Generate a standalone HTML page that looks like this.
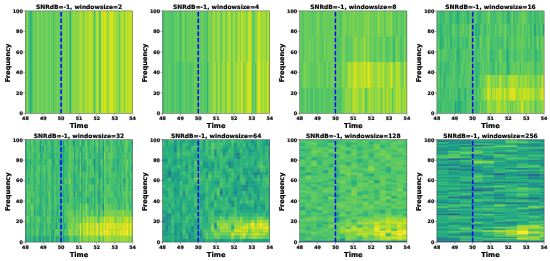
<!DOCTYPE html><html><head><meta charset="utf-8"><style>html,body{margin:0;padding:0;background:#fff;width:550px;height:261px;overflow:hidden}svg{display:block}</style></head><body><svg width="550" height="261" viewBox="0 0 550 261">
<rect width="550" height="261" fill="#fff"/>
<filter id="bl" x="-5%" y="-5%" width="110%" height="110%"><feGaussianBlur stdDeviation="0.45"/></filter>
<clipPath id="c0"><rect x="25.4" y="10.9" width="107.2" height="102.4"/></clipPath>
<g clip-path="url(#c0)">
<g filter="url(#bl)">
<rect x="23.4" y="8.9" width="111.2" height="106.4" fill="#86d549"/>
<path fill="#26ad81" d="M30 8.9h1v106.4h-1zM70 8.9h1v106.4h-1z"/>
<path fill="#37b878" d="M31 8.9h1v106.4h-1z"/>
<path fill="#3bbb75" d="M53 8.9h1v106.4h-1z"/>
<path fill="#44bf70" d="M29 8.9h1v106.4h-1zM94 8.9h1v106.4h-1z"/>
<path fill="#48c16e" d="M69 8.9h1v106.4h-1z"/>
<path fill="#4ec36b" d="M99 8.9h1v106.4h-1z"/>
<path fill="#52c569" d="M32 8.9h1v106.4h-1z"/>
<path fill="#58c765" d="M36 8.9h1v106.4h-1zM40 8.9h1v106.4h-1zM66 8.9h1v106.4h-1z"/>
<path fill="#5ec962" d="M28 8.9h1v106.4h-1zM43 8.9h1v106.4h-1zM48 8.9h1v106.4h-1zM51 8.9h1v106.4h-1zM55 8.9h1v106.4h-1zM59 8.9h1v106.4h-1zM100 8.9h1v106.4h-1z"/>
<path fill="#63cb5f" d="M35 8.9h1v106.4h-1zM39 8.9h1v106.4h-1zM44 8.9h1v106.4h-1zM62 8.9h1v106.4h-1z"/>
<path fill="#69cd5b" d="M33 8.9h1v106.4h-1zM49 8.9h1v106.4h-1zM54 8.9h1v106.4h-1zM56 8.9h1v106.4h-1zM58 8.9h1v106.4h-1zM61 8.9h1v106.4h-1z"/>
<path fill="#6ece58" d="M23.4 8.9h3.6v106.4h-3.6zM42 8.9h1v106.4h-1zM45 8.9h1v106.4h-1zM47 8.9h1v106.4h-1zM60 8.9h1v106.4h-1zM119 8.9h1v106.4h-1z"/>
<path fill="#75d054" d="M34 8.9h1v106.4h-1zM38 8.9h1v106.4h-1zM46 8.9h1v106.4h-1zM50 8.9h1v106.4h-1zM57 8.9h1v106.4h-1zM63 8.9h2v106.4h-2zM71 8.9h1v106.4h-1z"/>
<path fill="#7ad151" d="M27 8.9h1v106.4h-1zM52 8.9h1v106.4h-1zM67 8.9h1v106.4h-1zM83 8.9h1v106.4h-1zM95 8.9h1v106.4h-1z"/>
<path fill="#81d34d" d="M68 8.9h1v106.4h-1zM72 8.9h1v106.4h-1zM124 8.9h1v106.4h-1z"/>
<path fill="#86d549" d="M65 8.9h1v106.4h-1zM75 8.9h3v106.4h-3zM93 8.9h1v106.4h-1zM118 8.9h1v106.4h-1z"/>
<path fill="#8ed645" d="M37 8.9h1v106.4h-1zM41 8.9h1v106.4h-1zM74 8.9h1v106.4h-1zM78 8.9h1v106.4h-1zM84 8.9h1v106.4h-1z"/>
<path fill="#95d840" d="M117 8.9h1v106.4h-1z"/>
<path fill="#9bd93c" d="M73 8.9h1v106.4h-1zM79 8.9h1v106.4h-1zM82 8.9h1v106.4h-1zM107 8.9h1v106.4h-1zM116 8.9h1v106.4h-1zM120 8.9h1v106.4h-1z"/>
<path fill="#a2da37" d="M86 8.9h1v106.4h-1zM88 8.9h1v106.4h-1zM92 8.9h1v106.4h-1zM108 8.9h1v106.4h-1zM114 8.9h1v106.4h-1zM123 8.9h1v106.4h-1z"/>
<path fill="#a8db34" d="M81 8.9h1v106.4h-1zM87 8.9h1v106.4h-1zM98 8.9h1v106.4h-1zM106 8.9h1v106.4h-1zM115 8.9h1v106.4h-1z"/>
<path fill="#b0dd2f" d="M85 8.9h1v106.4h-1zM91 8.9h1v106.4h-1zM121 8.9h1v106.4h-1z"/>
<path fill="#b5de2b" d="M80 8.9h1v106.4h-1zM96 8.9h1v106.4h-1zM113 8.9h1v106.4h-1zM125 8.9h1v106.4h-1zM127 8.9h1v106.4h-1z"/>
<path fill="#bddf26" d="M89 8.9h1v106.4h-1zM97 8.9h1v106.4h-1zM101 8.9h1v106.4h-1zM109 8.9h1v106.4h-1zM122 8.9h1v106.4h-1zM128 8.9h2v106.4h-2z"/>
<path fill="#c2df23" d="M90 8.9h1v106.4h-1zM103 8.9h1v106.4h-1zM126 8.9h1v106.4h-1zM130 8.9h1v106.4h-1z"/>
<path fill="#cae11f" d="M131 8.9h3.6v106.4h-3.6z"/>
<path fill="#d2e21b" d="M102 8.9h1v106.4h-1zM110 8.9h1v106.4h-1z"/>
<path fill="#d8e219" d="M104 8.9h1v106.4h-1zM111 8.9h2v106.4h-2z"/>
<path fill="#dfe318" d="M105 8.9h1v106.4h-1z"/>
</g>
<line x1="61.13" y1="113.3" x2="61.13" y2="10.9" stroke="#0000ff" stroke-width="1.5" stroke-dasharray="4.5 1.95"/>
</g>
<rect x="25.4" y="10.9" width="107.2" height="102.4" fill="none" stroke="#222" stroke-width="0.4"/>
<path d="M25.4 113.3v2.3M43.27 113.3v2.3M61.13 113.3v2.3M79 113.3v2.3M96.87 113.3v2.3M114.73 113.3v2.3M132.6 113.3v2.3M25.4 113.3h-2.3M25.4 92.82h-2.3M25.4 72.34h-2.3M25.4 51.86h-2.3M25.4 31.38h-2.3M25.4 10.9h-2.3" stroke="#444" stroke-width="0.4" fill="none"/>
<g font-family="'DejaVu Sans', 'Liberation Sans', sans-serif" font-weight="bold" stroke="#000" stroke-width="0.18" font-size="4.8" fill="#000">
<text x="25.4" y="119.7" text-anchor="middle">48</text>
<text x="43.27" y="119.7" text-anchor="middle">49</text>
<text x="61.13" y="119.7" text-anchor="middle">50</text>
<text x="79" y="119.7" text-anchor="middle">51</text>
<text x="96.87" y="119.7" text-anchor="middle">52</text>
<text x="114.73" y="119.7" text-anchor="middle">53</text>
<text x="132.6" y="119.7" text-anchor="middle">54</text>
<text x="22.8" y="115.1" text-anchor="end">0</text>
<text x="22.8" y="94.62" text-anchor="end">20</text>
<text x="22.8" y="74.14" text-anchor="end">40</text>
<text x="22.8" y="53.66" text-anchor="end">60</text>
<text x="22.8" y="33.18" text-anchor="end">80</text>
<text x="22.8" y="12.7" text-anchor="end">100</text>
</g>
<text x="79" y="9" text-anchor="middle" font-size="5.95" font-family="'DejaVu Sans', 'Liberation Sans', sans-serif" font-weight="bold" stroke="#000" stroke-width="0.18">SNRdB=-1, windowsize=2</text>
<text x="79" y="127.8" text-anchor="middle" font-size="6.8" font-family="'DejaVu Sans', 'Liberation Sans', sans-serif" font-weight="bold" stroke="#000" stroke-width="0.18">Time</text>
<text transform="translate(9.5 62.95) rotate(-90)" text-anchor="middle" font-size="6.6" font-family="'DejaVu Sans', 'Liberation Sans', sans-serif" font-weight="bold" stroke="#000" stroke-width="0.18">Frequency</text>
<clipPath id="c1"><rect x="162.57" y="10.9" width="107.2" height="102.4"/></clipPath>
<g clip-path="url(#c1)">
<g filter="url(#bl)">
<rect x="160.57" y="8.9" width="111.2" height="106.4" fill="#7ad151"/>
<path fill="#2cb17e" d="M207 62.1h1v53.2h-1z"/>
<path fill="#37b878" d="M180 62.1h1v53.2h-1z"/>
<path fill="#3bbb75" d="M173 62.1h1v53.2h-1zM160.57 8.9h3.43v53.2h-3.43zM180 8.9h1v53.2h-1z"/>
<path fill="#3fbc73" d="M160.57 62.1h3.43v53.2h-3.43zM207 8.9h1v53.2h-1z"/>
<path fill="#44bf70" d="M173 8.9h1v53.2h-1z"/>
<path fill="#48c16e" d="M164 62.1h1v53.2h-1zM167 62.1h1v53.2h-1zM172 62.1h1v53.2h-1zM179 62.1h1v53.2h-1zM185 62.1h1v53.2h-1zM190 62.1h1v53.2h-1zM252 62.1h1v53.2h-1zM255 62.1h1v53.2h-1zM171 8.9h1v53.2h-1zM179 8.9h1v53.2h-1z"/>
<path fill="#4ec36b" d="M177 62.1h2v53.2h-2zM181 62.1h1v53.2h-1zM193 62.1h1v53.2h-1zM201 62.1h1v53.2h-1zM206 62.1h1v53.2h-1zM164 8.9h1v53.2h-1zM185 8.9h1v53.2h-1zM204 8.9h1v53.2h-1zM206 8.9h1v53.2h-1z"/>
<path fill="#52c569" d="M171 62.1h1v53.2h-1zM176 62.1h1v53.2h-1zM188 62.1h1v53.2h-1zM191 62.1h1v53.2h-1zM204 62.1h1v53.2h-1zM168 8.9h1v53.2h-1zM170 8.9h1v53.2h-1zM172 8.9h1v53.2h-1zM181 8.9h1v53.2h-1z"/>
<path fill="#58c765" d="M170 62.1h1v53.2h-1zM182 62.1h1v53.2h-1zM186 62.1h1v53.2h-1zM196 62.1h1v53.2h-1zM167 8.9h1v53.2h-1zM176 8.9h1v53.2h-1zM186 8.9h1v53.2h-1zM197 8.9h1v53.2h-1zM252 8.9h2v53.2h-2z"/>
<path fill="#5ec962" d="M166 62.1h1v53.2h-1zM168 62.1h2v53.2h-2zM175 62.1h1v53.2h-1zM183 62.1h1v53.2h-1zM187 62.1h1v53.2h-1zM189 62.1h1v53.2h-1zM192 62.1h1v53.2h-1zM197 62.1h1v53.2h-1zM200 62.1h1v53.2h-1zM203 62.1h1v53.2h-1zM205 62.1h1v53.2h-1zM208 62.1h1v53.2h-1zM216 62.1h1v53.2h-1zM253 62.1h1v53.2h-1zM165 8.9h1v53.2h-1zM169 8.9h1v53.2h-1zM175 8.9h1v53.2h-1zM188 8.9h1v53.2h-1zM192 8.9h1v53.2h-1zM196 8.9h1v53.2h-1zM198 8.9h1v53.2h-1zM200 8.9h1v53.2h-1zM221 8.9h1v53.2h-1z"/>
<path fill="#63cb5f" d="M165 62.1h1v53.2h-1zM174 62.1h1v53.2h-1zM198 62.1h1v53.2h-1zM166 8.9h1v53.2h-1zM174 8.9h1v53.2h-1zM199 8.9h1v53.2h-1zM203 8.9h1v53.2h-1z"/>
<path fill="#69cd5b" d="M184 62.1h1v53.2h-1zM199 62.1h1v53.2h-1zM202 62.1h1v53.2h-1zM220 62.1h1v53.2h-1zM225 62.1h1v53.2h-1zM232 62.1h1v53.2h-1zM177 8.9h1v53.2h-1zM184 8.9h1v53.2h-1zM189 8.9h3v53.2h-3zM194 8.9h1v53.2h-1zM201 8.9h1v53.2h-1zM205 8.9h1v53.2h-1zM220 8.9h1v53.2h-1zM226 8.9h1v53.2h-1zM231 8.9h1v53.2h-1zM236 8.9h1v53.2h-1zM254 8.9h1v53.2h-1z"/>
<path fill="#6ece58" d="M195 62.1h1v53.2h-1zM221 62.1h1v53.2h-1zM231 62.1h1v53.2h-1zM182 8.9h1v53.2h-1zM193 8.9h1v53.2h-1zM211 8.9h1v53.2h-1zM216 8.9h1v53.2h-1z"/>
<path fill="#75d054" d="M209 62.1h1v53.2h-1zM243 62.1h1v53.2h-1zM178 8.9h1v53.2h-1zM195 8.9h1v53.2h-1zM202 8.9h1v53.2h-1zM210 8.9h1v53.2h-1zM225 8.9h1v53.2h-1zM246 8.9h1v53.2h-1z"/>
<path fill="#7ad151" d="M194 62.1h1v53.2h-1zM211 62.1h1v53.2h-1zM254 62.1h1v53.2h-1zM187 8.9h1v53.2h-1zM208 8.9h1v53.2h-1zM215 8.9h1v53.2h-1zM232 8.9h1v53.2h-1zM235 8.9h1v53.2h-1zM240 8.9h1v53.2h-1zM266 8.9h1v53.2h-1z"/>
<path fill="#81d34d" d="M210 62.1h1v53.2h-1zM212 62.1h1v53.2h-1zM235 62.1h1v53.2h-1zM256 62.1h1v53.2h-1zM183 8.9h1v53.2h-1zM212 8.9h1v53.2h-1z"/>
<path fill="#86d549" d="M226 62.1h1v53.2h-1zM244 62.1h1v53.2h-1zM209 8.9h1v53.2h-1zM222 8.9h1v53.2h-1zM255 8.9h1v53.2h-1z"/>
<path fill="#8ed645" d="M217 62.1h1v53.2h-1zM219 8.9h1v53.2h-1zM256 8.9h1v53.2h-1zM261 8.9h1v53.2h-1z"/>
<path fill="#95d840" d="M213 62.1h1v53.2h-1zM261 62.1h1v53.2h-1zM237 8.9h1v53.2h-1zM247 8.9h1v53.2h-1zM265 8.9h1v53.2h-1z"/>
<path fill="#9bd93c" d="M215 62.1h1v53.2h-1zM219 62.1h1v53.2h-1zM222 62.1h1v53.2h-1zM224 62.1h1v53.2h-1zM233 62.1h1v53.2h-1zM236 62.1h1v53.2h-1zM240 62.1h1v53.2h-1zM245 62.1h1v53.2h-1zM265 62.1h1v53.2h-1zM214 8.9h1v53.2h-1zM217 8.9h1v53.2h-1zM227 8.9h1v53.2h-1zM234 8.9h1v53.2h-1zM245 8.9h1v53.2h-1z"/>
<path fill="#a2da37" d="M214 62.1h1v53.2h-1zM230 62.1h1v53.2h-1zM239 62.1h1v53.2h-1zM251 62.1h1v53.2h-1zM264 62.1h1v53.2h-1zM266 62.1h1v53.2h-1zM213 8.9h1v53.2h-1zM218 8.9h1v53.2h-1zM223 8.9h1v53.2h-1zM230 8.9h1v53.2h-1zM243 8.9h2v53.2h-2zM257 8.9h1v53.2h-1zM262 8.9h1v53.2h-1zM264 8.9h1v53.2h-1z"/>
<path fill="#a8db34" d="M218 62.1h1v53.2h-1zM223 62.1h1v53.2h-1zM237 62.1h1v53.2h-1zM224 8.9h1v53.2h-1zM228 8.9h1v53.2h-1zM233 8.9h1v53.2h-1zM239 8.9h1v53.2h-1zM263 8.9h1v53.2h-1zM267 8.9h1v53.2h-1z"/>
<path fill="#b0dd2f" d="M227 62.1h1v53.2h-1zM234 62.1h1v53.2h-1zM238 62.1h1v53.2h-1zM246 62.1h1v53.2h-1zM262 62.1h1v53.2h-1zM229 8.9h1v53.2h-1zM251 8.9h1v53.2h-1zM260 8.9h1v53.2h-1z"/>
<path fill="#b5de2b" d="M229 62.1h1v53.2h-1zM260 62.1h1v53.2h-1zM263 62.1h1v53.2h-1zM268 62.1h3.77v53.2h-3.77zM238 8.9h1v53.2h-1zM242 8.9h1v53.2h-1z"/>
<path fill="#bddf26" d="M228 62.1h1v53.2h-1zM257 62.1h1v53.2h-1zM248 8.9h1v53.2h-1zM268 8.9h3.77v53.2h-3.77z"/>
<path fill="#c2df23" d="M247 62.1h1v53.2h-1zM250 8.9h1v53.2h-1z"/>
<path fill="#cae11f" d="M250 62.1h1v53.2h-1zM241 8.9h1v53.2h-1zM249 8.9h1v53.2h-1z"/>
<path fill="#d2e21b" d="M241 62.1h1v53.2h-1zM248 62.1h1v53.2h-1zM267 62.1h1v53.2h-1zM258 8.9h2v53.2h-2z"/>
<path fill="#d8e219" d="M242 62.1h1v53.2h-1zM249 62.1h1v53.2h-1zM258 62.1h1v53.2h-1z"/>
<path fill="#e5e419" d="M259 62.1h1v53.2h-1z"/>
</g>
<line x1="198.3" y1="113.3" x2="198.3" y2="10.9" stroke="#0000ff" stroke-width="1.5" stroke-dasharray="4.5 1.95"/>
</g>
<rect x="162.57" y="10.9" width="107.2" height="102.4" fill="none" stroke="#222" stroke-width="0.4"/>
<path d="M162.57 113.3v2.3M180.44 113.3v2.3M198.3 113.3v2.3M216.17 113.3v2.3M234.04 113.3v2.3M251.9 113.3v2.3M269.77 113.3v2.3M162.57 113.3h-2.3M162.57 92.82h-2.3M162.57 72.34h-2.3M162.57 51.86h-2.3M162.57 31.38h-2.3M162.57 10.9h-2.3" stroke="#444" stroke-width="0.4" fill="none"/>
<g font-family="'DejaVu Sans', 'Liberation Sans', sans-serif" font-weight="bold" stroke="#000" stroke-width="0.18" font-size="4.8" fill="#000">
<text x="162.57" y="119.7" text-anchor="middle">48</text>
<text x="180.44" y="119.7" text-anchor="middle">49</text>
<text x="198.3" y="119.7" text-anchor="middle">50</text>
<text x="216.17" y="119.7" text-anchor="middle">51</text>
<text x="234.04" y="119.7" text-anchor="middle">52</text>
<text x="251.9" y="119.7" text-anchor="middle">53</text>
<text x="269.77" y="119.7" text-anchor="middle">54</text>
<text x="159.97" y="115.1" text-anchor="end">0</text>
<text x="159.97" y="94.62" text-anchor="end">20</text>
<text x="159.97" y="74.14" text-anchor="end">40</text>
<text x="159.97" y="53.66" text-anchor="end">60</text>
<text x="159.97" y="33.18" text-anchor="end">80</text>
<text x="159.97" y="12.7" text-anchor="end">100</text>
</g>
<text x="216.17" y="9" text-anchor="middle" font-size="5.95" font-family="'DejaVu Sans', 'Liberation Sans', sans-serif" font-weight="bold" stroke="#000" stroke-width="0.18">SNRdB=-1, windowsize=4</text>
<text x="216.17" y="127.8" text-anchor="middle" font-size="6.8" font-family="'DejaVu Sans', 'Liberation Sans', sans-serif" font-weight="bold" stroke="#000" stroke-width="0.18">Time</text>
<text transform="translate(146.67 62.95) rotate(-90)" text-anchor="middle" font-size="6.6" font-family="'DejaVu Sans', 'Liberation Sans', sans-serif" font-weight="bold" stroke="#000" stroke-width="0.18">Frequency</text>
<clipPath id="c2"><rect x="299.74" y="10.9" width="107.2" height="102.4"/></clipPath>
<g clip-path="url(#c2)">
<g filter="url(#bl)">
<rect x="297.74" y="8.9" width="111.2" height="106.4" fill="#73d056"/>
<path fill="#32b67a" d="M392.91 36.5h2v25.6h-2z"/>
<path fill="#37b878" d="M311.76 87.7h1v27.6h-1z"/>
<path fill="#3bbb75" d="M301.74 87.7h1v27.6h-1zM306.75 87.7h1v27.6h-1zM309.76 87.7h1v27.6h-1zM314.77 87.7h1v27.6h-1z"/>
<path fill="#3fbc73" d="M332.8 87.7h1v27.6h-1zM338.81 87.7h1v27.6h-1zM339.81 8.9h1v27.6h-1z"/>
<path fill="#44bf70" d="M302.75 87.7h1v27.6h-1zM310.76 87.7h1v27.6h-1zM317.77 87.7h1v27.6h-1zM333.8 87.7h1v27.6h-1zM337.81 87.7h1v27.6h-1zM302.75 36.5h1v25.6h-1zM321.78 36.5h1v25.6h-1zM399.93 36.5h1v25.6h-1zM312.76 8.9h1v27.6h-1z"/>
<path fill="#48c16e" d="M300.74 87.7h1v27.6h-1zM315.77 87.7h1v27.6h-1zM320.78 87.7h2v27.6h-2zM327.79 87.7h1v27.6h-1zM339.81 87.7h2v27.6h-2zM364.86 87.7h1v27.6h-1zM339.81 62.1h1v25.6h-1zM314.77 36.5h1v25.6h-1zM337.81 36.5h2v25.6h-2zM302.75 8.9h1v27.6h-1zM395.92 8.9h1v27.6h-1z"/>
<path fill="#4ec36b" d="M316.77 87.7h1v27.6h-1zM324.79 87.7h1v27.6h-1zM326.79 87.7h1v27.6h-1zM300.74 62.1h1v25.6h-1zM314.77 62.1h1v25.6h-1zM324.79 62.1h1v25.6h-1zM328.79 62.1h1v25.6h-1zM338.81 62.1h1v25.6h-1zM301.74 36.5h1v25.6h-1zM339.81 36.5h1v25.6h-1zM344.82 36.5h1v25.6h-1zM350.84 36.5h1v25.6h-1zM385.9 36.5h2v25.6h-2zM400.93 36.5h1v25.6h-1zM301.74 8.9h1v27.6h-1zM311.76 8.9h1v27.6h-1zM338.81 8.9h1v27.6h-1zM340.82 8.9h1v27.6h-1zM392.91 8.9h1v27.6h-1z"/>
<path fill="#52c569" d="M305.75 87.7h1v27.6h-1zM325.79 87.7h1v27.6h-1zM328.79 87.7h1v27.6h-1zM334.81 87.7h1v27.6h-1zM336.81 87.7h1v27.6h-1zM365.86 87.7h1v27.6h-1zM310.76 62.1h1v25.6h-1zM320.78 62.1h1v25.6h-1zM323.78 62.1h1v25.6h-1zM313.77 36.5h1v25.6h-1zM333.8 36.5h1v25.6h-1zM336.81 36.5h1v25.6h-1zM346.83 36.5h2v25.6h-2zM374.88 36.5h1v25.6h-1zM401.93 36.5h2v25.6h-2zM321.78 8.9h1v27.6h-1zM383.9 8.9h1v27.6h-1zM396.92 8.9h1v27.6h-1zM400.93 8.9h2v27.6h-2z"/>
<path fill="#58c765" d="M307.75 87.7h2v27.6h-2zM312.76 87.7h1v27.6h-1zM319.78 87.7h1v27.6h-1zM322.78 87.7h1v27.6h-1zM331.8 87.7h1v27.6h-1zM301.74 62.1h1v25.6h-1zM309.76 62.1h1v25.6h-1zM311.76 62.1h1v25.6h-1zM313.77 62.1h1v25.6h-1zM315.77 62.1h1v25.6h-1zM306.75 36.5h1v25.6h-1zM320.78 36.5h1v25.6h-1zM322.78 36.5h1v25.6h-1zM345.83 36.5h1v25.6h-1zM349.83 36.5h1v25.6h-1zM369.87 36.5h1v25.6h-1zM373.88 36.5h1v25.6h-1zM379.89 36.5h2v25.6h-2zM387.9 36.5h1v25.6h-1zM405.94 36.5h3v25.6h-3zM306.75 8.9h1v27.6h-1zM319.78 8.9h2v27.6h-2zM329.8 8.9h1v27.6h-1zM334.81 8.9h1v27.6h-1zM337.81 8.9h1v27.6h-1zM393.92 8.9h1v27.6h-1zM402.93 8.9h1v27.6h-1z"/>
<path fill="#5ec962" d="M297.74 87.7h3v27.6h-3zM318.78 87.7h1v27.6h-1zM329.8 87.7h2v27.6h-2zM335.81 87.7h1v27.6h-1zM391.91 87.7h1v27.6h-1zM297.74 62.1h3v25.6h-3zM306.75 62.1h1v25.6h-1zM322.78 62.1h1v25.6h-1zM329.8 62.1h1v25.6h-1zM333.8 62.1h1v25.6h-1zM337.81 62.1h1v25.6h-1zM401.93 62.1h1v25.6h-1zM300.74 36.5h1v25.6h-1zM303.75 36.5h1v25.6h-1zM309.76 36.5h1v25.6h-1zM315.77 36.5h1v25.6h-1zM319.78 36.5h1v25.6h-1zM325.79 36.5h1v25.6h-1zM340.82 36.5h1v25.6h-1zM351.84 36.5h1v25.6h-1zM370.87 36.5h1v25.6h-1zM375.88 36.5h1v25.6h-1zM378.89 36.5h1v25.6h-1zM384.9 36.5h1v25.6h-1zM391.91 36.5h1v25.6h-1zM300.74 8.9h1v27.6h-1zM309.76 8.9h2v27.6h-2zM313.77 8.9h2v27.6h-2zM322.78 8.9h1v27.6h-1zM333.8 8.9h1v27.6h-1zM358.85 8.9h1v27.6h-1zM361.86 8.9h1v27.6h-1zM373.88 8.9h1v27.6h-1zM375.88 8.9h1v27.6h-1zM384.9 8.9h1v27.6h-1zM399.93 8.9h1v27.6h-1z"/>
<path fill="#63cb5f" d="M303.75 87.7h2v27.6h-2zM323.78 87.7h1v27.6h-1zM341.82 87.7h1v27.6h-1zM302.75 62.1h1v25.6h-1zM312.76 62.1h1v25.6h-1zM325.79 62.1h1v25.6h-1zM327.79 62.1h1v25.6h-1zM340.82 62.1h1v25.6h-1zM305.75 36.5h1v25.6h-1zM310.76 36.5h1v25.6h-1zM318.78 36.5h1v25.6h-1zM326.79 36.5h1v25.6h-1zM332.8 36.5h1v25.6h-1zM334.81 36.5h1v25.6h-1zM358.85 36.5h1v25.6h-1zM372.88 36.5h1v25.6h-1zM381.89 36.5h1v25.6h-1zM388.91 36.5h1v25.6h-1zM394.92 36.5h1v25.6h-1zM303.75 8.9h1v27.6h-1zM308.76 8.9h1v27.6h-1zM325.79 8.9h2v27.6h-2zM328.79 8.9h1v27.6h-1zM332.8 8.9h1v27.6h-1zM336.81 8.9h1v27.6h-1zM341.82 8.9h1v27.6h-1zM346.83 8.9h2v27.6h-2zM355.84 8.9h1v27.6h-1zM369.87 8.9h2v27.6h-2zM404.94 8.9h4v27.6h-4z"/>
<path fill="#69cd5b" d="M313.77 87.7h1v27.6h-1zM342.82 87.7h1v27.6h-1zM307.75 62.1h1v25.6h-1zM316.77 62.1h1v25.6h-1zM319.78 62.1h1v25.6h-1zM332.8 62.1h1v25.6h-1zM334.81 62.1h1v25.6h-1zM336.81 62.1h1v25.6h-1zM344.82 62.1h1v25.6h-1zM311.76 36.5h2v25.6h-2zM317.77 36.5h1v25.6h-1zM324.79 36.5h1v25.6h-1zM330.8 36.5h1v25.6h-1zM335.81 36.5h1v25.6h-1zM348.83 36.5h1v25.6h-1zM365.86 36.5h1v25.6h-1zM389.91 36.5h2v25.6h-2zM397.92 36.5h2v25.6h-2zM307.75 8.9h1v27.6h-1zM315.77 8.9h1v27.6h-1zM324.79 8.9h1v27.6h-1zM327.79 8.9h1v27.6h-1zM335.81 8.9h1v27.6h-1zM345.83 8.9h1v27.6h-1zM359.85 8.9h1v27.6h-1zM372.88 8.9h1v27.6h-1zM380.89 8.9h1v27.6h-1zM391.91 8.9h1v27.6h-1zM394.92 8.9h1v27.6h-1z"/>
<path fill="#6ece58" d="M350.84 87.7h1v27.6h-1zM384.9 87.7h1v27.6h-1zM392.91 87.7h1v27.6h-1zM305.75 62.1h1v25.6h-1zM308.76 62.1h1v25.6h-1zM317.77 62.1h1v25.6h-1zM321.78 62.1h1v25.6h-1zM330.8 62.1h1v25.6h-1zM345.83 62.1h1v25.6h-1zM297.74 36.5h3v25.6h-3zM304.75 36.5h1v25.6h-1zM307.75 36.5h1v25.6h-1zM327.79 36.5h3.01v25.6h-3.01zM331.8 36.5h1v25.6h-1zM341.82 36.5h1v25.6h-1zM357.85 36.5h1v25.6h-1zM361.86 36.5h1v25.6h-1zM377.89 36.5h1v25.6h-1zM396.92 36.5h1v25.6h-1zM297.74 8.9h3v27.6h-3zM304.75 8.9h2v27.6h-2zM318.78 8.9h1v27.6h-1zM330.8 8.9h2v27.6h-2zM350.84 8.9h1v27.6h-1zM354.84 8.9h1v27.6h-1zM362.86 8.9h1v27.6h-1zM365.86 8.9h1v27.6h-1zM374.88 8.9h1v27.6h-1zM397.92 8.9h2v27.6h-2zM403.93 8.9h1v27.6h-1z"/>
<path fill="#75d054" d="M343.82 87.7h1v27.6h-1zM380.89 87.7h1v27.6h-1zM400.93 87.7h1v27.6h-1zM318.78 62.1h1v25.6h-1zM331.8 62.1h1v25.6h-1zM384.9 62.1h1v25.6h-1zM400.93 62.1h1v25.6h-1zM308.76 36.5h1v25.6h-1zM323.78 36.5h1v25.6h-1zM356.85 36.5h1v25.6h-1zM383.9 36.5h1v25.6h-1zM404.94 36.5h1v25.6h-1zM317.77 8.9h1v27.6h-1zM344.82 8.9h1v27.6h-1zM348.83 8.9h1v27.6h-1zM351.84 8.9h1v27.6h-1zM353.84 8.9h1v27.6h-1zM356.85 8.9h2v27.6h-2zM360.85 8.9h1v27.6h-1zM371.87 8.9h1v27.6h-1zM385.9 8.9h1v27.6h-1zM387.9 8.9h2v27.6h-2z"/>
<path fill="#7ad151" d="M366.87 87.7h1v27.6h-1zM373.88 87.7h1v27.6h-1zM303.75 62.1h2v25.6h-2zM326.79 62.1h1v25.6h-1zM335.81 62.1h1v25.6h-1zM392.91 62.1h1v25.6h-1zM316.77 36.5h1v25.6h-1zM359.85 36.5h1v25.6h-1zM366.87 36.5h1v25.6h-1zM371.87 36.5h1v25.6h-1zM376.88 36.5h1v25.6h-1zM395.92 36.5h1v25.6h-1zM403.93 36.5h1v25.6h-1zM316.77 8.9h1v27.6h-1zM323.78 8.9h1v27.6h-1zM342.82 8.9h1v27.6h-1zM349.83 8.9h1v27.6h-1zM352.84 8.9h1v27.6h-1zM376.88 8.9h1v27.6h-1zM379.89 8.9h1v27.6h-1zM382.9 8.9h1v27.6h-1z"/>
<path fill="#81d34d" d="M358.85 87.7h2v27.6h-2zM381.89 87.7h1v27.6h-1zM341.82 62.1h1v25.6h-1zM343.82 62.1h1v25.6h-1zM393.92 62.1h1v25.6h-1zM402.93 62.1h1v25.6h-1zM342.82 36.5h2v25.6h-2zM352.84 36.5h2v25.6h-2zM362.86 36.5h1v25.6h-1zM368.87 36.5h1v25.6h-1zM382.9 36.5h1v25.6h-1zM343.82 8.9h1v27.6h-1zM364.86 8.9h1v27.6h-1zM368.87 8.9h1v27.6h-1zM381.89 8.9h1v27.6h-1z"/>
<path fill="#86d549" d="M344.82 87.7h1v27.6h-1zM372.88 87.7h1v27.6h-1zM375.88 87.7h1v27.6h-1zM379.89 87.7h1v27.6h-1zM393.92 87.7h1v27.6h-1zM401.93 87.7h1v27.6h-1zM373.88 62.1h1v25.6h-1zM399.93 62.1h1v25.6h-1zM360.85 36.5h1v25.6h-1zM366.87 8.9h1v27.6h-1zM378.89 8.9h1v27.6h-1zM386.9 8.9h1v27.6h-1zM389.91 8.9h1v27.6h-1z"/>
<path fill="#8ed645" d="M345.83 87.7h3.01v27.6h-3.01zM370.87 87.7h1v27.6h-1zM378.89 87.7h1v27.6h-1zM342.82 62.1h1v25.6h-1zM346.83 62.1h1v25.6h-1zM387.9 62.1h1v25.6h-1zM355.84 36.5h1v25.6h-1zM364.86 36.5h1v25.6h-1zM367.87 36.5h1v25.6h-1zM363.86 8.9h1v27.6h-1zM367.87 8.9h1v27.6h-1z"/>
<path fill="#95d840" d="M349.83 87.7h1v27.6h-1zM367.87 87.7h1v27.6h-1zM387.9 87.7h2v27.6h-2zM374.88 62.1h2v25.6h-2zM380.89 62.1h1v25.6h-1zM385.9 62.1h1v25.6h-1zM404.94 62.1h1v25.6h-1zM354.84 36.5h1v25.6h-1zM377.89 8.9h1v27.6h-1zM390.91 8.9h1v27.6h-1z"/>
<path fill="#9bd93c" d="M348.83 87.7h1v27.6h-1zM357.85 87.7h1v27.6h-1zM374.88 87.7h1v27.6h-1zM376.88 87.7h1v27.6h-1zM389.91 87.7h2v27.6h-2zM394.92 87.7h1v27.6h-1zM403.93 87.7h1v27.6h-1zM350.84 62.1h1v25.6h-1zM383.9 62.1h1v25.6h-1zM394.92 62.1h1v25.6h-1z"/>
<path fill="#a2da37" d="M351.84 87.7h1v27.6h-1zM363.86 87.7h1v27.6h-1zM369.87 87.7h1v27.6h-1zM385.9 87.7h1v27.6h-1zM397.92 87.7h1v27.6h-1zM402.93 87.7h1v27.6h-1zM372.88 62.1h1v25.6h-1zM386.9 62.1h1v25.6h-1zM405.94 62.1h3v25.6h-3z"/>
<path fill="#a8db34" d="M360.85 87.7h2v27.6h-2zM399.93 87.7h1v27.6h-1zM347.83 62.1h1v25.6h-1zM376.88 62.1h1v25.6h-1zM379.89 62.1h1v25.6h-1zM395.92 62.1h1v25.6h-1z"/>
<path fill="#b0dd2f" d="M354.84 87.7h1v27.6h-1zM371.87 87.7h1v27.6h-1zM383.9 87.7h1v27.6h-1zM395.92 87.7h2v27.6h-2zM404.94 87.7h4v27.6h-4zM351.84 62.1h1v25.6h-1zM358.85 62.1h1v25.6h-1zM365.86 62.1h1v25.6h-1zM370.87 62.1h1v25.6h-1zM378.89 62.1h1v25.6h-1zM388.91 62.1h1v25.6h-1zM363.86 36.5h1v25.6h-1z"/>
<path fill="#b5de2b" d="M356.85 87.7h1v27.6h-1zM377.89 87.7h1v27.6h-1zM349.83 62.1h1v25.6h-1zM355.84 62.1h3.01v25.6h-3.01zM381.89 62.1h1v25.6h-1zM391.91 62.1h1v25.6h-1zM397.92 62.1h2v25.6h-2z"/>
<path fill="#bddf26" d="M362.86 87.7h1v27.6h-1zM382.9 87.7h1v27.6h-1zM398.93 87.7h1v27.6h-1zM359.85 62.1h1v25.6h-1zM362.86 62.1h1v25.6h-1zM369.87 62.1h1v25.6h-1zM371.87 62.1h1v25.6h-1zM389.91 62.1h1v25.6h-1zM396.92 62.1h1v25.6h-1zM403.93 62.1h1v25.6h-1z"/>
<path fill="#c2df23" d="M353.84 87.7h1v27.6h-1zM355.84 87.7h1v27.6h-1zM368.87 87.7h1v27.6h-1zM386.9 87.7h1v27.6h-1zM348.83 62.1h1v25.6h-1zM352.84 62.1h1v25.6h-1zM361.86 62.1h1v25.6h-1zM364.86 62.1h1v25.6h-1zM382.9 62.1h1v25.6h-1z"/>
<path fill="#cae11f" d="M366.87 62.1h1v25.6h-1z"/>
<path fill="#d2e21b" d="M352.84 87.7h1v27.6h-1zM353.84 62.1h1v25.6h-1zM360.85 62.1h1v25.6h-1zM377.89 62.1h1v25.6h-1z"/>
<path fill="#dfe318" d="M390.91 62.1h1v25.6h-1z"/>
<path fill="#e5e419" d="M363.86 62.1h1v25.6h-1zM368.87 62.1h1v25.6h-1z"/>
<path fill="#ece51b" d="M354.84 62.1h1v25.6h-1z"/>
<path fill="#f1e51d" d="M367.87 62.1h1v25.6h-1z"/>
</g>
<line x1="335.47" y1="113.3" x2="335.47" y2="10.9" stroke="#0000ff" stroke-width="1.5" stroke-dasharray="4.5 1.95"/>
</g>
<rect x="299.74" y="10.9" width="107.2" height="102.4" fill="none" stroke="#222" stroke-width="0.4"/>
<path d="M299.74 113.3v2.3M317.61 113.3v2.3M335.47 113.3v2.3M353.34 113.3v2.3M371.21 113.3v2.3M389.07 113.3v2.3M406.94 113.3v2.3M299.74 113.3h-2.3M299.74 92.82h-2.3M299.74 72.34h-2.3M299.74 51.86h-2.3M299.74 31.38h-2.3M299.74 10.9h-2.3" stroke="#444" stroke-width="0.4" fill="none"/>
<g font-family="'DejaVu Sans', 'Liberation Sans', sans-serif" font-weight="bold" stroke="#000" stroke-width="0.18" font-size="4.8" fill="#000">
<text x="299.74" y="119.7" text-anchor="middle">48</text>
<text x="317.61" y="119.7" text-anchor="middle">49</text>
<text x="335.47" y="119.7" text-anchor="middle">50</text>
<text x="353.34" y="119.7" text-anchor="middle">51</text>
<text x="371.21" y="119.7" text-anchor="middle">52</text>
<text x="389.07" y="119.7" text-anchor="middle">53</text>
<text x="406.94" y="119.7" text-anchor="middle">54</text>
<text x="297.14" y="115.1" text-anchor="end">0</text>
<text x="297.14" y="94.62" text-anchor="end">20</text>
<text x="297.14" y="74.14" text-anchor="end">40</text>
<text x="297.14" y="53.66" text-anchor="end">60</text>
<text x="297.14" y="33.18" text-anchor="end">80</text>
<text x="297.14" y="12.7" text-anchor="end">100</text>
</g>
<text x="353.34" y="9" text-anchor="middle" font-size="5.95" font-family="'DejaVu Sans', 'Liberation Sans', sans-serif" font-weight="bold" stroke="#000" stroke-width="0.18">SNRdB=-1, windowsize=8</text>
<text x="353.34" y="127.8" text-anchor="middle" font-size="6.8" font-family="'DejaVu Sans', 'Liberation Sans', sans-serif" font-weight="bold" stroke="#000" stroke-width="0.18">Time</text>
<text transform="translate(283.84 62.95) rotate(-90)" text-anchor="middle" font-size="6.6" font-family="'DejaVu Sans', 'Liberation Sans', sans-serif" font-weight="bold" stroke="#000" stroke-width="0.18">Frequency</text>
<clipPath id="c3"><rect x="436.9" y="10.9" width="107.2" height="102.4"/></clipPath>
<g clip-path="url(#c3)">
<g filter="url(#bl)">
<rect x="434.9" y="8.9" width="111.2" height="106.4" fill="#5ac864"/>
<path fill="#1f978b" d="M507.03 49.3h1v12.8h-1z"/>
<path fill="#1f9f88" d="M454.93 100.5h1v14.8h-1z"/>
<path fill="#21a685" d="M457.94 49.3h1v12.8h-1zM475.97 23.7h1v12.8h-1zM534.08 23.7h2v12.8h-2z"/>
<path fill="#22a884" d="M459.94 100.5h1v14.8h-1zM441.91 36.5h1v12.8h-1zM456.94 8.9h1v14.8h-1z"/>
<path fill="#25ab82" d="M457.94 100.5h1v14.8h-1zM443.91 74.9h1v12.8h-1zM508.03 62.1h1v12.8h-1zM449.92 23.7h1v12.8h-1zM543.1 23.7h3v12.8h-3zM507.03 8.9h1v14.8h-1z"/>
<path fill="#26ad81" d="M456.94 100.5h1v14.8h-1zM464.95 87.7h1v12.8h-1zM475.97 74.9h1v12.8h-1zM439.91 36.5h1v12.8h-1zM457.94 8.9h1v14.8h-1z"/>
<path fill="#29af7f" d="M457.94 87.7h1v12.8h-1zM439.91 62.1h1v12.8h-1zM458.94 62.1h1v12.8h-1zM493 62.1h1v12.8h-1zM536.09 49.3h1v12.8h-1zM477.98 36.5h1v12.8h-1zM439.91 23.7h1v12.8h-1zM442.91 8.9h1v14.8h-1zM466.96 8.9h1v14.8h-1zM508.03 8.9h1v14.8h-1z"/>
<path fill="#2cb17e" d="M458.94 100.5h1v14.8h-1zM458.94 87.7h1v12.8h-1zM507.03 62.1h1v12.8h-1zM456.94 49.3h1v12.8h-1zM440.91 36.5h1v12.8h-1zM449.92 36.5h1v12.8h-1zM507.03 36.5h1v12.8h-1zM440.91 23.7h1v12.8h-1zM478.98 23.7h1v12.8h-1zM449.92 8.9h1v14.8h-1zM530.07 8.9h1v14.8h-1z"/>
<path fill="#2fb47c" d="M439.91 100.5h1v14.8h-1zM475.97 62.1h1v12.8h-1zM491 49.3h1v12.8h-1zM535.08 49.3h1v12.8h-1zM450.93 36.5h1v12.8h-1zM457.94 36.5h1v12.8h-1zM465.95 36.5h1v12.8h-1zM539.09 36.5h1v12.8h-1zM477.98 23.7h1v12.8h-1zM530.07 23.7h1v12.8h-1zM477.98 8.9h1v14.8h-1z"/>
<path fill="#32b67a" d="M475.97 100.5h1v14.8h-1zM439.91 87.7h1v12.8h-1zM459.94 87.7h1v12.8h-1zM463.95 87.7h1v12.8h-1zM439.91 74.9h1v12.8h-1zM444.91 62.1h1v12.8h-1zM457.94 62.1h1v12.8h-1zM477.98 62.1h1v12.8h-1zM475.97 49.3h1v12.8h-1zM457.94 23.7h1v12.8h-1zM539.09 23.7h1v12.8h-1zM439.91 8.9h1v14.8h-1zM455.94 8.9h1v14.8h-1zM458.94 8.9h1v14.8h-1zM467.96 8.9h1v14.8h-1zM479.98 8.9h1v14.8h-1zM509.03 8.9h1v14.8h-1zM535.08 8.9h1v14.8h-1zM541.09 8.9h1v14.8h-1z"/>
<path fill="#37b878" d="M453.93 100.5h1v14.8h-1zM455.94 100.5h1v14.8h-1zM460.94 100.5h1v14.8h-1zM464.95 100.5h1v14.8h-1zM442.91 87.7h1v12.8h-1zM442.91 74.9h1v12.8h-1zM476.97 74.9h1v12.8h-1zM445.92 62.1h1v12.8h-1zM447.92 62.1h1v12.8h-1zM491 62.1h1v12.8h-1zM490 49.3h1v12.8h-1zM508.03 49.3h1v12.8h-1zM456.94 36.5h1v12.8h-1zM475.97 36.5h2v12.8h-2zM497.01 36.5h1v12.8h-1zM502.02 36.5h1v12.8h-1zM534.08 36.5h2v12.8h-2zM441.91 23.7h1v12.8h-1zM456.94 23.7h1v12.8h-1zM474.97 23.7h1v12.8h-1zM484.99 23.7h1v12.8h-1zM440.91 8.9h1v14.8h-1zM450.93 8.9h2v14.8h-2zM454.93 8.9h1v14.8h-1zM478.98 8.9h1v14.8h-1zM514.04 8.9h1v14.8h-1z"/>
<path fill="#3bbb75" d="M437.9 100.5h2v14.8h-2zM471.97 100.5h1v14.8h-1zM474.97 100.5h1v14.8h-1zM443.91 87.7h1v12.8h-1zM447.92 87.7h1v12.8h-1zM456.94 87.7h1v12.8h-1zM461.95 74.9h1v12.8h-1zM455.94 62.1h1v12.8h-1zM476.97 62.1h1v12.8h-1zM498.01 62.1h1v12.8h-1zM440.91 49.3h1v12.8h-1zM447.92 49.3h1v12.8h-1zM455.94 49.3h1v12.8h-1zM458.94 49.3h1v12.8h-1zM494.01 49.3h1v12.8h-1zM527.07 49.3h1v12.8h-1zM534.08 49.3h1v12.8h-1zM458.94 36.5h1v12.8h-1zM461.95 36.5h1v12.8h-1zM466.96 36.5h1v12.8h-1zM492 36.5h1v12.8h-1zM531.08 36.5h1v12.8h-1zM476.97 23.7h1v12.8h-1zM510.04 23.7h1v12.8h-1zM448.92 8.9h1v14.8h-1zM491 8.9h1v14.8h-1zM510.04 8.9h1v14.8h-1zM528.07 8.9h1v14.8h-1zM537.09 8.9h1v14.8h-1z"/>
<path fill="#3fbc73" d="M445.92 100.5h1v14.8h-1zM447.92 100.5h1v14.8h-1zM449.92 100.5h1v14.8h-1zM461.95 100.5h1v14.8h-1zM463.95 100.5h1v14.8h-1zM440.91 87.7h1v12.8h-1zM446.92 87.7h1v12.8h-1zM453.93 87.7h1v12.8h-1zM465.95 87.7h1v12.8h-1zM444.91 74.9h1v12.8h-1zM455.94 74.9h1v12.8h-1zM457.94 74.9h1v12.8h-1zM440.91 62.1h1v12.8h-1zM443.91 62.1h1v12.8h-1zM446.92 62.1h1v12.8h-1zM456.94 62.1h1v12.8h-1zM463.95 62.1h1v12.8h-1zM474.97 62.1h1v12.8h-1zM509.03 62.1h1v12.8h-1zM534.08 62.1h2v12.8h-2zM459.94 49.3h1v12.8h-1zM492 49.3h2v12.8h-2zM506.03 49.3h1v12.8h-1zM515.05 49.3h1v12.8h-1zM524.06 49.3h1v12.8h-1zM539.09 49.3h1v12.8h-1zM442.91 36.5h1v12.8h-1zM446.92 36.5h1v12.8h-1zM451.93 36.5h1v12.8h-1zM483.99 36.5h1v12.8h-1zM491 36.5h1v12.8h-1zM434.9 23.7h3v12.8h-3zM438.9 23.7h1v12.8h-1zM445.92 23.7h1v12.8h-1zM467.96 23.7h1v12.8h-1zM471.97 23.7h1v12.8h-1zM483.99 23.7h1v12.8h-1zM491 23.7h1v12.8h-1zM497.01 23.7h1v12.8h-1zM514.04 23.7h1v12.8h-1zM538.09 23.7h1v12.8h-1zM542.1 23.7h1v12.8h-1zM471.97 8.9h1v14.8h-1zM476.97 8.9h1v14.8h-1zM493 8.9h3.01v14.8h-3.01zM502.02 8.9h2v14.8h-2zM517.05 8.9h1v14.8h-1zM531.08 8.9h1v14.8h-1zM534.08 8.9h1v14.8h-1zM538.09 8.9h1v14.8h-1z"/>
<path fill="#44bf70" d="M440.91 100.5h1v14.8h-1zM444.91 100.5h1v14.8h-1zM448.92 100.5h1v14.8h-1zM450.93 100.5h2v14.8h-2zM462.95 100.5h1v14.8h-1zM472.97 100.5h2v14.8h-2zM476.97 100.5h2v14.8h-2zM481.98 100.5h1v14.8h-1zM450.93 87.7h1v12.8h-1zM468.96 87.7h1v12.8h-1zM472.97 87.7h1v12.8h-1zM475.97 87.7h1v12.8h-1zM456.94 74.9h1v12.8h-1zM477.98 74.9h1v12.8h-1zM438.9 62.1h1v12.8h-1zM448.92 62.1h1v12.8h-1zM450.93 62.1h1v12.8h-1zM471.97 62.1h1v12.8h-1zM478.98 62.1h1v12.8h-1zM494.01 62.1h1v12.8h-1zM520.06 62.1h1v12.8h-1zM439.91 49.3h1v12.8h-1zM448.92 49.3h3.01v12.8h-3.01zM452.93 49.3h1v12.8h-1zM461.95 49.3h1v12.8h-1zM464.95 49.3h1v12.8h-1zM473.97 49.3h1v12.8h-1zM514.04 49.3h1v12.8h-1zM529.07 49.3h1v12.8h-1zM462.95 36.5h1v12.8h-1zM464.95 36.5h1v12.8h-1zM501.02 36.5h1v12.8h-1zM508.03 36.5h1v12.8h-1zM510.04 36.5h1v12.8h-1zM526.07 36.5h2v12.8h-2zM530.07 36.5h1v12.8h-1zM437.9 23.7h1v12.8h-1zM446.92 23.7h1v12.8h-1zM448.92 23.7h1v12.8h-1zM463.95 23.7h1v12.8h-1zM494.01 23.7h1v12.8h-1zM507.03 23.7h2v12.8h-2zM520.06 23.7h1v12.8h-1zM531.08 23.7h1v12.8h-1zM441.91 8.9h1v14.8h-1zM443.91 8.9h1v14.8h-1zM465.95 8.9h1v14.8h-1zM468.96 8.9h1v14.8h-1zM513.04 8.9h1v14.8h-1zM533.08 8.9h1v14.8h-1zM536.09 8.9h1v14.8h-1z"/>
<path fill="#48c16e" d="M441.91 100.5h1v14.8h-1zM446.92 100.5h1v14.8h-1zM465.95 100.5h1v14.8h-1zM441.91 87.7h1v12.8h-1zM451.93 87.7h1v12.8h-1zM447.92 74.9h1v12.8h-1zM462.95 74.9h1v12.8h-1zM474.97 74.9h1v12.8h-1zM441.91 62.1h2v12.8h-2zM449.92 62.1h1v12.8h-1zM454.93 62.1h1v12.8h-1zM473.97 62.1h1v12.8h-1zM497.01 62.1h1v12.8h-1zM506.03 62.1h1v12.8h-1zM541.09 62.1h1v12.8h-1zM446.92 49.3h1v12.8h-1zM451.93 49.3h1v12.8h-1zM467.96 49.3h1v12.8h-1zM471.97 49.3h1v12.8h-1zM478.98 49.3h1v12.8h-1zM483.99 49.3h2v12.8h-2zM497.01 49.3h1v12.8h-1zM504.03 49.3h1v12.8h-1zM509.03 49.3h1v12.8h-1zM513.04 49.3h1v12.8h-1zM526.07 49.3h1v12.8h-1zM528.07 49.3h1v12.8h-1zM438.9 36.5h1v12.8h-1zM453.93 36.5h3.01v12.8h-3.01zM482.99 36.5h1v12.8h-1zM495.01 36.5h1v12.8h-1zM499.02 36.5h1v12.8h-1zM506.03 36.5h1v12.8h-1zM443.91 23.7h1v12.8h-1zM447.92 23.7h1v12.8h-1zM450.93 23.7h1v12.8h-1zM473.97 23.7h1v12.8h-1zM482.99 23.7h1v12.8h-1zM485.99 23.7h1v12.8h-1zM492 23.7h1v12.8h-1zM509.03 23.7h1v12.8h-1zM513.04 23.7h1v12.8h-1zM515.05 23.7h2v12.8h-2zM524.06 23.7h1v12.8h-1zM527.07 23.7h1v12.8h-1zM533.08 23.7h1v12.8h-1zM536.09 23.7h1v12.8h-1zM434.9 8.9h3v14.8h-3zM459.94 8.9h2v14.8h-2zM463.95 8.9h2v14.8h-2zM473.97 8.9h1v14.8h-1zM475.97 8.9h1v14.8h-1zM480.98 8.9h1v14.8h-1zM483.99 8.9h1v14.8h-1zM485.99 8.9h1v14.8h-1zM492 8.9h1v14.8h-1zM505.03 8.9h1v14.8h-1zM516.05 8.9h1v14.8h-1z"/>
<path fill="#4ec36b" d="M434.9 100.5h3v14.8h-3zM443.91 100.5h1v14.8h-1zM468.96 100.5h1v14.8h-1zM478.98 100.5h1v14.8h-1zM535.08 100.5h1v14.8h-1zM444.91 87.7h2v12.8h-2zM449.92 87.7h1v12.8h-1zM461.95 87.7h2v12.8h-2zM469.96 87.7h1v12.8h-1zM471.97 87.7h1v12.8h-1zM476.97 87.7h1v12.8h-1zM478.98 87.7h1v12.8h-1zM434.9 74.9h3v12.8h-3zM440.91 74.9h1v12.8h-1zM445.92 74.9h2v12.8h-2zM448.92 74.9h1v12.8h-1zM450.93 74.9h1v12.8h-1zM454.93 74.9h1v12.8h-1zM458.94 74.9h1v12.8h-1zM463.95 74.9h2v12.8h-2zM478.98 74.9h1v12.8h-1zM451.93 62.1h1v12.8h-1zM480.98 62.1h1v12.8h-1zM483.99 62.1h2v12.8h-2zM492 62.1h1v12.8h-1zM502.02 62.1h1v12.8h-1zM505.03 62.1h1v12.8h-1zM537.09 62.1h1v12.8h-1zM453.93 49.3h1v12.8h-1zM465.95 49.3h1v12.8h-1zM468.96 49.3h1v12.8h-1zM472.97 49.3h1v12.8h-1zM477.98 49.3h1v12.8h-1zM481.98 49.3h1v12.8h-1zM495.01 49.3h1v12.8h-1zM502.02 49.3h2v12.8h-2zM510.04 49.3h1v12.8h-1zM516.05 49.3h1v12.8h-1zM519.05 49.3h1v12.8h-1zM530.07 49.3h1v12.8h-1zM537.09 49.3h1v12.8h-1zM540.09 49.3h1v12.8h-1zM443.91 36.5h1v12.8h-1zM447.92 36.5h1v12.8h-1zM463.95 36.5h1v12.8h-1zM471.97 36.5h1v12.8h-1zM474.97 36.5h1v12.8h-1zM478.98 36.5h1v12.8h-1zM490 36.5h1v12.8h-1zM498.01 36.5h1v12.8h-1zM500.02 36.5h1v12.8h-1zM503.02 36.5h1v12.8h-1zM514.04 36.5h1v12.8h-1zM516.05 36.5h1v12.8h-1zM540.09 36.5h1v12.8h-1zM442.91 23.7h1v12.8h-1zM444.91 23.7h1v12.8h-1zM454.93 23.7h1v12.8h-1zM458.94 23.7h1v12.8h-1zM472.97 23.7h1v12.8h-1zM479.98 23.7h1v12.8h-1zM493 23.7h1v12.8h-1zM502.02 23.7h1v12.8h-1zM438.9 8.9h1v14.8h-1zM446.92 8.9h2v14.8h-2zM453.93 8.9h1v14.8h-1zM472.97 8.9h1v14.8h-1zM484.99 8.9h1v14.8h-1zM527.07 8.9h1v14.8h-1zM529.07 8.9h1v14.8h-1zM542.1 8.9h1v14.8h-1z"/>
<path fill="#52c569" d="M442.91 100.5h1v14.8h-1zM452.93 100.5h1v14.8h-1zM466.96 100.5h2v14.8h-2zM510.04 100.5h1v14.8h-1zM437.9 87.7h2v12.8h-2zM454.93 87.7h2v12.8h-2zM460.94 87.7h1v12.8h-1zM470.96 87.7h1v12.8h-1zM474.97 87.7h1v12.8h-1zM479.98 87.7h1v12.8h-1zM451.93 74.9h1v12.8h-1zM453.93 74.9h1v12.8h-1zM465.95 74.9h1v12.8h-1zM470.96 74.9h1v12.8h-1zM472.97 74.9h2v12.8h-2zM434.9 62.1h3v12.8h-3zM453.93 62.1h1v12.8h-1zM459.94 62.1h1v12.8h-1zM465.95 62.1h1v12.8h-1zM467.96 62.1h1v12.8h-1zM472.97 62.1h1v12.8h-1zM479.98 62.1h1v12.8h-1zM486.99 62.1h1v12.8h-1zM490 62.1h1v12.8h-1zM536.09 62.1h1v12.8h-1zM539.09 62.1h2v12.8h-2zM434.9 49.3h3v12.8h-3zM445.92 49.3h1v12.8h-1zM460.94 49.3h1v12.8h-1zM476.97 49.3h1v12.8h-1zM485.99 49.3h1v12.8h-1zM489 49.3h1v12.8h-1zM496.01 49.3h1v12.8h-1zM505.03 49.3h1v12.8h-1zM531.08 49.3h1v12.8h-1zM533.08 49.3h1v12.8h-1zM538.09 49.3h1v12.8h-1zM541.09 49.3h1v12.8h-1zM452.93 36.5h1v12.8h-1zM459.94 36.5h1v12.8h-1zM467.96 36.5h1v12.8h-1zM481.98 36.5h1v12.8h-1zM484.99 36.5h1v12.8h-1zM493 36.5h1v12.8h-1zM496.01 36.5h1v12.8h-1zM513.04 36.5h1v12.8h-1zM455.94 23.7h1v12.8h-1zM465.95 23.7h1v12.8h-1zM481.98 23.7h1v12.8h-1zM488 23.7h1v12.8h-1zM503.02 23.7h1v12.8h-1zM437.9 8.9h1v14.8h-1zM444.91 8.9h1v14.8h-1zM452.93 8.9h1v14.8h-1zM461.95 8.9h2v14.8h-2zM481.98 8.9h1v14.8h-1zM490 8.9h1v14.8h-1zM496.01 8.9h2v14.8h-2zM506.03 8.9h1v14.8h-1zM539.09 8.9h1v14.8h-1z"/>
<path fill="#58c765" d="M470.96 100.5h1v14.8h-1zM485.99 100.5h1v14.8h-1zM434.9 87.7h3v12.8h-3zM448.92 87.7h1v12.8h-1zM467.96 87.7h1v12.8h-1zM473.97 87.7h1v12.8h-1zM438.9 74.9h1v12.8h-1zM441.91 74.9h1v12.8h-1zM449.92 74.9h1v12.8h-1zM460.94 74.9h1v12.8h-1zM467.96 74.9h3.01v12.8h-3.01zM471.97 74.9h1v12.8h-1zM481.98 74.9h1v12.8h-1zM437.9 62.1h1v12.8h-1zM460.94 62.1h1v12.8h-1zM462.95 62.1h1v12.8h-1zM464.95 62.1h1v12.8h-1zM488 62.1h2v12.8h-2zM499.02 62.1h1v12.8h-1zM510.04 62.1h1v12.8h-1zM516.05 62.1h1v12.8h-1zM533.08 62.1h1v12.8h-1zM442.91 49.3h2v12.8h-2zM470.96 49.3h1v12.8h-1zM474.97 49.3h1v12.8h-1zM480.98 49.3h1v12.8h-1zM521.06 49.3h1v12.8h-1zM525.06 49.3h1v12.8h-1zM445.92 36.5h1v12.8h-1zM460.94 36.5h1v12.8h-1zM470.96 36.5h1v12.8h-1zM489 36.5h1v12.8h-1zM494.01 36.5h1v12.8h-1zM509.03 36.5h1v12.8h-1zM515.05 36.5h1v12.8h-1zM529.07 36.5h1v12.8h-1zM532.08 36.5h2v12.8h-2zM536.09 36.5h1v12.8h-1zM451.93 23.7h1v12.8h-1zM453.93 23.7h1v12.8h-1zM460.94 23.7h1v12.8h-1zM464.95 23.7h1v12.8h-1zM470.96 23.7h1v12.8h-1zM489 23.7h1v12.8h-1zM496.01 23.7h1v12.8h-1zM498.01 23.7h1v12.8h-1zM506.03 23.7h1v12.8h-1zM526.07 23.7h1v12.8h-1zM528.07 23.7h1v12.8h-1zM537.09 23.7h1v12.8h-1zM540.09 23.7h2v12.8h-2zM445.92 8.9h1v14.8h-1zM470.96 8.9h1v14.8h-1zM482.99 8.9h1v14.8h-1zM500.02 8.9h2v14.8h-2zM504.03 8.9h1v14.8h-1zM515.05 8.9h1v14.8h-1zM518.05 8.9h3.01v14.8h-3.01zM532.08 8.9h1v14.8h-1z"/>
<path fill="#5ec962" d="M483.99 100.5h2v14.8h-2zM512.04 100.5h1v14.8h-1zM452.93 87.7h1v12.8h-1zM466.96 87.7h1v12.8h-1zM452.93 74.9h1v12.8h-1zM466.96 74.9h1v12.8h-1zM497.01 74.9h1v12.8h-1zM535.08 74.9h1v12.8h-1zM461.95 62.1h1v12.8h-1zM466.96 62.1h1v12.8h-1zM468.96 62.1h1v12.8h-1zM470.96 62.1h1v12.8h-1zM485.99 62.1h1v12.8h-1zM511.04 62.1h1v12.8h-1zM515.05 62.1h1v12.8h-1zM519.05 62.1h1v12.8h-1zM524.06 62.1h1v12.8h-1zM530.07 62.1h2v12.8h-2zM441.91 49.3h1v12.8h-1zM469.96 49.3h1v12.8h-1zM479.98 49.3h1v12.8h-1zM482.99 49.3h1v12.8h-1zM486.99 49.3h1v12.8h-1zM517.05 49.3h1v12.8h-1zM520.06 49.3h1v12.8h-1zM523.06 49.3h1v12.8h-1zM532.08 49.3h1v12.8h-1zM434.9 36.5h4v12.8h-4zM444.91 36.5h1v12.8h-1zM448.92 36.5h1v12.8h-1zM468.96 36.5h1v12.8h-1zM480.98 36.5h1v12.8h-1zM485.99 36.5h1v12.8h-1zM520.06 36.5h1v12.8h-1zM524.06 36.5h2v12.8h-2zM459.94 23.7h1v12.8h-1zM466.96 23.7h1v12.8h-1zM480.98 23.7h1v12.8h-1zM490 23.7h1v12.8h-1zM499.02 23.7h1v12.8h-1zM511.04 23.7h2v12.8h-2zM519.05 23.7h1v12.8h-1zM525.06 23.7h1v12.8h-1zM529.07 23.7h1v12.8h-1zM532.08 23.7h1v12.8h-1zM474.97 8.9h1v14.8h-1zM498.01 8.9h1v14.8h-1zM526.07 8.9h1v14.8h-1z"/>
<path fill="#63cb5f" d="M469.96 100.5h1v14.8h-1zM507.03 100.5h1v14.8h-1zM536.09 100.5h1v14.8h-1zM477.98 87.7h1v12.8h-1zM437.9 74.9h1v12.8h-1zM459.94 74.9h1v12.8h-1zM480.98 74.9h1v12.8h-1zM482.99 62.1h1v12.8h-1zM495.01 62.1h1v12.8h-1zM501.02 62.1h1v12.8h-1zM512.04 62.1h1v12.8h-1zM521.06 62.1h1v12.8h-1zM523.06 62.1h1v12.8h-1zM526.07 62.1h2v12.8h-2zM438.9 49.3h1v12.8h-1zM444.91 49.3h1v12.8h-1zM454.93 49.3h1v12.8h-1zM462.95 49.3h2v12.8h-2zM498.01 49.3h2v12.8h-2zM511.04 49.3h2v12.8h-2zM518.05 49.3h1v12.8h-1zM522.06 49.3h1v12.8h-1zM472.97 36.5h2v12.8h-2zM504.03 36.5h1v12.8h-1zM517.05 36.5h1v12.8h-1zM519.05 36.5h1v12.8h-1zM523.06 36.5h1v12.8h-1zM528.07 36.5h1v12.8h-1zM461.95 23.7h1v12.8h-1zM486.99 23.7h1v12.8h-1zM500.02 23.7h2v12.8h-2zM504.03 23.7h1v12.8h-1zM517.05 23.7h1v12.8h-1zM521.06 23.7h2v12.8h-2zM469.96 8.9h1v14.8h-1zM486.99 8.9h1v14.8h-1zM525.06 8.9h1v14.8h-1zM540.09 8.9h1v14.8h-1zM543.1 8.9h3v14.8h-3z"/>
<path fill="#69cd5b" d="M480.98 100.5h1v14.8h-1zM482.99 100.5h1v14.8h-1zM524.06 100.5h1v14.8h-1zM530.07 100.5h1v14.8h-1zM481.98 87.7h1v12.8h-1zM491 74.9h1v12.8h-1zM505.03 74.9h2v12.8h-2zM536.09 74.9h1v12.8h-1zM452.93 62.1h1v12.8h-1zM481.98 62.1h1v12.8h-1zM496.01 62.1h1v12.8h-1zM500.02 62.1h1v12.8h-1zM503.02 62.1h1v12.8h-1zM514.04 62.1h1v12.8h-1zM517.05 62.1h1v12.8h-1zM525.06 62.1h1v12.8h-1zM538.09 62.1h1v12.8h-1zM466.96 49.3h1v12.8h-1zM501.02 49.3h1v12.8h-1zM486.99 36.5h1v12.8h-1zM505.03 36.5h1v12.8h-1zM511.04 36.5h1v12.8h-1zM522.06 36.5h1v12.8h-1zM542.1 36.5h1v12.8h-1zM452.93 23.7h1v12.8h-1zM462.95 23.7h1v12.8h-1zM468.96 23.7h1v12.8h-1zM495.01 23.7h1v12.8h-1zM505.03 23.7h1v12.8h-1zM523.06 23.7h1v12.8h-1zM499.02 8.9h1v14.8h-1zM511.04 8.9h2v14.8h-2zM521.06 8.9h2v14.8h-2zM524.06 8.9h1v14.8h-1z"/>
<path fill="#6ece58" d="M534.08 100.5h1v14.8h-1zM482.99 74.9h2v12.8h-2zM540.09 74.9h1v12.8h-1zM504.03 62.1h1v12.8h-1zM513.04 62.1h1v12.8h-1zM518.05 62.1h1v12.8h-1zM522.06 62.1h1v12.8h-1zM528.07 62.1h1v12.8h-1zM542.1 62.1h1v12.8h-1zM437.9 49.3h1v12.8h-1zM542.1 49.3h1v12.8h-1zM512.04 36.5h1v12.8h-1zM518.05 36.5h1v12.8h-1zM521.06 36.5h1v12.8h-1zM537.09 36.5h2v12.8h-2zM541.09 36.5h1v12.8h-1zM518.05 23.7h1v12.8h-1zM489 8.9h1v14.8h-1z"/>
<path fill="#75d054" d="M479.98 100.5h1v14.8h-1zM494.01 100.5h1v14.8h-1zM540.09 100.5h2v14.8h-2zM491 87.7h1v12.8h-1zM479.98 74.9h1v12.8h-1zM495.01 74.9h1v12.8h-1zM507.03 74.9h1v12.8h-1zM518.05 74.9h1v12.8h-1zM523.06 74.9h1v12.8h-1zM530.07 74.9h1v12.8h-1zM469.96 62.1h1v12.8h-1zM532.08 62.1h1v12.8h-1zM488 49.3h1v12.8h-1zM469.96 36.5h1v12.8h-1zM479.98 36.5h1v12.8h-1zM488 36.5h1v12.8h-1zM543.1 36.5h3v12.8h-3z"/>
<path fill="#7ad151" d="M491 100.5h1v14.8h-1zM502.02 100.5h1v14.8h-1zM516.05 100.5h1v14.8h-1zM485.99 74.9h1v12.8h-1zM531.08 74.9h1v12.8h-1zM534.08 74.9h1v12.8h-1zM529.07 62.1h1v12.8h-1zM543.1 49.3h3v12.8h-3zM523.06 8.9h1v14.8h-1z"/>
<path fill="#81d34d" d="M515.05 100.5h1v14.8h-1zM529.07 100.5h1v14.8h-1zM531.08 100.5h1v14.8h-1zM537.09 100.5h3.01v14.8h-3.01zM480.98 87.7h1v12.8h-1zM482.99 87.7h1v12.8h-1zM535.08 87.7h1v12.8h-1zM537.09 87.7h1v12.8h-1zM484.99 74.9h1v12.8h-1zM494.01 74.9h1v12.8h-1zM502.02 74.9h1v12.8h-1zM527.07 74.9h1v12.8h-1zM529.07 74.9h1v12.8h-1zM537.09 74.9h1v12.8h-1zM539.09 74.9h1v12.8h-1zM543.1 62.1h3v12.8h-3zM500.02 49.3h1v12.8h-1zM488 8.9h1v14.8h-1z"/>
<path fill="#86d549" d="M493 100.5h1v14.8h-1zM495.01 100.5h1v14.8h-1zM511.04 100.5h1v14.8h-1zM514.04 100.5h1v14.8h-1zM519.05 100.5h1v14.8h-1zM485.99 87.7h1v12.8h-1zM502.02 87.7h1v12.8h-1zM503.02 74.9h1v12.8h-1zM519.05 74.9h1v12.8h-1zM469.96 23.7h1v12.8h-1z"/>
<path fill="#8ed645" d="M492 100.5h1v14.8h-1zM506.03 100.5h1v14.8h-1zM509.03 100.5h1v14.8h-1zM518.05 100.5h1v14.8h-1zM533.08 100.5h1v14.8h-1zM483.99 87.7h1v12.8h-1zM493 74.9h1v12.8h-1zM504.03 74.9h1v12.8h-1z"/>
<path fill="#95d840" d="M503.02 100.5h1v14.8h-1zM508.03 100.5h1v14.8h-1zM513.04 100.5h1v14.8h-1zM526.07 100.5h1v14.8h-1zM532.08 100.5h1v14.8h-1zM484.99 87.7h1v12.8h-1zM507.03 87.7h1v12.8h-1zM530.07 87.7h1v12.8h-1zM536.09 87.7h1v12.8h-1zM492 74.9h1v12.8h-1zM496.01 74.9h1v12.8h-1zM498.01 74.9h1v12.8h-1zM508.03 74.9h1v12.8h-1zM526.07 74.9h1v12.8h-1zM533.08 74.9h1v12.8h-1z"/>
<path fill="#9bd93c" d="M501.02 100.5h1v14.8h-1zM517.05 100.5h1v14.8h-1zM520.06 100.5h1v14.8h-1zM525.06 100.5h1v14.8h-1zM527.07 100.5h1v14.8h-1zM542.1 100.5h1v14.8h-1zM495.01 87.7h1v12.8h-1zM518.05 87.7h1v12.8h-1zM534.08 87.7h1v12.8h-1zM539.09 87.7h1v12.8h-1zM490 74.9h1v12.8h-1zM501.02 74.9h1v12.8h-1zM510.04 74.9h1v12.8h-1zM521.06 74.9h2v12.8h-2zM528.07 74.9h1v12.8h-1zM532.08 74.9h1v12.8h-1zM538.09 74.9h1v12.8h-1z"/>
<path fill="#a2da37" d="M486.99 100.5h4.01v14.8h-4.01zM497.01 100.5h1v14.8h-1zM499.02 100.5h1v14.8h-1zM505.03 100.5h1v14.8h-1zM506.03 87.7h1v12.8h-1zM516.05 87.7h2v12.8h-2zM514.04 74.9h1v12.8h-1zM520.06 74.9h1v12.8h-1zM524.06 74.9h1v12.8h-1z"/>
<path fill="#a8db34" d="M496.01 100.5h1v14.8h-1zM500.02 100.5h1v14.8h-1zM503.02 87.7h1v12.8h-1zM522.06 87.7h1v12.8h-1zM486.99 74.9h1v12.8h-1zM499.02 74.9h1v12.8h-1zM541.09 74.9h1v12.8h-1z"/>
<path fill="#b0dd2f" d="M504.03 100.5h1v14.8h-1zM523.06 100.5h1v14.8h-1zM493 87.7h1v12.8h-1zM489 74.9h1v12.8h-1zM509.03 74.9h1v12.8h-1zM516.05 74.9h2v12.8h-2zM525.06 74.9h1v12.8h-1z"/>
<path fill="#b5de2b" d="M528.07 100.5h1v14.8h-1zM489 87.7h1v12.8h-1zM492 87.7h1v12.8h-1zM494.01 87.7h1v12.8h-1zM508.03 87.7h1v12.8h-1zM526.07 87.7h1v12.8h-1zM531.08 87.7h1v12.8h-1zM538.09 87.7h1v12.8h-1zM513.04 74.9h1v12.8h-1zM515.05 74.9h1v12.8h-1zM543.1 74.9h3v12.8h-3z"/>
<path fill="#bddf26" d="M543.1 100.5h3v14.8h-3zM490 87.7h1v12.8h-1zM497.01 87.7h1v12.8h-1zM501.02 87.7h1v12.8h-1zM505.03 87.7h1v12.8h-1zM519.05 87.7h1v12.8h-1zM533.08 87.7h1v12.8h-1zM488 74.9h1v12.8h-1zM512.04 74.9h1v12.8h-1z"/>
<path fill="#c2df23" d="M498.01 87.7h2v12.8h-2zM509.03 87.7h1v12.8h-1zM515.05 87.7h1v12.8h-1zM520.06 87.7h2v12.8h-2zM529.07 87.7h1v12.8h-1zM540.09 87.7h1v12.8h-1zM500.02 74.9h1v12.8h-1zM511.04 74.9h1v12.8h-1z"/>
<path fill="#cae11f" d="M498.01 100.5h1v14.8h-1zM486.99 87.7h1v12.8h-1zM523.06 87.7h1v12.8h-1zM527.07 87.7h2v12.8h-2zM542.1 74.9h1v12.8h-1z"/>
<path fill="#d2e21b" d="M521.06 100.5h1v14.8h-1zM496.01 87.7h1v12.8h-1zM525.06 87.7h1v12.8h-1zM532.08 87.7h1v12.8h-1z"/>
<path fill="#d8e219" d="M522.06 100.5h1v14.8h-1zM500.02 87.7h1v12.8h-1zM541.09 87.7h1v12.8h-1z"/>
<path fill="#dfe318" d="M488 87.7h1v12.8h-1zM504.03 87.7h1v12.8h-1zM510.04 87.7h1v12.8h-1zM512.04 87.7h1v12.8h-1zM514.04 87.7h1v12.8h-1zM524.06 87.7h1v12.8h-1z"/>
<path fill="#e5e419" d="M511.04 87.7h1v12.8h-1zM543.1 87.7h3v12.8h-3z"/>
<path fill="#ece51b" d="M542.1 87.7h1v12.8h-1z"/>
<path fill="#f1e51d" d="M513.04 87.7h1v12.8h-1z"/>
</g>
<line x1="472.63" y1="113.3" x2="472.63" y2="10.9" stroke="#0000ff" stroke-width="1.5" stroke-dasharray="4.5 1.95"/>
</g>
<rect x="436.9" y="10.9" width="107.2" height="102.4" fill="none" stroke="#222" stroke-width="0.4"/>
<path d="M436.9 113.3v2.3M454.77 113.3v2.3M472.63 113.3v2.3M490.5 113.3v2.3M508.37 113.3v2.3M526.23 113.3v2.3M544.1 113.3v2.3M436.9 113.3h-2.3M436.9 92.82h-2.3M436.9 72.34h-2.3M436.9 51.86h-2.3M436.9 31.38h-2.3M436.9 10.9h-2.3" stroke="#444" stroke-width="0.4" fill="none"/>
<g font-family="'DejaVu Sans', 'Liberation Sans', sans-serif" font-weight="bold" stroke="#000" stroke-width="0.18" font-size="4.8" fill="#000">
<text x="436.9" y="119.7" text-anchor="middle">48</text>
<text x="454.77" y="119.7" text-anchor="middle">49</text>
<text x="472.63" y="119.7" text-anchor="middle">50</text>
<text x="490.5" y="119.7" text-anchor="middle">51</text>
<text x="508.37" y="119.7" text-anchor="middle">52</text>
<text x="526.23" y="119.7" text-anchor="middle">53</text>
<text x="544.1" y="119.7" text-anchor="middle">54</text>
<text x="434.3" y="115.1" text-anchor="end">0</text>
<text x="434.3" y="94.62" text-anchor="end">20</text>
<text x="434.3" y="74.14" text-anchor="end">40</text>
<text x="434.3" y="53.66" text-anchor="end">60</text>
<text x="434.3" y="33.18" text-anchor="end">80</text>
<text x="434.3" y="12.7" text-anchor="end">100</text>
</g>
<text x="490.5" y="9" text-anchor="middle" font-size="5.95" font-family="'DejaVu Sans', 'Liberation Sans', sans-serif" font-weight="bold" stroke="#000" stroke-width="0.18">SNRdB=-1, windowsize=16</text>
<text x="490.5" y="127.8" text-anchor="middle" font-size="6.8" font-family="'DejaVu Sans', 'Liberation Sans', sans-serif" font-weight="bold" stroke="#000" stroke-width="0.18">Time</text>
<text transform="translate(421 62.95) rotate(-90)" text-anchor="middle" font-size="6.6" font-family="'DejaVu Sans', 'Liberation Sans', sans-serif" font-weight="bold" stroke="#000" stroke-width="0.18">Frequency</text>
<clipPath id="c4"><rect x="25.4" y="139.7" width="107.2" height="102.4"/></clipPath>
<g clip-path="url(#c4)">
<g filter="url(#bl)">
<rect x="23.4" y="137.7" width="111.2" height="106.4" fill="#48c16e"/>
<path fill="#27808e" d="M102.58 203.7h1.43v6.4h-1.43z"/>
<path fill="#26828e" d="M98.3 190.9h1.43v6.4h-1.43z"/>
<path fill="#25848e" d="M59.7 235.7h1.43v8.4h-1.43zM23.4 222.9h3.43v6.4h-3.43zM94.01 158.9h1.43v6.4h-1.43z"/>
<path fill="#24868e" d="M98.3 158.9h1.43v6.4h-1.43zM98.3 146.1h1.43v6.4h-1.43z"/>
<path fill="#23898e" d="M74 190.9h1.43v6.4h-1.43zM78.29 158.9h1.43v6.4h-1.43z"/>
<path fill="#228b8d" d="M98.3 184.5h1.43v6.4h-1.43z"/>
<path fill="#218e8d" d="M23.4 235.7h3.43v8.4h-3.43zM59.7 197.3h1.43v6.4h-1.43zM98.3 171.7h1.43v6.4h-1.43z"/>
<path fill="#21918c" d="M42.55 235.7h1.43v8.4h-1.43zM45.41 235.7h1.43v8.4h-1.43zM51.13 235.7h1.43v8.4h-1.43zM98.3 178.1h1.43v6.4h-1.43zM98.3 165.3h1.43v6.4h-1.43zM42.55 146.1h1.43v6.4h-1.43zM102.58 146.1h1.43v6.4h-1.43z"/>
<path fill="#20928c" d="M98.3 210.1h1.43v6.4h-1.43zM81.14 178.1h1.43v6.4h-1.43zM52.56 158.9h1.43v6.4h-1.43zM59.7 158.9h1.43v6.4h-1.43z"/>
<path fill="#1f958b" d="M52.56 229.3h1.43v6.4h-1.43zM23.4 210.1h3.43v6.4h-3.43zM56.85 210.1h1.43v6.4h-1.43zM98.3 203.7h1.43v6.4h-1.43zM98.3 197.3h1.43v6.4h-1.43zM81.14 190.9h1.43v6.4h-1.43zM98.3 152.5h1.43v6.4h-1.43zM39.69 146.1h1.43v6.4h-1.43zM72.57 137.7h1.43v8.4h-1.43z"/>
<path fill="#1f978b" d="M74 178.1h1.43v6.4h-1.43zM81.14 158.9h1.43v6.4h-1.43zM62.56 146.1h1.43v6.4h-1.43z"/>
<path fill="#1f9a8a" d="M62.56 235.7h1.43v8.4h-1.43zM55.42 222.9h1.43v6.4h-1.43zM33.98 210.1h1.43v6.4h-1.43zM45.41 210.1h1.43v6.4h-1.43zM94.01 165.3h1.43v6.4h-1.43zM29.69 158.9h1.43v6.4h-1.43zM81.14 152.5h1.43v6.4h-1.43zM94.01 146.1h1.43v6.4h-1.43z"/>
<path fill="#1e9c89" d="M118.31 203.7h1.43v6.4h-1.43zM81.14 197.3h1.43v6.4h-1.43zM59.7 184.5h1.43v6.4h-1.43zM45.41 171.7h1.43v6.4h-1.43zM33.98 165.3h1.43v6.4h-1.43zM78.29 165.3h1.43v6.4h-1.43zM81.14 165.3h1.43v6.4h-1.43zM74 158.9h1.43v6.4h-1.43zM98.3 137.7h1.43v8.4h-1.43z"/>
<path fill="#1f9f88" d="M38.26 235.7h2.86v8.4h-2.86zM59.7 222.9h1.43v6.4h-1.43zM86.86 197.3h1.43v6.4h-1.43zM45.41 184.5h1.43v6.4h-1.43zM23.4 171.7h3.43v6.4h-3.43zM59.7 171.7h1.43v6.4h-1.43z"/>
<path fill="#1fa188" d="M52.56 235.7h1.43v8.4h-1.43zM55.42 235.7h1.43v8.4h-1.43zM52.56 210.1h1.43v6.4h-1.43zM94.01 197.3h1.43v6.4h-1.43zM102.58 184.5h1.43v6.4h-1.43zM99.73 171.7h1.43v6.4h-1.43zM23.4 165.3h3.43v6.4h-3.43zM114.02 165.3h1.43v6.4h-1.43zM23.4 158.9h3.43v6.4h-3.43zM58.27 158.9h1.43v6.4h-1.43zM61.13 158.9h1.43v6.4h-1.43zM74 152.5h1.43v6.4h-1.43zM102.58 152.5h1.43v6.4h-1.43zM59.7 146.1h1.43v6.4h-1.43zM81.14 146.1h1.43v6.4h-1.43zM62.56 137.7h1.43v8.4h-1.43zM74 137.7h1.43v8.4h-1.43zM81.14 137.7h1.43v8.4h-1.43z"/>
<path fill="#20a386" d="M33.98 235.7h1.43v8.4h-1.43zM63.99 222.9h1.43v6.4h-1.43zM58.27 216.5h1.43v6.4h-1.43zM62.56 216.5h1.43v6.4h-1.43zM39.69 197.3h1.43v6.4h-1.43zM66.85 197.3h1.43v6.4h-1.43zM94.01 190.9h1.43v6.4h-1.43zM45.41 178.1h1.43v6.4h-1.43zM62.56 178.1h1.43v6.4h-1.43zM82.57 165.3h1.43v6.4h-1.43zM116.88 165.3h1.43v6.4h-1.43zM131.17 165.3h3.43v6.4h-3.43zM62.56 158.9h1.43v6.4h-1.43zM102.58 158.9h1.43v6.4h-1.43zM23.4 152.5h3.43v6.4h-3.43zM23.4 146.1h3.43v6.4h-3.43zM74 146.1h1.43v6.4h-1.43zM23.4 137.7h3.43v8.4h-3.43zM39.69 137.7h1.43v8.4h-1.43zM51.13 137.7h1.43v8.4h-1.43zM88.29 137.7h1.43v8.4h-1.43z"/>
<path fill="#21a685" d="M66.85 235.7h1.43v8.4h-1.43zM33.98 203.7h1.43v6.4h-1.43zM52.56 197.3h1.43v6.4h-1.43zM88.29 197.3h1.43v6.4h-1.43zM23.4 190.9h3.43v6.4h-3.43zM62.56 190.9h1.43v6.4h-1.43zM33.98 184.5h1.43v6.4h-1.43zM81.14 184.5h1.43v6.4h-1.43zM119.74 184.5h1.43v6.4h-1.43zM122.59 178.1h1.43v6.4h-1.43zM74 171.7h1.43v6.4h-1.43zM81.14 171.7h1.43v6.4h-1.43zM116.88 158.9h1.43v6.4h-1.43zM52.56 152.5h1.43v6.4h-1.43zM88.29 146.1h1.43v6.4h-1.43z"/>
<path fill="#22a884" d="M48.27 235.7h1.43v8.4h-1.43zM63.99 235.7h1.43v8.4h-1.43zM29.69 229.3h1.43v6.4h-1.43zM33.98 222.9h1.43v6.4h-1.43zM45.41 222.9h1.43v6.4h-1.43zM38.26 210.1h1.43v6.4h-1.43zM94.01 203.7h1.43v6.4h-1.43zM45.41 197.3h1.43v6.4h-1.43zM28.26 178.1h1.43v6.4h-1.43zM102.58 178.1h1.43v6.4h-1.43zM124.02 178.1h1.43v6.4h-1.43zM102.58 171.7h1.43v6.4h-1.43zM62.56 165.3h1.43v6.4h-1.43zM88.29 165.3h1.43v6.4h-1.43zM84 158.9h1.43v6.4h-1.43zM112.59 158.9h1.43v6.4h-1.43zM41.12 152.5h1.43v6.4h-1.43zM51.13 152.5h1.43v6.4h-1.43zM131.17 152.5h3.43v6.4h-3.43zM51.13 146.1h1.43v6.4h-1.43zM45.41 137.7h1.43v8.4h-1.43zM59.7 137.7h1.43v8.4h-1.43zM66.85 137.7h1.43v8.4h-1.43zM102.58 137.7h1.43v8.4h-1.43z"/>
<path fill="#25ab82" d="M32.55 235.7h1.43v8.4h-1.43zM35.41 235.7h1.43v8.4h-1.43zM56.85 235.7h1.43v8.4h-1.43zM45.41 216.5h1.43v6.4h-1.43zM51.13 210.1h1.43v6.4h-1.43zM62.56 210.1h1.43v6.4h-1.43zM23.4 203.7h3.43v6.4h-3.43zM41.12 203.7h1.43v6.4h-1.43zM81.14 203.7h1.43v6.4h-1.43zM23.4 197.3h3.43v6.4h-3.43zM31.12 197.3h1.43v6.4h-1.43zM78.29 197.3h1.43v6.4h-1.43zM51.13 184.5h1.43v6.4h-1.43zM23.4 178.1h3.43v6.4h-3.43zM59.7 178.1h1.43v6.4h-1.43zM91.15 178.1h2.86v6.4h-2.86zM39.69 171.7h1.43v6.4h-1.43zM88.29 171.7h1.43v6.4h-1.43zM26.83 158.9h1.43v6.4h-1.43zM92.58 158.9h1.43v6.4h-1.43zM33.98 152.5h1.43v6.4h-1.43zM39.69 152.5h1.43v6.4h-1.43zM108.3 146.1h1.43v6.4h-1.43zM121.17 146.1h1.43v6.4h-1.43zM128.31 146.1h1.43v6.4h-1.43zM94.01 137.7h1.43v8.4h-1.43zM131.17 137.7h3.43v8.4h-3.43z"/>
<path fill="#26ad81" d="M29.69 235.7h1.43v8.4h-1.43zM46.84 235.7h1.43v8.4h-1.43zM23.4 229.3h3.43v6.4h-3.43zM51.13 229.3h1.43v6.4h-1.43zM39.69 222.9h1.43v6.4h-1.43zM55.42 216.5h1.43v6.4h-1.43zM74 210.1h1.43v6.4h-1.43zM81.14 210.1h1.43v6.4h-1.43zM39.69 203.7h1.43v6.4h-1.43zM45.41 203.7h1.43v6.4h-1.43zM51.13 203.7h1.43v6.4h-1.43zM58.27 203.7h1.43v6.4h-1.43zM63.99 197.3h1.43v6.4h-1.43zM102.58 197.3h1.43v6.4h-1.43zM52.56 190.9h1.43v6.4h-1.43zM78.29 190.9h1.43v6.4h-1.43zM128.31 184.5h1.43v6.4h-1.43zM39.69 178.1h1.43v6.4h-1.43zM106.87 178.1h1.43v6.4h-1.43zM94.01 171.7h1.43v6.4h-1.43zM51.13 165.3h2.86v6.4h-2.86zM59.7 165.3h1.43v6.4h-1.43zM74 165.3h1.43v6.4h-1.43zM84 165.3h1.43v6.4h-1.43zM39.69 158.9h1.43v6.4h-1.43zM62.56 152.5h1.43v6.4h-1.43zM78.29 152.5h1.43v6.4h-1.43zM29.69 146.1h1.43v6.4h-1.43zM52.56 146.1h1.43v6.4h-1.43zM118.31 146.1h1.43v6.4h-1.43zM33.98 137.7h1.43v8.4h-1.43zM82.57 137.7h1.43v8.4h-1.43z"/>
<path fill="#29af7f" d="M59.7 229.3h1.43v6.4h-1.43zM62.56 229.3h1.43v6.4h-1.43zM41.12 222.9h1.43v6.4h-1.43zM51.13 222.9h1.43v6.4h-1.43zM23.4 216.5h3.43v6.4h-3.43zM29.69 216.5h1.43v6.4h-1.43zM52.56 216.5h1.43v6.4h-1.43zM39.69 210.1h2.86v6.4h-2.86zM38.26 203.7h1.43v6.4h-1.43zM46.84 197.3h1.43v6.4h-1.43zM128.31 197.3h1.43v6.4h-1.43zM131.17 197.3h3.43v6.4h-3.43zM38.26 190.9h1.43v6.4h-1.43zM42.55 190.9h1.43v6.4h-1.43zM59.7 190.9h1.43v6.4h-1.43zM39.69 184.5h1.43v6.4h-1.43zM66.85 184.5h1.43v6.4h-1.43zM74 184.5h1.43v6.4h-1.43zM94.01 184.5h1.43v6.4h-1.43zM52.56 178.1h1.43v6.4h-1.43zM94.01 178.1h1.43v6.4h-1.43zM119.74 178.1h1.43v6.4h-1.43zM124.02 171.7h1.43v6.4h-1.43zM128.31 171.7h1.43v6.4h-1.43zM45.41 165.3h1.43v6.4h-1.43zM85.43 165.3h1.43v6.4h-1.43zM95.44 165.3h1.43v6.4h-1.43zM99.73 165.3h1.43v6.4h-1.43zM45.41 158.9h1.43v6.4h-1.43zM115.45 158.9h1.43v6.4h-1.43zM118.31 158.9h1.43v6.4h-1.43zM94.01 152.5h1.43v6.4h-1.43zM119.74 152.5h1.43v6.4h-1.43zM45.41 146.1h1.43v6.4h-1.43zM63.99 146.1h1.43v6.4h-1.43zM84 137.7h1.43v8.4h-1.43zM106.87 137.7h1.43v8.4h-1.43zM119.74 137.7h1.43v8.4h-1.43z"/>
<path fill="#2cb17e" d="M28.26 235.7h1.43v8.4h-1.43zM74 235.7h1.43v8.4h-1.43zM38.26 229.3h2.86v6.4h-2.86zM45.41 229.3h1.43v6.4h-1.43zM51.13 216.5h1.43v6.4h-1.43zM74 203.7h1.43v6.4h-1.43zM51.13 197.3h1.43v6.4h-1.43zM74 197.3h1.43v6.4h-1.43zM91.15 197.3h1.43v6.4h-1.43zM99.73 197.3h1.43v6.4h-1.43zM116.88 197.3h1.43v6.4h-1.43zM41.12 190.9h1.43v6.4h-1.43zM51.13 190.9h1.43v6.4h-1.43zM55.42 190.9h1.43v6.4h-1.43zM68.28 190.9h1.43v6.4h-1.43zM76.86 190.9h1.43v6.4h-1.43zM52.56 184.5h1.43v6.4h-1.43zM65.42 184.5h1.43v6.4h-1.43zM75.43 184.5h2.86v6.4h-2.86zM84 184.5h1.43v6.4h-1.43zM131.17 184.5h3.43v6.4h-3.43zM33.98 178.1h1.43v6.4h-1.43zM51.13 178.1h1.43v6.4h-1.43zM128.31 178.1h1.43v6.4h-1.43zM55.42 171.7h1.43v6.4h-1.43zM62.56 171.7h1.43v6.4h-1.43zM102.58 165.3h1.43v6.4h-1.43zM53.99 158.9h1.43v6.4h-1.43zM88.29 152.5h1.43v6.4h-1.43zM118.31 152.5h1.43v6.4h-1.43zM29.69 137.7h1.43v8.4h-1.43zM76.86 137.7h1.43v8.4h-1.43zM116.88 137.7h1.43v8.4h-1.43z"/>
<path fill="#2fb47c" d="M41.12 235.7h1.43v8.4h-1.43zM41.12 229.3h1.43v6.4h-1.43zM28.26 222.9h1.43v6.4h-1.43zM56.85 222.9h1.43v6.4h-1.43zM62.56 222.9h1.43v6.4h-1.43zM65.42 222.9h1.43v6.4h-1.43zM59.7 216.5h1.43v6.4h-1.43zM102.58 210.1h1.43v6.4h-1.43zM56.85 203.7h1.43v6.4h-1.43zM131.17 203.7h3.43v6.4h-3.43zM84 197.3h1.43v6.4h-1.43zM118.31 197.3h1.43v6.4h-1.43zM121.17 197.3h1.43v6.4h-1.43zM45.41 190.9h1.43v6.4h-1.43zM65.42 190.9h1.43v6.4h-1.43zM91.15 190.9h1.43v6.4h-1.43zM96.87 190.9h1.43v6.4h-1.43zM114.02 190.9h2.86v6.4h-2.86zM131.17 190.9h3.43v6.4h-3.43zM41.12 184.5h1.43v6.4h-1.43zM78.29 184.5h1.43v6.4h-1.43zM55.42 178.1h1.43v6.4h-1.43zM88.29 178.1h1.43v6.4h-1.43zM51.13 171.7h2.86v6.4h-2.86zM84 171.7h1.43v6.4h-1.43zM119.74 165.3h1.43v6.4h-1.43zM63.99 158.9h1.43v6.4h-1.43zM128.31 158.9h1.43v6.4h-1.43zM45.41 152.5h1.43v6.4h-1.43zM49.7 152.5h1.43v6.4h-1.43zM89.72 152.5h1.43v6.4h-1.43zM101.15 152.5h1.43v6.4h-1.43zM116.88 152.5h1.43v6.4h-1.43zM79.71 146.1h1.43v6.4h-1.43zM41.12 137.7h1.43v8.4h-1.43zM52.56 137.7h1.43v8.4h-1.43zM58.27 137.7h1.43v8.4h-1.43zM86.86 137.7h1.43v8.4h-1.43zM115.45 137.7h1.43v8.4h-1.43z"/>
<path fill="#32b67a" d="M58.27 235.7h1.43v8.4h-1.43zM75.43 235.7h1.43v8.4h-1.43zM29.69 222.9h1.43v6.4h-1.43zM42.55 222.9h1.43v6.4h-1.43zM49.7 222.9h1.43v6.4h-1.43zM61.13 222.9h1.43v6.4h-1.43zM33.98 216.5h1.43v6.4h-1.43zM42.55 216.5h1.43v6.4h-1.43zM59.7 210.1h1.43v6.4h-1.43zM94.01 210.1h1.43v6.4h-1.43zM59.7 203.7h1.43v6.4h-1.43zM62.56 203.7h1.43v6.4h-1.43zM78.29 203.7h1.43v6.4h-1.43zM89.72 203.7h1.43v6.4h-1.43zM124.02 203.7h1.43v6.4h-1.43zM33.98 197.3h1.43v6.4h-1.43zM62.56 197.3h1.43v6.4h-1.43zM39.69 190.9h1.43v6.4h-1.43zM102.58 190.9h1.43v6.4h-1.43zM121.17 190.9h1.43v6.4h-1.43zM23.4 184.5h3.43v6.4h-3.43zM48.27 184.5h1.43v6.4h-1.43zM62.56 184.5h1.43v6.4h-1.43zM124.02 184.5h1.43v6.4h-1.43zM75.43 178.1h1.43v6.4h-1.43zM78.29 178.1h1.43v6.4h-1.43zM108.3 178.1h1.43v6.4h-1.43zM111.16 178.1h1.43v6.4h-1.43zM33.98 171.7h1.43v6.4h-1.43zM65.42 171.7h1.43v6.4h-1.43zM78.29 171.7h1.43v6.4h-1.43zM91.15 171.7h1.43v6.4h-1.43zM116.88 171.7h1.43v6.4h-1.43zM119.74 171.7h1.43v6.4h-1.43zM28.26 165.3h1.43v6.4h-1.43zM124.02 165.3h1.43v6.4h-1.43zM33.98 158.9h1.43v6.4h-1.43zM131.17 158.9h3.43v6.4h-3.43zM65.42 152.5h1.43v6.4h-1.43zM84 152.5h1.43v6.4h-1.43zM95.44 152.5h1.43v6.4h-1.43zM114.02 152.5h1.43v6.4h-1.43zM78.29 146.1h1.43v6.4h-1.43zM115.45 146.1h1.43v6.4h-1.43zM122.59 146.1h1.43v6.4h-1.43zM43.98 137.7h1.43v8.4h-1.43zM78.29 137.7h1.43v8.4h-1.43z"/>
<path fill="#37b878" d="M65.42 235.7h1.43v8.4h-1.43zM33.98 229.3h1.43v6.4h-1.43zM52.56 222.9h1.43v6.4h-1.43zM39.69 216.5h1.43v6.4h-1.43zM29.69 210.1h1.43v6.4h-1.43zM36.83 210.1h1.43v6.4h-1.43zM55.42 210.1h1.43v6.4h-1.43zM28.26 203.7h1.43v6.4h-1.43zM46.84 203.7h1.43v6.4h-1.43zM52.56 203.7h1.43v6.4h-1.43zM84 203.7h1.43v6.4h-1.43zM91.15 203.7h1.43v6.4h-1.43zM115.45 203.7h1.43v6.4h-1.43zM68.28 197.3h1.43v6.4h-1.43zM75.43 197.3h1.43v6.4h-1.43zM96.87 197.3h1.43v6.4h-1.43zM108.3 197.3h1.43v6.4h-1.43zM112.59 197.3h1.43v6.4h-1.43zM46.84 190.9h1.43v6.4h-1.43zM79.71 190.9h1.43v6.4h-1.43zM119.74 190.9h1.43v6.4h-1.43zM55.42 184.5h1.43v6.4h-1.43zM115.45 184.5h1.43v6.4h-1.43zM42.55 178.1h1.43v6.4h-1.43zM56.85 178.1h1.43v6.4h-1.43zM71.14 178.1h1.43v6.4h-1.43zM84 178.1h1.43v6.4h-1.43zM95.44 178.1h1.43v6.4h-1.43zM116.88 178.1h1.43v6.4h-1.43zM131.17 178.1h3.43v6.4h-3.43zM76.86 171.7h1.43v6.4h-1.43zM106.87 171.7h1.43v6.4h-1.43zM126.88 171.7h1.43v6.4h-1.43zM39.69 165.3h1.43v6.4h-1.43zM55.42 165.3h1.43v6.4h-1.43zM76.86 165.3h1.43v6.4h-1.43zM111.16 165.3h2.86v6.4h-2.86zM38.26 158.9h1.43v6.4h-1.43zM41.12 158.9h1.43v6.4h-1.43zM43.98 158.9h1.43v6.4h-1.43zM51.13 158.9h1.43v6.4h-1.43zM121.17 158.9h1.43v6.4h-1.43zM55.42 152.5h1.43v6.4h-1.43zM61.13 152.5h1.43v6.4h-1.43zM63.99 152.5h1.43v6.4h-1.43zM66.85 152.5h1.43v6.4h-1.43zM99.73 152.5h1.43v6.4h-1.43zM105.44 152.5h1.43v6.4h-1.43zM126.88 152.5h1.43v6.4h-1.43zM61.13 146.1h1.43v6.4h-1.43zM101.15 146.1h1.43v6.4h-1.43zM116.88 146.1h1.43v6.4h-1.43zM108.3 137.7h1.43v8.4h-1.43zM121.17 137.7h1.43v8.4h-1.43z"/>
<path fill="#3bbb75" d="M26.83 235.7h1.43v8.4h-1.43zM43.98 235.7h1.43v8.4h-1.43zM61.13 235.7h1.43v8.4h-1.43zM68.28 235.7h1.43v8.4h-1.43zM41.12 216.5h1.43v6.4h-1.43zM35.41 210.1h1.43v6.4h-1.43zM48.27 210.1h1.43v6.4h-1.43zM63.99 203.7h1.43v6.4h-1.43zM101.15 203.7h1.43v6.4h-1.43zM111.16 203.7h1.43v6.4h-1.43zM129.74 203.7h1.43v6.4h-1.43zM41.12 197.3h1.43v6.4h-1.43zM56.85 197.3h1.43v6.4h-1.43zM101.15 197.3h1.43v6.4h-1.43zM33.98 190.9h2.86v6.4h-2.86zM56.85 190.9h2.86v6.4h-2.86zM63.99 190.9h1.43v6.4h-1.43zM84 190.9h1.43v6.4h-1.43zM116.88 190.9h1.43v6.4h-1.43zM32.55 184.5h1.43v6.4h-1.43zM42.55 184.5h1.43v6.4h-1.43zM58.27 184.5h1.43v6.4h-1.43zM72.57 184.5h1.43v6.4h-1.43zM86.86 184.5h1.43v6.4h-1.43zM122.59 184.5h1.43v6.4h-1.43zM35.41 178.1h1.43v6.4h-1.43zM41.12 178.1h1.43v6.4h-1.43zM72.57 178.1h1.43v6.4h-1.43zM115.45 178.1h1.43v6.4h-1.43zM41.12 171.7h1.43v6.4h-1.43zM63.99 171.7h1.43v6.4h-1.43zM71.14 171.7h2.86v6.4h-2.86zM131.17 171.7h3.43v6.4h-3.43zM29.69 165.3h1.43v6.4h-1.43zM41.12 165.3h1.43v6.4h-1.43zM58.27 165.3h1.43v6.4h-1.43zM63.99 165.3h2.86v6.4h-2.86zM75.43 158.9h2.86v6.4h-2.86zM108.3 158.9h1.43v6.4h-1.43zM48.27 152.5h1.43v6.4h-1.43zM56.85 152.5h1.43v6.4h-1.43zM91.15 152.5h1.43v6.4h-1.43zM33.98 146.1h1.43v6.4h-1.43zM41.12 146.1h1.43v6.4h-1.43zM46.84 146.1h1.43v6.4h-1.43zM112.59 146.1h1.43v6.4h-1.43zM129.74 146.1h4.86v6.4h-4.86zM105.44 137.7h1.43v8.4h-1.43zM112.59 137.7h2.86v8.4h-2.86z"/>
<path fill="#3fbc73" d="M31.12 235.7h1.43v8.4h-1.43zM42.55 229.3h1.43v6.4h-1.43zM66.85 229.3h1.43v6.4h-1.43zM32.55 222.9h1.43v6.4h-1.43zM38.26 222.9h1.43v6.4h-1.43zM46.84 222.9h1.43v6.4h-1.43zM53.99 222.9h1.43v6.4h-1.43zM66.85 216.5h1.43v6.4h-1.43zM88.29 210.1h1.43v6.4h-1.43zM131.17 210.1h3.43v6.4h-3.43zM55.42 203.7h1.43v6.4h-1.43zM72.57 203.7h1.43v6.4h-1.43zM76.86 203.7h1.43v6.4h-1.43zM43.98 197.3h1.43v6.4h-1.43zM109.73 197.3h1.43v6.4h-1.43zM119.74 197.3h1.43v6.4h-1.43zM124.02 197.3h1.43v6.4h-1.43zM66.85 190.9h1.43v6.4h-1.43zM89.72 190.9h1.43v6.4h-1.43zM99.73 190.9h1.43v6.4h-1.43zM36.83 184.5h2.86v6.4h-2.86zM63.99 184.5h1.43v6.4h-1.43zM111.16 184.5h4.29v6.4h-4.29zM46.84 178.1h1.43v6.4h-1.43zM66.85 178.1h1.43v6.4h-1.43zM89.72 178.1h1.43v6.4h-1.43zM28.26 171.7h1.43v6.4h-1.43zM32.55 171.7h1.43v6.4h-1.43zM46.84 171.7h1.43v6.4h-1.43zM56.85 171.7h1.43v6.4h-1.43zM66.85 171.7h1.43v6.4h-1.43zM75.43 171.7h1.43v6.4h-1.43zM118.31 171.7h1.43v6.4h-1.43zM56.85 165.3h1.43v6.4h-1.43zM71.14 165.3h1.43v6.4h-1.43zM118.31 165.3h1.43v6.4h-1.43zM122.59 165.3h1.43v6.4h-1.43zM128.31 165.3h1.43v6.4h-1.43zM66.85 158.9h2.86v6.4h-2.86zM95.44 158.9h1.43v6.4h-1.43zM35.41 152.5h1.43v6.4h-1.43zM59.7 152.5h1.43v6.4h-1.43zM82.57 152.5h1.43v6.4h-1.43zM122.59 152.5h1.43v6.4h-1.43zM75.43 146.1h1.43v6.4h-1.43zM84 146.1h1.43v6.4h-1.43zM91.15 146.1h1.43v6.4h-1.43zM32.55 137.7h1.43v8.4h-1.43zM49.7 137.7h1.43v8.4h-1.43zM56.85 137.7h1.43v8.4h-1.43zM128.31 137.7h1.43v8.4h-1.43z"/>
<path fill="#44bf70" d="M72.57 235.7h1.43v8.4h-1.43zM78.29 235.7h1.43v8.4h-1.43zM81.14 235.7h1.43v8.4h-1.43zM98.3 235.7h1.43v8.4h-1.43zM26.83 229.3h1.43v6.4h-1.43zM46.84 229.3h1.43v6.4h-1.43zM31.12 222.9h1.43v6.4h-1.43zM81.14 216.5h1.43v6.4h-1.43zM28.26 210.1h1.43v6.4h-1.43zM35.41 203.7h1.43v6.4h-1.43zM121.17 203.7h1.43v6.4h-1.43zM128.31 203.7h1.43v6.4h-1.43zM32.55 197.3h1.43v6.4h-1.43zM42.55 197.3h1.43v6.4h-1.43zM55.42 197.3h1.43v6.4h-1.43zM58.27 197.3h1.43v6.4h-1.43zM82.57 197.3h1.43v6.4h-1.43zM89.72 197.3h1.43v6.4h-1.43zM49.7 190.9h1.43v6.4h-1.43zM88.29 190.9h1.43v6.4h-1.43zM128.31 190.9h1.43v6.4h-1.43zM29.69 184.5h1.43v6.4h-1.43zM82.57 184.5h1.43v6.4h-1.43zM88.29 184.5h1.43v6.4h-1.43zM91.15 184.5h1.43v6.4h-1.43zM95.44 184.5h1.43v6.4h-1.43zM116.88 184.5h1.43v6.4h-1.43zM26.83 178.1h1.43v6.4h-1.43zM32.55 178.1h1.43v6.4h-1.43zM63.99 178.1h1.43v6.4h-1.43zM99.73 178.1h1.43v6.4h-1.43zM114.02 178.1h1.43v6.4h-1.43zM125.45 178.1h1.43v6.4h-1.43zM29.69 171.7h1.43v6.4h-1.43zM42.55 171.7h1.43v6.4h-1.43zM61.13 171.7h1.43v6.4h-1.43zM105.44 171.7h1.43v6.4h-1.43zM26.83 165.3h1.43v6.4h-1.43zM32.55 165.3h1.43v6.4h-1.43zM35.41 165.3h1.43v6.4h-1.43zM53.99 165.3h1.43v6.4h-1.43zM66.85 165.3h1.43v6.4h-1.43zM96.87 165.3h1.43v6.4h-1.43zM121.17 165.3h1.43v6.4h-1.43zM32.55 158.9h1.43v6.4h-1.43zM36.83 158.9h1.43v6.4h-1.43zM65.42 158.9h1.43v6.4h-1.43zM85.43 158.9h1.43v6.4h-1.43zM88.29 158.9h1.43v6.4h-1.43zM96.87 158.9h1.43v6.4h-1.43zM99.73 158.9h1.43v6.4h-1.43zM105.44 158.9h2.86v6.4h-2.86zM114.02 158.9h1.43v6.4h-1.43zM119.74 158.9h1.43v6.4h-1.43zM29.69 152.5h1.43v6.4h-1.43zM42.55 152.5h1.43v6.4h-1.43zM71.14 152.5h1.43v6.4h-1.43zM96.87 152.5h1.43v6.4h-1.43zM35.41 146.1h1.43v6.4h-1.43zM38.26 146.1h1.43v6.4h-1.43zM48.27 146.1h1.43v6.4h-1.43zM56.85 146.1h1.43v6.4h-1.43zM66.85 146.1h1.43v6.4h-1.43zM71.14 146.1h1.43v6.4h-1.43zM95.44 146.1h1.43v6.4h-1.43zM38.26 137.7h1.43v8.4h-1.43zM75.43 137.7h1.43v8.4h-1.43zM91.15 137.7h1.43v8.4h-1.43zM129.74 137.7h1.43v8.4h-1.43z"/>
<path fill="#48c16e" d="M36.83 235.7h1.43v8.4h-1.43zM49.7 235.7h1.43v8.4h-1.43zM102.58 235.7h1.43v8.4h-1.43zM35.41 229.3h1.43v6.4h-1.43zM48.27 229.3h1.43v6.4h-1.43zM63.99 229.3h1.43v6.4h-1.43zM31.12 216.5h1.43v6.4h-1.43zM35.41 216.5h1.43v6.4h-1.43zM56.85 216.5h1.43v6.4h-1.43zM63.99 216.5h1.43v6.4h-1.43zM42.55 210.1h1.43v6.4h-1.43zM53.99 210.1h1.43v6.4h-1.43zM61.13 210.1h1.43v6.4h-1.43zM63.99 210.1h1.43v6.4h-1.43zM89.72 210.1h1.43v6.4h-1.43zM36.83 203.7h1.43v6.4h-1.43zM42.55 203.7h1.43v6.4h-1.43zM53.99 203.7h1.43v6.4h-1.43zM75.43 203.7h1.43v6.4h-1.43zM88.29 203.7h1.43v6.4h-1.43zM119.74 203.7h1.43v6.4h-1.43zM61.13 197.3h1.43v6.4h-1.43zM72.57 197.3h1.43v6.4h-1.43zM79.71 197.3h1.43v6.4h-1.43zM106.87 197.3h1.43v6.4h-1.43zM115.45 197.3h1.43v6.4h-1.43zM43.98 190.9h1.43v6.4h-1.43zM72.57 190.9h1.43v6.4h-1.43zM92.58 190.9h1.43v6.4h-1.43zM101.15 190.9h1.43v6.4h-1.43zM118.31 190.9h1.43v6.4h-1.43zM124.02 190.9h1.43v6.4h-1.43zM56.85 184.5h1.43v6.4h-1.43zM71.14 184.5h1.43v6.4h-1.43zM29.69 178.1h2.86v6.4h-2.86zM43.98 178.1h1.43v6.4h-1.43zM76.86 178.1h1.43v6.4h-1.43zM82.57 178.1h1.43v6.4h-1.43zM86.86 178.1h1.43v6.4h-1.43zM118.31 178.1h1.43v6.4h-1.43zM129.74 178.1h1.43v6.4h-1.43zM49.7 171.7h1.43v6.4h-1.43zM58.27 171.7h1.43v6.4h-1.43zM69.71 171.7h1.43v6.4h-1.43zM101.15 171.7h1.43v6.4h-1.43zM111.16 171.7h2.86v6.4h-2.86zM115.45 171.7h1.43v6.4h-1.43zM121.17 171.7h1.43v6.4h-1.43zM101.15 165.3h1.43v6.4h-1.43zM129.74 165.3h1.43v6.4h-1.43zM31.12 158.9h1.43v6.4h-1.43zM35.41 158.9h1.43v6.4h-1.43zM55.42 158.9h1.43v6.4h-1.43zM71.14 158.9h1.43v6.4h-1.43zM82.57 158.9h1.43v6.4h-1.43zM91.15 158.9h1.43v6.4h-1.43zM124.02 158.9h1.43v6.4h-1.43zM26.83 152.5h1.43v6.4h-1.43zM31.12 152.5h1.43v6.4h-1.43zM36.83 152.5h1.43v6.4h-1.43zM46.84 152.5h1.43v6.4h-1.43zM53.99 152.5h1.43v6.4h-1.43zM58.27 152.5h1.43v6.4h-1.43zM76.86 152.5h1.43v6.4h-1.43zM115.45 152.5h1.43v6.4h-1.43zM128.31 152.5h1.43v6.4h-1.43zM28.26 146.1h1.43v6.4h-1.43zM55.42 146.1h1.43v6.4h-1.43zM58.27 146.1h1.43v6.4h-1.43zM89.72 146.1h1.43v6.4h-1.43zM92.58 146.1h1.43v6.4h-1.43zM99.73 146.1h1.43v6.4h-1.43zM119.74 146.1h1.43v6.4h-1.43zM28.26 137.7h1.43v8.4h-1.43zM35.41 137.7h1.43v8.4h-1.43zM46.84 137.7h1.43v8.4h-1.43zM63.99 137.7h2.86v8.4h-2.86zM89.72 137.7h1.43v8.4h-1.43zM109.73 137.7h1.43v8.4h-1.43zM122.59 137.7h2.86v8.4h-2.86z"/>
<path fill="#4ec36b" d="M53.99 235.7h1.43v8.4h-1.43zM28.26 229.3h1.43v6.4h-1.43zM53.99 229.3h1.43v6.4h-1.43zM36.83 222.9h1.43v6.4h-1.43zM32.55 216.5h1.43v6.4h-1.43zM43.98 216.5h1.43v6.4h-1.43zM53.99 216.5h1.43v6.4h-1.43zM65.42 216.5h1.43v6.4h-1.43zM78.29 210.1h1.43v6.4h-1.43zM84 210.1h1.43v6.4h-1.43zM48.27 203.7h1.43v6.4h-1.43zM69.71 203.7h2.86v6.4h-2.86zM92.58 203.7h1.43v6.4h-1.43zM108.3 203.7h1.43v6.4h-1.43zM36.83 197.3h2.86v6.4h-2.86zM65.42 197.3h1.43v6.4h-1.43zM71.14 197.3h1.43v6.4h-1.43zM126.88 197.3h1.43v6.4h-1.43zM31.12 190.9h1.43v6.4h-1.43zM71.14 190.9h1.43v6.4h-1.43zM82.57 190.9h1.43v6.4h-1.43zM86.86 190.9h1.43v6.4h-1.43zM106.87 190.9h1.43v6.4h-1.43zM109.73 190.9h1.43v6.4h-1.43zM112.59 190.9h1.43v6.4h-1.43zM28.26 184.5h1.43v6.4h-1.43zM99.73 184.5h1.43v6.4h-1.43zM118.31 184.5h1.43v6.4h-1.43zM105.44 178.1h1.43v6.4h-1.43zM112.59 178.1h1.43v6.4h-1.43zM38.26 171.7h1.43v6.4h-1.43zM96.87 171.7h1.43v6.4h-1.43zM42.55 165.3h1.43v6.4h-1.43zM49.7 165.3h1.43v6.4h-1.43zM61.13 165.3h1.43v6.4h-1.43zM106.87 165.3h1.43v6.4h-1.43zM28.26 158.9h1.43v6.4h-1.43zM42.55 158.9h1.43v6.4h-1.43zM68.28 152.5h1.43v6.4h-1.43zM106.87 152.5h1.43v6.4h-1.43zM121.17 152.5h1.43v6.4h-1.43zM124.02 152.5h1.43v6.4h-1.43zM36.83 146.1h1.43v6.4h-1.43zM53.99 146.1h1.43v6.4h-1.43zM65.42 146.1h1.43v6.4h-1.43zM82.57 146.1h1.43v6.4h-1.43zM126.88 146.1h1.43v6.4h-1.43zM42.55 137.7h1.43v8.4h-1.43zM55.42 137.7h1.43v8.4h-1.43zM61.13 137.7h1.43v8.4h-1.43zM71.14 137.7h1.43v8.4h-1.43zM99.73 137.7h2.86v8.4h-2.86zM118.31 137.7h1.43v8.4h-1.43z"/>
<path fill="#52c569" d="M49.7 229.3h1.43v6.4h-1.43zM55.42 229.3h1.43v6.4h-1.43zM65.42 229.3h1.43v6.4h-1.43zM58.27 222.9h1.43v6.4h-1.43zM74 216.5h1.43v6.4h-1.43zM98.3 216.5h1.43v6.4h-1.43zM65.42 203.7h2.86v6.4h-2.86zM112.59 203.7h1.43v6.4h-1.43zM29.69 197.3h1.43v6.4h-1.43zM35.41 197.3h1.43v6.4h-1.43zM76.86 197.3h1.43v6.4h-1.43zM85.43 197.3h1.43v6.4h-1.43zM111.16 197.3h1.43v6.4h-1.43zM122.59 197.3h1.43v6.4h-1.43zM61.13 190.9h1.43v6.4h-1.43zM95.44 190.9h1.43v6.4h-1.43zM104.01 190.9h2.86v6.4h-2.86zM126.88 190.9h1.43v6.4h-1.43zM49.7 184.5h1.43v6.4h-1.43zM68.28 184.5h1.43v6.4h-1.43zM101.15 184.5h1.43v6.4h-1.43zM104.01 184.5h1.43v6.4h-1.43zM129.74 184.5h1.43v6.4h-1.43zM36.83 178.1h2.86v6.4h-2.86zM48.27 178.1h1.43v6.4h-1.43zM79.71 178.1h1.43v6.4h-1.43zM101.15 178.1h1.43v6.4h-1.43zM26.83 171.7h1.43v6.4h-1.43zM35.41 171.7h1.43v6.4h-1.43zM86.86 171.7h1.43v6.4h-1.43zM108.3 171.7h1.43v6.4h-1.43zM114.02 171.7h1.43v6.4h-1.43zM36.83 165.3h1.43v6.4h-1.43zM46.84 165.3h1.43v6.4h-1.43zM68.28 165.3h1.43v6.4h-1.43zM72.57 165.3h1.43v6.4h-1.43zM89.72 165.3h1.43v6.4h-1.43zM92.58 165.3h1.43v6.4h-1.43zM115.45 165.3h1.43v6.4h-1.43zM126.88 165.3h1.43v6.4h-1.43zM46.84 158.9h2.86v6.4h-2.86zM72.57 158.9h1.43v6.4h-1.43zM32.55 152.5h1.43v6.4h-1.43zM75.43 152.5h1.43v6.4h-1.43zM86.86 152.5h1.43v6.4h-1.43zM92.58 152.5h1.43v6.4h-1.43zM31.12 146.1h1.43v6.4h-1.43zM49.7 146.1h1.43v6.4h-1.43zM68.28 146.1h1.43v6.4h-1.43zM72.57 146.1h1.43v6.4h-1.43zM86.86 146.1h1.43v6.4h-1.43zM105.44 146.1h1.43v6.4h-1.43zM114.02 146.1h1.43v6.4h-1.43zM124.02 146.1h1.43v6.4h-1.43zM69.71 137.7h1.43v8.4h-1.43z"/>
<path fill="#58c765" d="M32.55 229.3h1.43v6.4h-1.43zM58.27 229.3h1.43v6.4h-1.43zM35.41 222.9h1.43v6.4h-1.43zM66.85 222.9h1.43v6.4h-1.43zM74 222.9h1.43v6.4h-1.43zM49.7 216.5h1.43v6.4h-1.43zM96.87 216.5h1.43v6.4h-1.43zM32.55 210.1h1.43v6.4h-1.43zM43.98 210.1h1.43v6.4h-1.43zM46.84 210.1h1.43v6.4h-1.43zM49.7 210.1h1.43v6.4h-1.43zM58.27 210.1h1.43v6.4h-1.43zM65.42 210.1h1.43v6.4h-1.43zM92.58 210.1h1.43v6.4h-1.43zM29.69 203.7h1.43v6.4h-1.43zM43.98 203.7h1.43v6.4h-1.43zM95.44 203.7h1.43v6.4h-1.43zM99.73 203.7h1.43v6.4h-1.43zM125.45 203.7h1.43v6.4h-1.43zM48.27 197.3h2.86v6.4h-2.86zM105.44 197.3h1.43v6.4h-1.43zM114.02 197.3h1.43v6.4h-1.43zM129.74 197.3h1.43v6.4h-1.43zM28.26 190.9h2.86v6.4h-2.86zM53.99 190.9h1.43v6.4h-1.43zM26.83 184.5h1.43v6.4h-1.43zM35.41 184.5h1.43v6.4h-1.43zM43.98 184.5h1.43v6.4h-1.43zM46.84 184.5h1.43v6.4h-1.43zM92.58 184.5h1.43v6.4h-1.43zM96.87 184.5h1.43v6.4h-1.43zM109.73 184.5h1.43v6.4h-1.43zM121.17 184.5h1.43v6.4h-1.43zM49.7 178.1h1.43v6.4h-1.43zM53.99 178.1h1.43v6.4h-1.43zM58.27 178.1h1.43v6.4h-1.43zM104.01 178.1h1.43v6.4h-1.43zM31.12 171.7h1.43v6.4h-1.43zM36.83 171.7h1.43v6.4h-1.43zM53.99 171.7h1.43v6.4h-1.43zM95.44 171.7h1.43v6.4h-1.43zM31.12 165.3h1.43v6.4h-1.43zM91.15 165.3h1.43v6.4h-1.43zM56.85 158.9h1.43v6.4h-1.43zM111.16 158.9h1.43v6.4h-1.43zM122.59 158.9h1.43v6.4h-1.43zM129.74 158.9h1.43v6.4h-1.43zM112.59 152.5h1.43v6.4h-1.43zM26.83 146.1h1.43v6.4h-1.43zM76.86 146.1h1.43v6.4h-1.43zM85.43 146.1h1.43v6.4h-1.43zM26.83 137.7h1.43v8.4h-1.43zM36.83 137.7h1.43v8.4h-1.43zM48.27 137.7h1.43v8.4h-1.43zM53.99 137.7h1.43v8.4h-1.43zM68.28 137.7h1.43v8.4h-1.43z"/>
<path fill="#5ec962" d="M76.86 235.7h1.43v8.4h-1.43zM31.12 229.3h1.43v6.4h-1.43zM43.98 229.3h1.43v6.4h-1.43zM48.27 222.9h1.43v6.4h-1.43zM69.71 222.9h1.43v6.4h-1.43zM78.29 216.5h1.43v6.4h-1.43zM66.85 210.1h1.43v6.4h-1.43zM99.73 210.1h1.43v6.4h-1.43zM26.83 203.7h1.43v6.4h-1.43zM86.86 203.7h1.43v6.4h-1.43zM116.88 203.7h1.43v6.4h-1.43zM92.58 197.3h1.43v6.4h-1.43zM95.44 197.3h1.43v6.4h-1.43zM26.83 190.9h1.43v6.4h-1.43zM32.55 190.9h1.43v6.4h-1.43zM75.43 190.9h1.43v6.4h-1.43zM31.12 184.5h1.43v6.4h-1.43zM69.71 184.5h1.43v6.4h-1.43zM105.44 184.5h2.86v6.4h-2.86zM65.42 178.1h1.43v6.4h-1.43zM85.43 178.1h1.43v6.4h-1.43zM109.73 178.1h1.43v6.4h-1.43zM43.98 171.7h1.43v6.4h-1.43zM82.57 171.7h1.43v6.4h-1.43zM104.01 171.7h1.43v6.4h-1.43zM48.27 165.3h1.43v6.4h-1.43zM105.44 165.3h1.43v6.4h-1.43zM108.3 165.3h1.43v6.4h-1.43zM49.7 158.9h1.43v6.4h-1.43zM79.71 158.9h1.43v6.4h-1.43zM86.86 158.9h1.43v6.4h-1.43zM125.45 158.9h1.43v6.4h-1.43zM28.26 152.5h1.43v6.4h-1.43zM43.98 152.5h1.43v6.4h-1.43zM125.45 152.5h1.43v6.4h-1.43zM129.74 152.5h1.43v6.4h-1.43zM104.01 146.1h1.43v6.4h-1.43zM109.73 146.1h2.86v6.4h-2.86z"/>
<path fill="#63cb5f" d="M69.71 235.7h1.43v8.4h-1.43zM56.85 229.3h1.43v6.4h-1.43zM26.83 222.9h1.43v6.4h-1.43zM43.98 222.9h1.43v6.4h-1.43zM28.26 216.5h1.43v6.4h-1.43zM36.83 216.5h1.43v6.4h-1.43zM48.27 216.5h1.43v6.4h-1.43zM69.71 216.5h1.43v6.4h-1.43zM26.83 210.1h1.43v6.4h-1.43zM75.43 210.1h2.86v6.4h-2.86zM86.86 210.1h1.43v6.4h-1.43zM95.44 210.1h1.43v6.4h-1.43zM109.73 210.1h1.43v6.4h-1.43zM116.88 210.1h1.43v6.4h-1.43zM49.7 203.7h1.43v6.4h-1.43zM61.13 203.7h1.43v6.4h-1.43zM68.28 203.7h1.43v6.4h-1.43zM105.44 203.7h1.43v6.4h-1.43zM122.59 203.7h1.43v6.4h-1.43zM26.83 197.3h2.86v6.4h-2.86zM53.99 197.3h1.43v6.4h-1.43zM69.71 197.3h1.43v6.4h-1.43zM36.83 190.9h1.43v6.4h-1.43zM85.43 190.9h1.43v6.4h-1.43zM108.3 190.9h1.43v6.4h-1.43zM111.16 190.9h1.43v6.4h-1.43zM85.43 184.5h1.43v6.4h-1.43zM108.3 184.5h1.43v6.4h-1.43zM125.45 184.5h2.86v6.4h-2.86zM61.13 178.1h1.43v6.4h-1.43zM121.17 178.1h1.43v6.4h-1.43zM109.73 171.7h1.43v6.4h-1.43zM122.59 171.7h1.43v6.4h-1.43zM43.98 165.3h1.43v6.4h-1.43zM75.43 165.3h1.43v6.4h-1.43zM86.86 165.3h1.43v6.4h-1.43zM101.15 158.9h1.43v6.4h-1.43zM38.26 152.5h1.43v6.4h-1.43zM79.71 152.5h1.43v6.4h-1.43zM109.73 152.5h2.86v6.4h-2.86zM32.55 146.1h1.43v6.4h-1.43zM92.58 137.7h1.43v8.4h-1.43zM95.44 137.7h1.43v8.4h-1.43zM104.01 137.7h1.43v8.4h-1.43zM126.88 137.7h1.43v8.4h-1.43z"/>
<path fill="#69cd5b" d="M71.14 235.7h1.43v8.4h-1.43zM88.29 235.7h1.43v8.4h-1.43zM99.73 235.7h1.43v8.4h-1.43zM78.29 229.3h1.43v6.4h-1.43zM81.14 229.3h1.43v6.4h-1.43zM38.26 216.5h1.43v6.4h-1.43zM115.45 216.5h1.43v6.4h-1.43zM31.12 210.1h1.43v6.4h-1.43zM68.28 210.1h1.43v6.4h-1.43zM71.14 210.1h1.43v6.4h-1.43zM112.59 210.1h1.43v6.4h-1.43zM32.55 203.7h1.43v6.4h-1.43zM82.57 203.7h1.43v6.4h-1.43zM114.02 203.7h1.43v6.4h-1.43zM125.45 197.3h1.43v6.4h-1.43zM53.99 184.5h1.43v6.4h-1.43zM61.13 184.5h1.43v6.4h-1.43zM68.28 178.1h1.43v6.4h-1.43zM48.27 171.7h1.43v6.4h-1.43zM85.43 171.7h1.43v6.4h-1.43zM89.72 171.7h1.43v6.4h-1.43zM92.58 171.7h1.43v6.4h-1.43zM38.26 165.3h1.43v6.4h-1.43zM104.01 165.3h1.43v6.4h-1.43zM109.73 165.3h1.43v6.4h-1.43zM89.72 158.9h1.43v6.4h-1.43zM109.73 158.9h1.43v6.4h-1.43zM72.57 152.5h1.43v6.4h-1.43zM108.3 152.5h1.43v6.4h-1.43zM43.98 146.1h1.43v6.4h-1.43zM125.45 146.1h1.43v6.4h-1.43zM96.87 137.7h1.43v8.4h-1.43zM111.16 137.7h1.43v8.4h-1.43z"/>
<path fill="#6ece58" d="M94.01 235.7h1.43v8.4h-1.43zM131.17 235.7h3.43v8.4h-3.43zM61.13 229.3h1.43v6.4h-1.43zM74 229.3h1.43v6.4h-1.43zM26.83 216.5h1.43v6.4h-1.43zM46.84 216.5h1.43v6.4h-1.43zM61.13 216.5h1.43v6.4h-1.43zM101.15 210.1h1.43v6.4h-1.43zM124.02 210.1h1.43v6.4h-1.43zM126.88 210.1h2.86v6.4h-2.86zM31.12 203.7h1.43v6.4h-1.43zM48.27 190.9h1.43v6.4h-1.43zM122.59 190.9h1.43v6.4h-1.43zM129.74 190.9h1.43v6.4h-1.43zM79.71 184.5h1.43v6.4h-1.43zM89.72 184.5h1.43v6.4h-1.43zM125.45 171.7h1.43v6.4h-1.43zM129.74 171.7h1.43v6.4h-1.43zM104.01 158.9h1.43v6.4h-1.43zM96.87 146.1h1.43v6.4h-1.43zM106.87 146.1h1.43v6.4h-1.43z"/>
<path fill="#75d054" d="M36.83 229.3h1.43v6.4h-1.43zM72.57 229.3h1.43v6.4h-1.43zM72.57 222.9h1.43v6.4h-1.43zM71.14 216.5h1.43v6.4h-1.43zM75.43 216.5h1.43v6.4h-1.43zM79.71 216.5h1.43v6.4h-1.43zM72.57 210.1h1.43v6.4h-1.43zM96.87 210.1h1.43v6.4h-1.43zM115.45 210.1h1.43v6.4h-1.43zM96.87 203.7h1.43v6.4h-1.43zM126.88 178.1h1.43v6.4h-1.43zM68.28 171.7h1.43v6.4h-1.43zM79.71 171.7h1.43v6.4h-1.43zM69.71 165.3h1.43v6.4h-1.43zM69.71 158.9h1.43v6.4h-1.43zM126.88 158.9h1.43v6.4h-1.43zM69.71 152.5h1.43v6.4h-1.43zM85.43 152.5h1.43v6.4h-1.43zM69.71 146.1h1.43v6.4h-1.43zM31.12 137.7h1.43v8.4h-1.43zM125.45 137.7h1.43v8.4h-1.43z"/>
<path fill="#7ad151" d="M68.28 216.5h1.43v6.4h-1.43zM76.86 216.5h1.43v6.4h-1.43zM84 216.5h1.43v6.4h-1.43zM94.01 216.5h1.43v6.4h-1.43zM79.71 210.1h1.43v6.4h-1.43zM91.15 210.1h1.43v6.4h-1.43zM105.44 210.1h2.86v6.4h-2.86zM119.74 210.1h1.43v6.4h-1.43zM104.01 203.7h1.43v6.4h-1.43zM106.87 203.7h1.43v6.4h-1.43zM104.01 197.3h1.43v6.4h-1.43zM69.71 190.9h1.43v6.4h-1.43zM125.45 190.9h1.43v6.4h-1.43zM96.87 178.1h1.43v6.4h-1.43zM79.71 165.3h1.43v6.4h-1.43zM79.71 137.7h1.43v8.4h-1.43zM85.43 137.7h1.43v8.4h-1.43z"/>
<path fill="#81d34d" d="M82.57 235.7h2.86v8.4h-2.86zM86.86 235.7h1.43v8.4h-1.43zM76.86 229.3h1.43v6.4h-1.43zM98.3 229.3h1.43v6.4h-1.43zM68.28 222.9h1.43v6.4h-1.43zM76.86 222.9h2.86v6.4h-2.86zM81.14 222.9h1.43v6.4h-1.43zM102.58 216.5h1.43v6.4h-1.43zM69.71 210.1h1.43v6.4h-1.43zM82.57 210.1h1.43v6.4h-1.43zM104.01 210.1h1.43v6.4h-1.43zM114.02 210.1h1.43v6.4h-1.43zM121.17 210.1h1.43v6.4h-1.43zM125.45 210.1h1.43v6.4h-1.43zM109.73 203.7h1.43v6.4h-1.43zM126.88 203.7h1.43v6.4h-1.43zM125.45 165.3h1.43v6.4h-1.43z"/>
<path fill="#86d549" d="M114.02 235.7h1.43v8.4h-1.43zM98.3 222.9h1.43v6.4h-1.43zM88.29 216.5h1.43v6.4h-1.43zM118.31 210.1h1.43v6.4h-1.43zM129.74 210.1h1.43v6.4h-1.43zM79.71 203.7h1.43v6.4h-1.43zM69.71 178.1h1.43v6.4h-1.43z"/>
<path fill="#8ed645" d="M89.72 235.7h1.43v8.4h-1.43zM96.87 235.7h1.43v8.4h-1.43zM128.31 235.7h1.43v8.4h-1.43zM72.57 216.5h1.43v6.4h-1.43zM85.43 216.5h1.43v6.4h-1.43zM99.73 216.5h1.43v6.4h-1.43zM108.3 210.1h1.43v6.4h-1.43zM104.01 152.5h1.43v6.4h-1.43z"/>
<path fill="#95d840" d="M112.59 235.7h1.43v8.4h-1.43zM118.31 235.7h1.43v8.4h-1.43zM71.14 229.3h1.43v6.4h-1.43zM114.02 216.5h1.43v6.4h-1.43zM122.59 216.5h1.43v6.4h-1.43zM85.43 210.1h1.43v6.4h-1.43z"/>
<path fill="#9bd93c" d="M91.15 235.7h1.43v8.4h-1.43zM95.44 235.7h1.43v8.4h-1.43zM109.73 235.7h1.43v8.4h-1.43zM116.88 235.7h1.43v8.4h-1.43zM121.17 235.7h1.43v8.4h-1.43zM126.88 235.7h1.43v8.4h-1.43zM68.28 229.3h2.86v6.4h-2.86zM71.14 222.9h1.43v6.4h-1.43zM75.43 222.9h1.43v6.4h-1.43zM94.01 222.9h1.43v6.4h-1.43zM128.31 216.5h1.43v6.4h-1.43zM111.16 210.1h1.43v6.4h-1.43zM85.43 203.7h1.43v6.4h-1.43z"/>
<path fill="#a2da37" d="M79.71 235.7h1.43v8.4h-1.43zM85.43 235.7h1.43v8.4h-1.43zM92.58 235.7h1.43v8.4h-1.43zM111.16 235.7h1.43v8.4h-1.43zM124.02 235.7h1.43v8.4h-1.43zM129.74 235.7h1.43v8.4h-1.43zM89.72 216.5h2.86v6.4h-2.86zM119.74 216.5h1.43v6.4h-1.43zM122.59 210.1h1.43v6.4h-1.43z"/>
<path fill="#a8db34" d="M105.44 235.7h1.43v8.4h-1.43zM115.45 235.7h1.43v8.4h-1.43zM119.74 235.7h1.43v8.4h-1.43zM75.43 229.3h1.43v6.4h-1.43zM115.45 229.3h1.43v6.4h-1.43zM82.57 216.5h1.43v6.4h-1.43zM92.58 216.5h1.43v6.4h-1.43zM118.31 216.5h1.43v6.4h-1.43zM121.17 216.5h1.43v6.4h-1.43zM131.17 216.5h3.43v6.4h-3.43z"/>
<path fill="#b0dd2f" d="M101.15 235.7h1.43v8.4h-1.43zM104.01 235.7h1.43v8.4h-1.43zM122.59 235.7h1.43v8.4h-1.43zM125.45 235.7h1.43v8.4h-1.43zM82.57 229.3h1.43v6.4h-1.43zM94.01 229.3h1.43v6.4h-1.43zM82.57 222.9h1.43v6.4h-1.43zM95.44 216.5h1.43v6.4h-1.43zM101.15 216.5h1.43v6.4h-1.43z"/>
<path fill="#b5de2b" d="M131.17 229.3h3.43v6.4h-3.43zM84 222.9h1.43v6.4h-1.43zM88.29 222.9h1.43v6.4h-1.43zM86.86 216.5h1.43v6.4h-1.43zM106.87 216.5h1.43v6.4h-1.43zM111.16 216.5h2.86v6.4h-2.86zM116.88 216.5h1.43v6.4h-1.43z"/>
<path fill="#bddf26" d="M108.3 235.7h1.43v8.4h-1.43zM88.29 229.3h1.43v6.4h-1.43zM124.02 216.5h2.86v6.4h-2.86zM129.74 216.5h1.43v6.4h-1.43z"/>
<path fill="#c2df23" d="M106.87 235.7h1.43v8.4h-1.43zM89.72 222.9h1.43v6.4h-1.43zM102.58 222.9h1.43v6.4h-1.43zM119.74 222.9h1.43v6.4h-1.43z"/>
<path fill="#cae11f" d="M84 229.3h1.43v6.4h-1.43zM102.58 229.3h1.43v6.4h-1.43zM111.16 229.3h1.43v6.4h-1.43zM128.31 229.3h1.43v6.4h-1.43zM91.15 222.9h1.43v6.4h-1.43zM116.88 222.9h1.43v6.4h-1.43zM105.44 216.5h1.43v6.4h-1.43zM108.3 216.5h1.43v6.4h-1.43z"/>
<path fill="#d2e21b" d="M91.15 229.3h2.86v6.4h-2.86zM116.88 229.3h2.86v6.4h-2.86zM105.44 222.9h1.43v6.4h-1.43zM114.02 222.9h1.43v6.4h-1.43z"/>
<path fill="#d8e219" d="M85.43 229.3h1.43v6.4h-1.43zM89.72 229.3h1.43v6.4h-1.43zM109.73 229.3h1.43v6.4h-1.43zM112.59 229.3h1.43v6.4h-1.43zM99.73 222.9h1.43v6.4h-1.43zM112.59 222.9h1.43v6.4h-1.43zM115.45 222.9h1.43v6.4h-1.43zM131.17 222.9h3.43v6.4h-3.43zM104.01 216.5h1.43v6.4h-1.43zM109.73 216.5h1.43v6.4h-1.43z"/>
<path fill="#dfe318" d="M95.44 229.3h1.43v6.4h-1.43zM85.43 222.9h2.86v6.4h-2.86zM121.17 222.9h1.43v6.4h-1.43zM124.02 222.9h1.43v6.4h-1.43zM128.31 222.9h1.43v6.4h-1.43zM126.88 216.5h1.43v6.4h-1.43z"/>
<path fill="#e5e419" d="M79.71 229.3h1.43v6.4h-1.43zM86.86 229.3h1.43v6.4h-1.43zM114.02 229.3h1.43v6.4h-1.43zM79.71 222.9h1.43v6.4h-1.43zM92.58 222.9h1.43v6.4h-1.43zM95.44 222.9h1.43v6.4h-1.43zM104.01 222.9h1.43v6.4h-1.43zM129.74 222.9h1.43v6.4h-1.43z"/>
<path fill="#ece51b" d="M121.17 229.3h1.43v6.4h-1.43zM124.02 229.3h1.43v6.4h-1.43zM101.15 222.9h1.43v6.4h-1.43zM109.73 222.9h1.43v6.4h-1.43zM118.31 222.9h1.43v6.4h-1.43zM122.59 222.9h1.43v6.4h-1.43zM125.45 222.9h1.43v6.4h-1.43z"/>
<path fill="#f1e51d" d="M101.15 229.3h1.43v6.4h-1.43zM105.44 229.3h2.86v6.4h-2.86zM119.74 229.3h1.43v6.4h-1.43zM122.59 229.3h1.43v6.4h-1.43zM108.3 222.9h1.43v6.4h-1.43zM111.16 222.9h1.43v6.4h-1.43z"/>
<path fill="#f8e621" d="M96.87 229.3h1.43v6.4h-1.43zM99.73 229.3h1.43v6.4h-1.43zM108.3 229.3h1.43v6.4h-1.43zM129.74 229.3h1.43v6.4h-1.43zM96.87 222.9h1.43v6.4h-1.43zM126.88 222.9h1.43v6.4h-1.43z"/>
<path fill="#fde725" d="M104.01 229.3h1.43v6.4h-1.43zM125.45 229.3h2.86v6.4h-2.86zM106.87 222.9h1.43v6.4h-1.43z"/>
</g>
<line x1="61.13" y1="242.1" x2="61.13" y2="139.7" stroke="#0000ff" stroke-width="1.5" stroke-dasharray="4.5 1.95"/>
</g>
<rect x="25.4" y="139.7" width="107.2" height="102.4" fill="none" stroke="#222" stroke-width="0.4"/>
<path d="M25.4 242.1v2.3M43.27 242.1v2.3M61.13 242.1v2.3M79 242.1v2.3M96.87 242.1v2.3M114.73 242.1v2.3M132.6 242.1v2.3M25.4 242.1h-2.3M25.4 221.62h-2.3M25.4 201.14h-2.3M25.4 180.66h-2.3M25.4 160.18h-2.3M25.4 139.7h-2.3" stroke="#444" stroke-width="0.4" fill="none"/>
<g font-family="'DejaVu Sans', 'Liberation Sans', sans-serif" font-weight="bold" stroke="#000" stroke-width="0.18" font-size="4.8" fill="#000">
<text x="25.4" y="248.5" text-anchor="middle">48</text>
<text x="43.27" y="248.5" text-anchor="middle">49</text>
<text x="61.13" y="248.5" text-anchor="middle">50</text>
<text x="79" y="248.5" text-anchor="middle">51</text>
<text x="96.87" y="248.5" text-anchor="middle">52</text>
<text x="114.73" y="248.5" text-anchor="middle">53</text>
<text x="132.6" y="248.5" text-anchor="middle">54</text>
<text x="22.8" y="243.9" text-anchor="end">0</text>
<text x="22.8" y="223.42" text-anchor="end">20</text>
<text x="22.8" y="202.94" text-anchor="end">40</text>
<text x="22.8" y="182.46" text-anchor="end">60</text>
<text x="22.8" y="161.98" text-anchor="end">80</text>
<text x="22.8" y="141.5" text-anchor="end">100</text>
</g>
<text x="79" y="137.8" text-anchor="middle" font-size="5.95" font-family="'DejaVu Sans', 'Liberation Sans', sans-serif" font-weight="bold" stroke="#000" stroke-width="0.18">SNRdB=-1, windowsize=32</text>
<text x="79" y="256.6" text-anchor="middle" font-size="6.8" font-family="'DejaVu Sans', 'Liberation Sans', sans-serif" font-weight="bold" stroke="#000" stroke-width="0.18">Time</text>
<text transform="translate(9.5 191.75) rotate(-90)" text-anchor="middle" font-size="6.6" font-family="'DejaVu Sans', 'Liberation Sans', sans-serif" font-weight="bold" stroke="#000" stroke-width="0.18">Frequency</text>
<clipPath id="c5"><rect x="162.57" y="139.7" width="107.2" height="102.4"/></clipPath>
<g clip-path="url(#c5)">
<g filter="url(#bl)">
<rect x="160.57" y="137.7" width="111.2" height="106.4" fill="#2eb37c"/>
<path fill="#355f8d" d="M168.29 171.7h2.86v3.2h-2.86z"/>
<path fill="#32648e" d="M219.74 190.9h2.86v3.2h-2.86z"/>
<path fill="#2b758e" d="M228.32 162.1h2.86v3.2h-2.86z"/>
<path fill="#287d8e" d="M234.04 190.9h2.86v3.2h-2.86zM236.9 152.5h2.86v3.2h-2.86z"/>
<path fill="#27808e" d="M165.43 226.1h2.86v3.2h-2.86zM160.57 219.7h4.86v3.2h-4.86zM165.43 216.5h2.86v3.2h-2.86zM236.9 155.7h2.86v3.2h-2.86z"/>
<path fill="#26828e" d="M268.34 152.5h3.43v3.2h-3.43z"/>
<path fill="#25848e" d="M188.3 235.7h2.86v3.2h-2.86zM179.72 232.5h2.86v3.2h-2.86zM199.73 232.5h2.86v3.2h-2.86zM191.16 229.3h2.86v3.2h-2.86zM245.47 181.3h2.86v3.2h-2.86z"/>
<path fill="#24868e" d="M254.05 171.7h2.86v3.2h-2.86zM185.44 165.3h2.86v3.2h-2.86z"/>
<path fill="#23898e" d="M182.58 238.9h2.86v5.2h-2.86zM191.16 226.1h2.86v3.2h-2.86zM165.43 213.3h5.72v3.2h-5.72zM228.32 200.5h2.86v3.2h-2.86zM182.58 190.9h2.86v3.2h-2.86zM242.61 184.5h2.86v3.2h-2.86zM214.03 152.5h2.86v3.2h-2.86zM234.04 152.5h2.86v3.2h-2.86zM174 149.3h2.86v3.2h-2.86zM222.6 149.3h2.86v3.2h-2.86zM174 146.1h2.86v3.2h-2.86z"/>
<path fill="#228b8d" d="M219.74 238.9h2.86v5.2h-2.86zM174 232.5h2.86v3.2h-2.86zM188.3 232.5h2.86v3.2h-2.86zM160.57 216.5h4.86v3.2h-4.86zM231.18 203.7h2.86v3.2h-2.86zM245.47 184.5h2.86v3.2h-2.86zM168.29 174.9h2.86v3.2h-2.86zM254.05 174.9h2.86v3.2h-2.86zM268.34 155.7h3.43v3.2h-3.43z"/>
<path fill="#218e8d" d="M179.72 235.7h2.86v3.2h-2.86zM160.57 232.5h4.86v3.2h-4.86zM165.43 222.9h2.86v3.2h-2.86zM168.29 216.5h2.86v3.2h-2.86zM268.34 206.9h3.43v3.2h-3.43zM242.61 187.7h2.86v3.2h-2.86zM256.91 171.7h2.86v3.2h-2.86zM222.6 152.5h2.86v3.2h-2.86zM248.33 149.3h2.86v3.2h-2.86z"/>
<path fill="#21918c" d="M256.91 194.1h2.86v3.2h-2.86zM234.04 187.7h2.86v3.2h-2.86zM245.47 187.7h2.86v3.2h-2.86zM236.9 178.1h2.86v3.2h-2.86zM168.29 168.5h2.86v3.2h-2.86zM205.45 165.3h2.86v3.2h-2.86zM211.17 165.3h2.86v3.2h-2.86zM228.32 165.3h2.86v3.2h-2.86zM251.19 137.7h2.86v5.2h-2.86z"/>
<path fill="#20928c" d="M165.43 229.3h2.86v3.2h-2.86zM262.62 206.9h2.86v3.2h-2.86zM254.05 203.7h2.86v3.2h-2.86zM262.62 203.7h2.86v3.2h-2.86zM231.18 200.5h2.86v3.2h-2.86zM199.73 197.3h2.86v3.2h-2.86zM182.58 194.1h2.86v3.2h-2.86zM248.33 194.1h2.86v3.2h-2.86zM236.9 174.9h2.86v3.2h-2.86zM245.47 171.7h2.86v3.2h-2.86zM185.44 168.5h2.86v3.2h-2.86zM242.61 168.5h2.86v3.2h-2.86zM256.91 168.5h2.86v3.2h-2.86zM196.87 137.7h2.86v5.2h-2.86zM265.48 137.7h2.86v5.2h-2.86z"/>
<path fill="#1f958b" d="M199.73 235.7h2.86v3.2h-2.86zM165.43 219.7h2.86v3.2h-2.86zM254.05 206.9h2.86v3.2h-2.86zM196.87 194.1h2.86v3.2h-2.86zM174 187.7h2.86v3.2h-2.86zM216.88 181.3h2.86v3.2h-2.86zM171.15 178.1h2.86v3.2h-2.86zM259.76 174.9h2.86v3.2h-2.86zM211.17 162.1h2.86v3.2h-2.86zM234.04 142.9h2.86v3.2h-2.86zM254.05 142.9h2.86v3.2h-2.86z"/>
<path fill="#1f978b" d="M202.59 238.9h2.86v5.2h-2.86zM174 229.3h2.86v3.2h-2.86zM168.29 222.9h2.86v3.2h-2.86zM174 222.9h2.86v3.2h-2.86zM214.03 222.9h2.86v3.2h-2.86zM179.72 213.3h2.86v3.2h-2.86zM268.34 210.1h3.43v3.2h-3.43zM239.75 206.9h2.86v3.2h-2.86zM228.32 197.3h2.86v3.2h-2.86zM176.86 171.7h2.86v3.2h-2.86zM205.45 171.7h2.86v3.2h-2.86zM160.57 158.9h7.72v3.2h-7.72zM214.03 149.3h2.86v3.2h-2.86zM268.34 149.3h3.43v3.2h-3.43zM268.34 146.1h3.43v3.2h-3.43zM268.34 142.9h3.43v3.2h-3.43z"/>
<path fill="#1f9a8a" d="M176.86 238.9h2.86v5.2h-2.86zM242.61 238.9h2.86v5.2h-2.86zM262.62 238.9h2.86v5.2h-2.86zM160.57 229.3h4.86v3.2h-4.86zM185.44 229.3h2.86v3.2h-2.86zM216.88 210.1h2.86v3.2h-2.86zM239.75 203.7h2.86v3.2h-2.86zM256.91 197.3h2.86v3.2h-2.86zM199.73 194.1h5.72v3.2h-5.72zM219.74 194.1h2.86v3.2h-2.86zM174 190.9h2.86v3.2h-2.86zM254.05 187.7h2.86v3.2h-2.86zM254.05 184.5h2.86v3.2h-2.86zM251.19 181.3h2.86v3.2h-2.86zM160.57 178.1h4.86v3.2h-4.86zM248.33 178.1h2.86v3.2h-2.86zM191.16 174.9h2.86v3.2h-2.86zM165.43 171.7h2.86v3.2h-2.86zM251.19 171.7h2.86v3.2h-2.86zM174 162.1h2.86v3.2h-2.86zM191.16 162.1h2.86v3.2h-2.86zM202.59 162.1h5.72v3.2h-5.72zM254.05 162.1h2.86v3.2h-2.86zM225.46 149.3h2.86v3.2h-2.86zM254.05 146.1h2.86v3.2h-2.86zM245.47 142.9h2.86v3.2h-2.86zM174 137.7h2.86v5.2h-2.86z"/>
<path fill="#1e9c89" d="M174 238.9h2.86v5.2h-2.86zM191.16 238.9h2.86v5.2h-2.86zM196.87 238.9h2.86v5.2h-2.86zM225.46 238.9h2.86v5.2h-2.86zM245.47 238.9h2.86v5.2h-2.86zM199.73 229.3h2.86v3.2h-2.86zM174 226.1h2.86v3.2h-2.86zM179.72 222.9h2.86v3.2h-2.86zM188.3 210.1h2.86v3.2h-2.86zM219.74 210.1h2.86v3.2h-2.86zM211.17 203.7h2.86v3.2h-2.86zM202.59 197.3h2.86v3.2h-2.86zM236.9 197.3h2.86v3.2h-2.86zM160.57 190.9h4.86v3.2h-4.86zM225.46 190.9h2.86v3.2h-2.86zM268.34 190.9h3.43v3.2h-3.43zM239.75 187.7h2.86v3.2h-2.86zM214.03 181.3h2.86v3.2h-2.86zM234.04 181.3h2.86v3.2h-2.86zM248.33 181.3h2.86v3.2h-2.86zM176.86 178.1h2.86v3.2h-2.86zM165.43 174.9h2.86v3.2h-2.86zM205.45 174.9h2.86v3.2h-2.86zM265.48 171.7h2.86v3.2h-2.86zM176.86 168.5h2.86v3.2h-2.86zM251.19 168.5h2.86v3.2h-2.86zM202.59 165.3h2.86v3.2h-2.86zM231.18 165.3h2.86v3.2h-2.86zM234.04 149.3h2.86v3.2h-2.86zM225.46 146.1h2.86v3.2h-2.86zM174 142.9h2.86v3.2h-2.86zM265.48 142.9h2.86v3.2h-2.86zM179.72 137.7h2.86v5.2h-2.86zM191.16 137.7h2.86v5.2h-2.86zM202.59 137.7h2.86v5.2h-2.86z"/>
<path fill="#1f9f88" d="M188.3 238.9h2.86v5.2h-2.86zM194.02 238.9h2.86v5.2h-2.86zM236.9 238.9h2.86v5.2h-2.86zM248.33 238.9h2.86v5.2h-2.86zM165.43 232.5h2.86v3.2h-2.86zM214.03 226.1h2.86v3.2h-2.86zM225.46 213.3h2.86v3.2h-2.86zM160.57 210.1h4.86v3.2h-4.86zM179.72 210.1h2.86v3.2h-2.86zM245.47 206.9h5.72v3.2h-5.72zM168.29 203.7h2.86v3.2h-2.86zM242.61 203.7h2.86v3.2h-2.86zM259.76 203.7h2.86v3.2h-2.86zM268.34 203.7h3.43v3.2h-3.43zM234.04 194.1h2.86v3.2h-2.86zM165.43 190.9h2.86v3.2h-2.86zM176.86 190.9h2.86v3.2h-2.86zM254.05 190.9h2.86v3.2h-2.86zM194.02 184.5h2.86v3.2h-2.86zM234.04 184.5h2.86v3.2h-2.86zM176.86 181.3h2.86v3.2h-2.86zM225.46 178.1h2.86v3.2h-2.86zM245.47 178.1h2.86v3.2h-2.86zM171.15 174.9h5.72v3.2h-5.72zM225.46 174.9h2.86v3.2h-2.86zM174 171.7h2.86v3.2h-2.86zM191.16 171.7h2.86v3.2h-2.86zM222.6 171.7h2.86v3.2h-2.86zM242.61 171.7h2.86v3.2h-2.86zM208.31 168.5h2.86v3.2h-2.86zM222.6 168.5h2.86v3.2h-2.86zM216.88 165.3h2.86v3.2h-2.86zM231.18 162.1h2.86v3.2h-2.86zM174 158.9h2.86v3.2h-2.86zM248.33 152.5h2.86v3.2h-2.86zM251.19 149.3h2.86v3.2h-2.86zM234.04 146.1h2.86v3.2h-2.86zM179.72 142.9h2.86v3.2h-2.86zM191.16 142.9h2.86v3.2h-2.86zM196.87 142.9h2.86v3.2h-2.86zM202.59 142.9h2.86v3.2h-2.86zM262.62 142.9h2.86v3.2h-2.86zM165.43 137.7h2.86v5.2h-2.86z"/>
<path fill="#1fa188" d="M165.43 238.9h2.86v5.2h-2.86zM185.44 238.9h2.86v5.2h-2.86zM214.03 238.9h2.86v5.2h-2.86zM222.6 238.9h2.86v5.2h-2.86zM265.48 238.9h2.86v5.2h-2.86zM191.16 235.7h2.86v3.2h-2.86zM191.16 232.5h2.86v3.2h-2.86zM205.45 216.5h2.86v3.2h-2.86zM202.59 213.3h2.86v3.2h-2.86zM268.34 213.3h3.43v3.2h-3.43zM171.15 210.1h2.86v3.2h-2.86zM254.05 210.1h2.86v3.2h-2.86zM176.86 206.9h2.86v3.2h-2.86zM242.61 206.9h2.86v3.2h-2.86zM179.72 203.7h2.86v3.2h-2.86zM199.73 203.7h2.86v3.2h-2.86zM179.72 200.5h2.86v3.2h-2.86zM254.05 200.5h2.86v3.2h-2.86zM214.03 197.3h2.86v3.2h-2.86zM248.33 197.3h2.86v3.2h-2.86zM165.43 194.1h2.86v3.2h-2.86zM214.03 194.1h2.86v3.2h-2.86zM176.86 187.7h2.86v3.2h-2.86zM219.74 187.7h2.86v3.2h-2.86zM268.34 187.7h3.43v3.2h-3.43zM239.75 184.5h2.86v3.2h-2.86zM251.19 184.5h2.86v3.2h-2.86zM245.47 168.5h2.86v3.2h-2.86zM196.87 162.1h2.86v3.2h-2.86zM179.72 158.9h2.86v3.2h-2.86zM188.3 146.1h2.86v3.2h-2.86zM202.59 146.1h2.86v3.2h-2.86zM245.47 146.1h2.86v3.2h-2.86z"/>
<path fill="#20a386" d="M179.72 238.9h2.86v5.2h-2.86zM256.91 238.9h2.86v5.2h-2.86zM174 235.7h2.86v3.2h-2.86zM168.29 232.5h2.86v3.2h-2.86zM196.87 232.5h2.86v3.2h-2.86zM176.86 229.3h2.86v3.2h-2.86zM176.86 222.9h2.86v3.2h-2.86zM194.02 222.9h2.86v3.2h-2.86zM194.02 219.7h2.86v3.2h-2.86zM214.03 213.3h2.86v3.2h-2.86zM202.59 210.1h2.86v3.2h-2.86zM214.03 210.1h2.86v3.2h-2.86zM179.72 206.9h2.86v3.2h-2.86zM199.73 200.5h2.86v3.2h-2.86zM174 194.1h2.86v3.2h-2.86zM256.91 190.9h2.86v3.2h-2.86zM160.57 187.7h4.86v3.2h-4.86zM256.91 187.7h2.86v3.2h-2.86zM174 184.5h2.86v3.2h-2.86zM185.44 181.3h2.86v3.2h-2.86zM254.05 181.3h2.86v3.2h-2.86zM160.57 174.9h4.86v3.2h-4.86zM176.86 174.9h2.86v3.2h-2.86zM248.33 174.9h2.86v3.2h-2.86zM259.76 171.7h2.86v3.2h-2.86zM211.17 168.5h2.86v3.2h-2.86zM265.48 168.5h2.86v3.2h-2.86zM208.31 165.3h2.86v3.2h-2.86zM171.15 162.1h2.86v3.2h-2.86zM262.62 152.5h2.86v3.2h-2.86zM236.9 149.3h2.86v3.2h-2.86zM248.33 146.1h2.86v3.2h-2.86zM165.43 142.9h2.86v3.2h-2.86zM251.19 142.9h2.86v3.2h-2.86z"/>
<path fill="#21a685" d="M199.73 238.9h2.86v5.2h-2.86zM234.04 238.9h2.86v5.2h-2.86zM251.19 238.9h2.86v5.2h-2.86zM259.76 238.9h2.86v5.2h-2.86zM196.87 229.3h2.86v3.2h-2.86zM196.87 222.9h2.86v3.2h-2.86zM168.29 219.7h2.86v3.2h-2.86zM205.45 219.7h2.86v3.2h-2.86zM216.88 213.3h2.86v3.2h-2.86zM259.76 210.1h2.86v3.2h-2.86zM188.3 206.9h2.86v3.2h-2.86zM236.9 206.9h2.86v3.2h-2.86zM208.31 203.7h2.86v3.2h-2.86zM245.47 203.7h2.86v3.2h-2.86zM174 200.5h2.86v3.2h-2.86zM268.34 200.5h3.43v3.2h-3.43zM179.72 197.3h2.86v3.2h-2.86zM196.87 197.3h2.86v3.2h-2.86zM268.34 194.1h3.43v3.2h-3.43zM245.47 190.9h2.86v3.2h-2.86zM194.02 187.7h2.86v3.2h-2.86zM176.86 184.5h2.86v3.2h-2.86zM248.33 184.5h2.86v3.2h-2.86zM182.58 181.3h2.86v3.2h-2.86zM174 178.1h2.86v3.2h-2.86zM185.44 178.1h2.86v3.2h-2.86zM234.04 178.1h2.86v3.2h-2.86zM225.46 171.7h2.86v3.2h-2.86zM160.57 168.5h7.72v3.2h-7.72zM199.73 168.5h2.86v3.2h-2.86zM196.87 165.3h2.86v3.2h-2.86zM179.72 162.1h2.86v3.2h-2.86zM216.88 162.1h2.86v3.2h-2.86zM236.9 162.1h2.86v3.2h-2.86zM176.86 158.9h2.86v3.2h-2.86zM191.16 158.9h2.86v3.2h-2.86zM202.59 158.9h2.86v3.2h-2.86zM228.32 158.9h2.86v3.2h-2.86zM254.05 158.9h2.86v3.2h-2.86zM160.57 155.7h4.86v3.2h-4.86zM234.04 155.7h2.86v3.2h-2.86zM174 152.5h2.86v3.2h-2.86zM202.59 149.3h2.86v3.2h-2.86zM262.62 149.3h2.86v3.2h-2.86zM179.72 146.1h2.86v3.2h-2.86zM262.62 146.1h2.86v3.2h-2.86zM228.32 142.9h2.86v3.2h-2.86zM239.75 142.9h2.86v3.2h-2.86zM182.58 137.7h2.86v5.2h-2.86zM254.05 137.7h2.86v5.2h-2.86z"/>
<path fill="#22a884" d="M160.57 238.9h4.86v5.2h-4.86zM168.29 238.9h2.86v5.2h-2.86zM216.88 238.9h2.86v5.2h-2.86zM228.32 238.9h2.86v5.2h-2.86zM176.86 232.5h2.86v3.2h-2.86zM179.72 229.3h2.86v3.2h-2.86zM176.86 226.1h5.72v3.2h-5.72zM179.72 219.7h2.86v3.2h-2.86zM188.3 219.7h2.86v3.2h-2.86zM265.48 213.3h2.86v3.2h-2.86zM165.43 210.1h2.86v3.2h-2.86zM176.86 210.1h2.86v3.2h-2.86zM194.02 210.1h2.86v3.2h-2.86zM236.9 203.7h2.86v3.2h-2.86zM188.3 200.5h2.86v3.2h-2.86zM211.17 200.5h2.86v3.2h-2.86zM236.9 200.5h2.86v3.2h-2.86zM174 197.3h2.86v3.2h-2.86zM176.86 194.1h2.86v3.2h-2.86zM236.9 194.1h5.72v3.2h-5.72zM196.87 190.9h2.86v3.2h-2.86zM202.59 190.9h2.86v3.2h-2.86zM231.18 190.9h2.86v3.2h-2.86zM236.9 187.7h2.86v3.2h-2.86zM216.88 184.5h2.86v3.2h-2.86zM236.9 184.5h2.86v3.2h-2.86zM256.91 184.5h2.86v3.2h-2.86zM179.72 174.9h2.86v3.2h-2.86zM245.47 174.9h2.86v3.2h-2.86zM248.33 168.5h2.86v3.2h-2.86zM168.29 165.3h2.86v3.2h-2.86zM191.16 165.3h2.86v3.2h-2.86zM248.33 165.3h2.86v3.2h-2.86zM160.57 162.1h4.86v3.2h-4.86zM185.44 162.1h2.86v3.2h-2.86zM179.72 149.3h2.86v3.2h-2.86zM242.61 149.3h2.86v3.2h-2.86zM254.05 149.3h2.86v3.2h-2.86zM168.29 146.1h2.86v3.2h-2.86zM185.44 146.1h2.86v3.2h-2.86zM222.6 146.1h2.86v3.2h-2.86zM188.3 142.9h2.86v3.2h-2.86zM188.3 137.7h2.86v5.2h-2.86zM194.02 137.7h2.86v5.2h-2.86zM262.62 137.7h2.86v5.2h-2.86z"/>
<path fill="#25ab82" d="M254.05 238.9h2.86v5.2h-2.86zM160.57 235.7h4.86v3.2h-4.86zM168.29 229.3h2.86v3.2h-2.86zM188.3 229.3h2.86v3.2h-2.86zM185.44 226.1h2.86v3.2h-2.86zM160.57 222.9h4.86v3.2h-4.86zM179.72 216.5h5.72v3.2h-5.72zM191.16 213.3h2.86v3.2h-2.86zM185.44 210.1h2.86v3.2h-2.86zM228.32 210.1h2.86v3.2h-2.86zM239.75 210.1h5.72v3.2h-5.72zM251.19 210.1h2.86v3.2h-2.86zM174 206.9h2.86v3.2h-2.86zM251.19 206.9h2.86v3.2h-2.86zM248.33 190.9h2.86v3.2h-2.86zM225.46 187.7h2.86v3.2h-2.86zM199.73 184.5h2.86v3.2h-2.86zM259.76 184.5h2.86v3.2h-2.86zM268.34 184.5h3.43v3.2h-3.43zM174 181.3h2.86v3.2h-2.86zM165.43 178.1h2.86v3.2h-2.86zM179.72 178.1h5.72v3.2h-5.72zM216.88 178.1h2.86v3.2h-2.86zM171.15 171.7h2.86v3.2h-2.86zM234.04 171.7h2.86v3.2h-2.86zM254.05 165.3h2.86v3.2h-2.86zM165.43 162.1h2.86v3.2h-2.86zM225.46 162.1h2.86v3.2h-2.86zM171.15 158.9h2.86v3.2h-2.86zM231.18 158.9h2.86v3.2h-2.86zM236.9 158.9h2.86v3.2h-2.86zM174 155.7h2.86v3.2h-2.86zM194.02 155.7h2.86v3.2h-2.86zM202.59 155.7h2.86v3.2h-2.86zM239.75 155.7h2.86v3.2h-2.86zM251.19 152.5h2.86v3.2h-2.86zM256.91 152.5h2.86v3.2h-2.86zM160.57 149.3h4.86v3.2h-4.86zM168.29 149.3h2.86v3.2h-2.86z"/>
<path fill="#26ad81" d="M208.31 238.9h2.86v5.2h-2.86zM176.86 235.7h2.86v3.2h-2.86zM182.58 235.7h2.86v3.2h-2.86zM185.44 232.5h2.86v3.2h-2.86zM194.02 226.1h2.86v3.2h-2.86zM231.18 226.1h2.86v3.2h-2.86zM202.59 219.7h2.86v3.2h-2.86zM202.59 216.5h2.86v3.2h-2.86zM160.57 213.3h4.86v3.2h-4.86zM174 213.3h2.86v3.2h-2.86zM185.44 213.3h2.86v3.2h-2.86zM196.87 213.3h2.86v3.2h-2.86zM205.45 213.3h2.86v3.2h-2.86zM236.9 213.3h2.86v3.2h-2.86zM174 210.1h2.86v3.2h-2.86zM191.16 210.1h2.86v3.2h-2.86zM225.46 210.1h2.86v3.2h-2.86zM248.33 210.1h2.86v3.2h-2.86zM256.91 210.1h2.86v3.2h-2.86zM165.43 206.9h2.86v3.2h-2.86zM194.02 206.9h2.86v3.2h-2.86zM185.44 203.7h8.58v3.2h-8.58zM202.59 203.7h2.86v3.2h-2.86zM256.91 203.7h2.86v3.2h-2.86zM160.57 200.5h4.86v3.2h-4.86zM185.44 200.5h2.86v3.2h-2.86zM191.16 200.5h2.86v3.2h-2.86zM202.59 200.5h2.86v3.2h-2.86zM216.88 200.5h2.86v3.2h-2.86zM256.91 200.5h2.86v3.2h-2.86zM182.58 197.3h2.86v3.2h-2.86zM222.6 197.3h2.86v3.2h-2.86zM222.6 194.1h5.72v3.2h-5.72zM231.18 194.1h2.86v3.2h-2.86zM188.3 190.9h2.86v3.2h-2.86zM236.9 190.9h5.72v3.2h-5.72zM202.59 187.7h2.86v3.2h-2.86zM211.17 187.7h2.86v3.2h-2.86zM165.43 184.5h2.86v3.2h-2.86zM214.03 184.5h2.86v3.2h-2.86zM231.18 184.5h2.86v3.2h-2.86zM160.57 181.3h4.86v3.2h-4.86zM168.29 181.3h5.72v3.2h-5.72zM211.17 181.3h2.86v3.2h-2.86zM251.19 178.1h2.86v3.2h-2.86zM228.32 174.9h2.86v3.2h-2.86zM160.57 171.7h4.86v3.2h-4.86zM228.32 171.7h2.86v3.2h-2.86zM174 165.3h2.86v3.2h-2.86zM199.73 165.3h2.86v3.2h-2.86zM251.19 165.3h2.86v3.2h-2.86zM208.31 162.1h2.86v3.2h-2.86zM262.62 162.1h2.86v3.2h-2.86zM185.44 158.9h2.86v3.2h-2.86zM208.31 158.9h2.86v3.2h-2.86zM225.46 158.9h2.86v3.2h-2.86zM242.61 158.9h2.86v3.2h-2.86zM165.43 155.7h2.86v3.2h-2.86zM205.45 155.7h2.86v3.2h-2.86zM248.33 155.7h2.86v3.2h-2.86zM256.91 155.7h2.86v3.2h-2.86zM171.15 152.5h2.86v3.2h-2.86zM194.02 152.5h2.86v3.2h-2.86zM199.73 149.3h2.86v3.2h-2.86zM165.43 146.1h2.86v3.2h-2.86zM171.15 146.1h2.86v3.2h-2.86zM171.15 142.9h2.86v3.2h-2.86zM208.31 137.7h2.86v5.2h-2.86zM214.03 137.7h2.86v5.2h-2.86zM245.47 137.7h5.72v5.2h-5.72zM268.34 137.7h3.43v5.2h-3.43z"/>
<path fill="#29af7f" d="M202.59 235.7h2.86v3.2h-2.86zM160.57 226.1h4.86v3.2h-4.86zM188.3 226.1h2.86v3.2h-2.86zM202.59 222.9h2.86v3.2h-2.86zM191.16 216.5h2.86v3.2h-2.86zM182.58 213.3h2.86v3.2h-2.86zM231.18 210.1h2.86v3.2h-2.86zM245.47 210.1h2.86v3.2h-2.86zM171.15 206.9h2.86v3.2h-2.86zM199.73 206.9h5.72v3.2h-5.72zM216.88 206.9h2.86v3.2h-2.86zM256.91 206.9h5.72v3.2h-5.72zM174 203.7h5.72v3.2h-5.72zM248.33 203.7h2.86v3.2h-2.86zM242.61 200.5h2.86v3.2h-2.86zM259.76 200.5h2.86v3.2h-2.86zM185.44 197.3h2.86v3.2h-2.86zM191.16 197.3h2.86v3.2h-2.86zM254.05 197.3h2.86v3.2h-2.86zM191.16 190.9h2.86v3.2h-2.86zM262.62 190.9h2.86v3.2h-2.86zM191.16 187.7h2.86v3.2h-2.86zM199.73 187.7h2.86v3.2h-2.86zM231.18 187.7h2.86v3.2h-2.86zM251.19 187.7h2.86v3.2h-2.86zM265.48 187.7h2.86v3.2h-2.86zM196.87 184.5h2.86v3.2h-2.86zM211.17 184.5h2.86v3.2h-2.86zM165.43 181.3h2.86v3.2h-2.86zM236.9 181.3h2.86v3.2h-2.86zM259.76 181.3h2.86v3.2h-2.86zM214.03 178.1h2.86v3.2h-2.86zM259.76 178.1h2.86v3.2h-2.86zM262.62 171.7h2.86v3.2h-2.86zM205.45 168.5h2.86v3.2h-2.86zM234.04 168.5h2.86v3.2h-2.86zM160.57 165.3h4.86v3.2h-4.86zM236.9 165.3h2.86v3.2h-2.86zM242.61 165.3h2.86v3.2h-2.86zM234.04 162.1h2.86v3.2h-2.86zM205.45 158.9h2.86v3.2h-2.86zM248.33 158.9h2.86v3.2h-2.86zM179.72 155.7h2.86v3.2h-2.86zM185.44 155.7h2.86v3.2h-2.86zM191.16 155.7h2.86v3.2h-2.86zM214.03 155.7h5.72v3.2h-5.72zM231.18 155.7h2.86v3.2h-2.86zM254.05 155.7h2.86v3.2h-2.86zM168.29 152.5h2.86v3.2h-2.86zM239.75 152.5h5.72v3.2h-5.72zM171.15 149.3h2.86v3.2h-2.86zM208.31 149.3h2.86v3.2h-2.86zM256.91 149.3h2.86v3.2h-2.86zM228.32 146.1h2.86v3.2h-2.86zM236.9 146.1h2.86v3.2h-2.86zM176.86 142.9h2.86v3.2h-2.86zM208.31 142.9h2.86v3.2h-2.86zM259.76 142.9h2.86v3.2h-2.86zM225.46 137.7h2.86v5.2h-2.86zM242.61 137.7h2.86v5.2h-2.86z"/>
<path fill="#2cb17e" d="M165.43 235.7h2.86v3.2h-2.86zM171.15 235.7h2.86v3.2h-2.86zM194.02 235.7h2.86v3.2h-2.86zM171.15 232.5h2.86v3.2h-2.86zM168.29 226.1h2.86v3.2h-2.86zM174 219.7h5.72v3.2h-5.72zM174 216.5h2.86v3.2h-2.86zM225.46 216.5h2.86v3.2h-2.86zM171.15 213.3h2.86v3.2h-2.86zM248.33 213.3h2.86v3.2h-2.86zM205.45 210.1h2.86v3.2h-2.86zM236.9 210.1h2.86v3.2h-2.86zM262.62 210.1h5.72v3.2h-5.72zM185.44 206.9h2.86v3.2h-2.86zM211.17 206.9h2.86v3.2h-2.86zM165.43 200.5h2.86v3.2h-2.86zM216.88 197.3h2.86v3.2h-2.86zM239.75 197.3h2.86v3.2h-2.86zM208.31 194.1h2.86v3.2h-2.86zM251.19 194.1h2.86v3.2h-2.86zM194.02 190.9h2.86v3.2h-2.86zM208.31 190.9h2.86v3.2h-2.86zM222.6 190.9h2.86v3.2h-2.86zM259.76 190.9h2.86v3.2h-2.86zM171.15 187.7h2.86v3.2h-2.86zM182.58 187.7h2.86v3.2h-2.86zM196.87 187.7h2.86v3.2h-2.86zM208.31 187.7h2.86v3.2h-2.86zM222.6 187.7h2.86v3.2h-2.86zM262.62 187.7h2.86v3.2h-2.86zM202.59 184.5h2.86v3.2h-2.86zM225.46 181.3h2.86v3.2h-2.86zM231.18 181.3h2.86v3.2h-2.86zM211.17 178.1h2.86v3.2h-2.86zM242.61 174.9h2.86v3.2h-2.86zM268.34 174.9h3.43v3.2h-3.43zM185.44 171.7h2.86v3.2h-2.86zM199.73 171.7h2.86v3.2h-2.86zM236.9 171.7h2.86v3.2h-2.86zM248.33 171.7h2.86v3.2h-2.86zM174 168.5h2.86v3.2h-2.86zM179.72 168.5h5.72v3.2h-5.72zM171.15 165.3h2.86v3.2h-2.86zM234.04 165.3h2.86v3.2h-2.86zM245.47 165.3h2.86v3.2h-2.86zM265.48 162.1h2.86v3.2h-2.86zM256.91 158.9h2.86v3.2h-2.86zM171.15 155.7h2.86v3.2h-2.86zM182.58 155.7h2.86v3.2h-2.86zM199.73 155.7h2.86v3.2h-2.86zM179.72 152.5h2.86v3.2h-2.86zM199.73 152.5h2.86v3.2h-2.86zM208.31 152.5h2.86v3.2h-2.86zM254.05 152.5h2.86v3.2h-2.86zM188.3 149.3h2.86v3.2h-2.86zM194.02 149.3h2.86v3.2h-2.86zM160.57 146.1h4.86v3.2h-4.86zM242.61 146.1h2.86v3.2h-2.86zM228.32 137.7h2.86v5.2h-2.86z"/>
<path fill="#2fb47c" d="M205.45 238.9h2.86v5.2h-2.86zM211.17 238.9h2.86v5.2h-2.86zM268.34 238.9h3.43v5.2h-3.43zM168.29 235.7h2.86v3.2h-2.86zM196.87 235.7h2.86v3.2h-2.86zM196.87 226.1h2.86v3.2h-2.86zM205.45 226.1h2.86v3.2h-2.86zM188.3 222.9h2.86v3.2h-2.86zM205.45 222.9h2.86v3.2h-2.86zM191.16 219.7h2.86v3.2h-2.86zM242.61 213.3h2.86v3.2h-2.86zM251.19 213.3h2.86v3.2h-2.86zM259.76 213.3h2.86v3.2h-2.86zM160.57 206.9h4.86v3.2h-4.86zM168.29 206.9h2.86v3.2h-2.86zM191.16 206.9h2.86v3.2h-2.86zM208.31 206.9h2.86v3.2h-2.86zM160.57 203.7h7.72v3.2h-7.72zM168.29 200.5h5.72v3.2h-5.72zM208.31 200.5h2.86v3.2h-2.86zM222.6 200.5h2.86v3.2h-2.86zM262.62 200.5h2.86v3.2h-2.86zM171.15 197.3h2.86v3.2h-2.86zM176.86 197.3h2.86v3.2h-2.86zM208.31 197.3h2.86v3.2h-2.86zM242.61 197.3h2.86v3.2h-2.86zM160.57 194.1h4.86v3.2h-4.86zM179.72 194.1h2.86v3.2h-2.86zM191.16 194.1h2.86v3.2h-2.86zM228.32 194.1h2.86v3.2h-2.86zM245.47 194.1h2.86v3.2h-2.86zM254.05 194.1h2.86v3.2h-2.86zM228.32 190.9h2.86v3.2h-2.86zM168.29 184.5h2.86v3.2h-2.86zM222.6 184.5h2.86v3.2h-2.86zM208.31 181.3h2.86v3.2h-2.86zM239.75 181.3h2.86v3.2h-2.86zM191.16 178.1h2.86v3.2h-2.86zM211.17 174.9h2.86v3.2h-2.86zM222.6 174.9h2.86v3.2h-2.86zM179.72 171.7h2.86v3.2h-2.86zM211.17 171.7h2.86v3.2h-2.86zM219.74 171.7h2.86v3.2h-2.86zM216.88 168.5h2.86v3.2h-2.86zM225.46 168.5h2.86v3.2h-2.86zM254.05 168.5h2.86v3.2h-2.86zM182.58 165.3h2.86v3.2h-2.86zM222.6 165.3h2.86v3.2h-2.86zM214.03 162.1h2.86v3.2h-2.86zM242.61 162.1h2.86v3.2h-2.86zM248.33 162.1h2.86v3.2h-2.86zM182.58 158.9h2.86v3.2h-2.86zM196.87 158.9h2.86v3.2h-2.86zM211.17 158.9h2.86v3.2h-2.86zM216.88 158.9h2.86v3.2h-2.86zM234.04 158.9h2.86v3.2h-2.86zM239.75 158.9h2.86v3.2h-2.86zM245.47 158.9h2.86v3.2h-2.86zM265.48 158.9h6.29v3.2h-6.29zM168.29 155.7h2.86v3.2h-2.86zM228.32 155.7h2.86v3.2h-2.86zM245.47 155.7h2.86v3.2h-2.86zM262.62 155.7h2.86v3.2h-2.86zM160.57 152.5h4.86v3.2h-4.86zM202.59 152.5h2.86v3.2h-2.86zM165.43 149.3h2.86v3.2h-2.86zM219.74 149.3h2.86v3.2h-2.86zM245.47 149.3h2.86v3.2h-2.86zM239.75 146.1h2.86v3.2h-2.86zM251.19 146.1h2.86v3.2h-2.86zM225.46 142.9h2.86v3.2h-2.86zM160.57 137.7h4.86v5.2h-4.86zM219.74 137.7h2.86v5.2h-2.86zM236.9 137.7h2.86v5.2h-2.86zM259.76 137.7h2.86v5.2h-2.86z"/>
<path fill="#32b67a" d="M171.15 238.9h2.86v5.2h-2.86zM231.18 238.9h2.86v5.2h-2.86zM239.75 238.9h2.86v5.2h-2.86zM194.02 232.5h2.86v3.2h-2.86zM194.02 229.3h2.86v3.2h-2.86zM171.15 226.1h2.86v3.2h-2.86zM202.59 226.1h2.86v3.2h-2.86zM185.44 222.9h2.86v3.2h-2.86zM191.16 222.9h2.86v3.2h-2.86zM208.31 222.9h2.86v3.2h-2.86zM176.86 216.5h2.86v3.2h-2.86zM196.87 216.5h2.86v3.2h-2.86zM219.74 213.3h2.86v3.2h-2.86zM214.03 206.9h2.86v3.2h-2.86zM219.74 206.9h2.86v3.2h-2.86zM228.32 206.9h2.86v3.2h-2.86zM222.6 203.7h2.86v3.2h-2.86zM228.32 203.7h2.86v3.2h-2.86zM234.04 203.7h2.86v3.2h-2.86zM182.58 200.5h2.86v3.2h-2.86zM219.74 200.5h2.86v3.2h-2.86zM234.04 200.5h2.86v3.2h-2.86zM165.43 197.3h2.86v3.2h-2.86zM231.18 197.3h2.86v3.2h-2.86zM251.19 197.3h2.86v3.2h-2.86zM205.45 194.1h2.86v3.2h-2.86zM259.76 194.1h5.72v3.2h-5.72zM199.73 190.9h2.86v3.2h-2.86zM265.48 190.9h2.86v3.2h-2.86zM165.43 187.7h2.86v3.2h-2.86zM228.32 187.7h2.86v3.2h-2.86zM248.33 187.7h2.86v3.2h-2.86zM208.31 184.5h2.86v3.2h-2.86zM202.59 181.3h2.86v3.2h-2.86zM256.91 181.3h2.86v3.2h-2.86zM268.34 178.1h3.43v3.2h-3.43zM182.58 174.9h2.86v3.2h-2.86zM219.74 174.9h2.86v3.2h-2.86zM251.19 174.9h2.86v3.2h-2.86zM188.3 171.7h2.86v3.2h-2.86zM239.75 171.7h2.86v3.2h-2.86zM171.15 168.5h2.86v3.2h-2.86zM191.16 168.5h2.86v3.2h-2.86zM202.59 168.5h2.86v3.2h-2.86zM236.9 168.5h2.86v3.2h-2.86zM179.72 165.3h2.86v3.2h-2.86zM239.75 165.3h2.86v3.2h-2.86zM176.86 162.1h2.86v3.2h-2.86zM222.6 162.1h2.86v3.2h-2.86zM239.75 162.1h2.86v3.2h-2.86zM251.19 162.1h2.86v3.2h-2.86zM262.62 158.9h2.86v3.2h-2.86zM188.3 155.7h2.86v3.2h-2.86zM196.87 155.7h2.86v3.2h-2.86zM222.6 155.7h2.86v3.2h-2.86zM251.19 155.7h2.86v3.2h-2.86zM165.43 152.5h2.86v3.2h-2.86zM191.16 152.5h2.86v3.2h-2.86zM225.46 152.5h2.86v3.2h-2.86zM245.47 152.5h2.86v3.2h-2.86zM196.87 149.3h2.86v3.2h-2.86zM265.48 149.3h2.86v3.2h-2.86zM196.87 146.1h2.86v3.2h-2.86zM256.91 146.1h5.72v3.2h-5.72zM248.33 142.9h2.86v3.2h-2.86zM176.86 137.7h2.86v5.2h-2.86zM185.44 137.7h2.86v5.2h-2.86zM234.04 137.7h2.86v5.2h-2.86z"/>
<path fill="#37b878" d="M182.58 226.1h2.86v3.2h-2.86zM208.31 226.1h2.86v3.2h-2.86zM182.58 222.9h2.86v3.2h-2.86zM199.73 222.9h2.86v3.2h-2.86zM182.58 219.7h2.86v3.2h-2.86zM194.02 216.5h2.86v3.2h-2.86zM216.88 216.5h2.86v3.2h-2.86zM248.33 216.5h2.86v3.2h-2.86zM268.34 216.5h3.43v3.2h-3.43zM199.73 213.3h2.86v3.2h-2.86zM222.6 213.3h2.86v3.2h-2.86zM239.75 213.3h2.86v3.2h-2.86zM245.47 213.3h2.86v3.2h-2.86zM196.87 206.9h2.86v3.2h-2.86zM231.18 206.9h2.86v3.2h-2.86zM216.88 203.7h5.72v3.2h-5.72zM251.19 203.7h2.86v3.2h-2.86zM176.86 200.5h2.86v3.2h-2.86zM160.57 197.3h4.86v3.2h-4.86zM262.62 197.3h2.86v3.2h-2.86zM268.34 197.3h3.43v3.2h-3.43zM185.44 194.1h5.72v3.2h-5.72zM242.61 194.1h2.86v3.2h-2.86zM171.15 190.9h2.86v3.2h-2.86zM205.45 190.9h2.86v3.2h-2.86zM214.03 190.9h2.86v3.2h-2.86zM251.19 190.9h2.86v3.2h-2.86zM188.3 187.7h2.86v3.2h-2.86zM259.76 187.7h2.86v3.2h-2.86zM171.15 184.5h2.86v3.2h-2.86zM179.72 184.5h5.72v3.2h-5.72zM202.59 178.1h2.86v3.2h-2.86zM254.05 178.1h2.86v3.2h-2.86zM185.44 174.9h2.86v3.2h-2.86zM256.91 174.9h2.86v3.2h-2.86zM262.62 174.9h2.86v3.2h-2.86zM231.18 168.5h2.86v3.2h-2.86zM165.43 165.3h2.86v3.2h-2.86zM214.03 165.3h2.86v3.2h-2.86zM268.34 165.3h3.43v3.2h-3.43zM168.29 162.1h2.86v3.2h-2.86zM188.3 162.1h2.86v3.2h-2.86zM188.3 158.9h2.86v3.2h-2.86zM199.73 158.9h2.86v3.2h-2.86zM219.74 158.9h2.86v3.2h-2.86zM251.19 158.9h2.86v3.2h-2.86zM259.76 152.5h2.86v3.2h-2.86zM185.44 149.3h2.86v3.2h-2.86zM231.18 149.3h2.86v3.2h-2.86zM219.74 146.1h2.86v3.2h-2.86zM231.18 146.1h2.86v3.2h-2.86zM194.02 142.9h2.86v3.2h-2.86zM222.6 142.9h2.86v3.2h-2.86z"/>
<path fill="#3bbb75" d="M222.6 235.7h2.86v3.2h-2.86zM199.73 226.1h2.86v3.2h-2.86zM196.87 219.7h2.86v3.2h-2.86zM171.15 216.5h2.86v3.2h-2.86zM188.3 213.3h2.86v3.2h-2.86zM208.31 213.3h2.86v3.2h-2.86zM228.32 213.3h2.86v3.2h-2.86zM182.58 210.1h2.86v3.2h-2.86zM199.73 210.1h2.86v3.2h-2.86zM222.6 210.1h2.86v3.2h-2.86zM225.46 206.9h2.86v3.2h-2.86zM196.87 203.7h2.86v3.2h-2.86zM225.46 203.7h2.86v3.2h-2.86zM248.33 200.5h2.86v3.2h-2.86zM168.29 197.3h2.86v3.2h-2.86zM168.29 194.1h5.72v3.2h-5.72zM265.48 194.1h2.86v3.2h-2.86zM211.17 190.9h2.86v3.2h-2.86zM179.72 187.7h2.86v3.2h-2.86zM160.57 184.5h4.86v3.2h-4.86zM185.44 184.5h2.86v3.2h-2.86zM191.16 184.5h2.86v3.2h-2.86zM225.46 184.5h5.72v3.2h-5.72zM262.62 184.5h5.72v3.2h-5.72zM194.02 181.3h2.86v3.2h-2.86zM262.62 181.3h2.86v3.2h-2.86zM222.6 178.1h2.86v3.2h-2.86zM199.73 174.9h5.72v3.2h-5.72zM214.03 174.9h2.86v3.2h-2.86zM234.04 174.9h2.86v3.2h-2.86zM265.48 174.9h2.86v3.2h-2.86zM202.59 171.7h2.86v3.2h-2.86zM216.88 171.7h2.86v3.2h-2.86zM188.3 168.5h2.86v3.2h-2.86zM219.74 168.5h2.86v3.2h-2.86zM268.34 168.5h3.43v3.2h-3.43zM256.91 165.3h2.86v3.2h-2.86zM265.48 165.3h2.86v3.2h-2.86zM256.91 162.1h2.86v3.2h-2.86zM194.02 158.9h2.86v3.2h-2.86zM214.03 158.9h2.86v3.2h-2.86zM259.76 155.7h2.86v3.2h-2.86zM228.32 152.5h5.72v3.2h-5.72zM259.76 149.3h2.86v3.2h-2.86zM176.86 146.1h2.86v3.2h-2.86zM199.73 146.1h2.86v3.2h-2.86zM208.31 146.1h2.86v3.2h-2.86zM168.29 142.9h2.86v3.2h-2.86zM199.73 142.9h2.86v3.2h-2.86zM168.29 137.7h2.86v5.2h-2.86zM239.75 137.7h2.86v5.2h-2.86z"/>
<path fill="#3fbc73" d="M202.59 232.5h2.86v3.2h-2.86zM208.31 232.5h2.86v3.2h-2.86zM171.15 229.3h2.86v3.2h-2.86zM171.15 222.9h2.86v3.2h-2.86zM188.3 216.5h2.86v3.2h-2.86zM214.03 216.5h2.86v3.2h-2.86zM231.18 213.3h2.86v3.2h-2.86zM254.05 213.3h5.72v3.2h-5.72zM196.87 210.1h2.86v3.2h-2.86zM208.31 210.1h2.86v3.2h-2.86zM265.48 206.9h2.86v3.2h-2.86zM196.87 200.5h2.86v3.2h-2.86zM214.03 200.5h2.86v3.2h-2.86zM225.46 200.5h2.86v3.2h-2.86zM265.48 200.5h2.86v3.2h-2.86zM188.3 197.3h2.86v3.2h-2.86zM245.47 197.3h2.86v3.2h-2.86zM265.48 197.3h2.86v3.2h-2.86zM168.29 190.9h2.86v3.2h-2.86zM214.03 187.7h2.86v3.2h-2.86zM188.3 184.5h2.86v3.2h-2.86zM188.3 181.3h2.86v3.2h-2.86zM199.73 181.3h2.86v3.2h-2.86zM222.6 181.3h2.86v3.2h-2.86zM228.32 181.3h2.86v3.2h-2.86zM205.45 178.1h2.86v3.2h-2.86zM262.62 178.1h2.86v3.2h-2.86zM188.3 174.9h2.86v3.2h-2.86zM231.18 174.9h2.86v3.2h-2.86zM214.03 171.7h2.86v3.2h-2.86zM268.34 171.7h3.43v3.2h-3.43zM196.87 168.5h2.86v3.2h-2.86zM214.03 168.5h2.86v3.2h-2.86zM239.75 168.5h2.86v3.2h-2.86zM262.62 168.5h2.86v3.2h-2.86zM219.74 165.3h2.86v3.2h-2.86zM245.47 162.1h2.86v3.2h-2.86zM176.86 155.7h2.86v3.2h-2.86zM196.87 152.5h2.86v3.2h-2.86zM205.45 152.5h2.86v3.2h-2.86zM216.88 152.5h2.86v3.2h-2.86zM176.86 149.3h2.86v3.2h-2.86zM182.58 149.3h2.86v3.2h-2.86zM205.45 149.3h2.86v3.2h-2.86zM182.58 146.1h2.86v3.2h-2.86zM205.45 146.1h2.86v3.2h-2.86zM214.03 146.1h2.86v3.2h-2.86zM265.48 146.1h2.86v3.2h-2.86zM160.57 142.9h4.86v3.2h-4.86zM182.58 142.9h5.72v3.2h-5.72zM214.03 142.9h5.72v3.2h-5.72zM171.15 137.7h2.86v5.2h-2.86zM216.88 137.7h2.86v5.2h-2.86zM256.91 137.7h2.86v5.2h-2.86z"/>
<path fill="#44bf70" d="M208.31 235.7h2.86v3.2h-2.86zM219.74 235.7h2.86v3.2h-2.86zM182.58 232.5h2.86v3.2h-2.86zM208.31 229.3h2.86v3.2h-2.86zM199.73 219.7h2.86v3.2h-2.86zM208.31 219.7h2.86v3.2h-2.86zM199.73 216.5h2.86v3.2h-2.86zM265.48 216.5h2.86v3.2h-2.86zM176.86 213.3h2.86v3.2h-2.86zM194.02 213.3h2.86v3.2h-2.86zM262.62 213.3h2.86v3.2h-2.86zM222.6 206.9h2.86v3.2h-2.86zM182.58 203.7h2.86v3.2h-2.86zM265.48 203.7h2.86v3.2h-2.86zM194.02 197.3h2.86v3.2h-2.86zM205.45 197.3h2.86v3.2h-2.86zM211.17 197.3h2.86v3.2h-2.86zM225.46 197.3h2.86v3.2h-2.86zM234.04 197.3h2.86v3.2h-2.86zM259.76 197.3h2.86v3.2h-2.86zM185.44 190.9h2.86v3.2h-2.86zM242.61 190.9h2.86v3.2h-2.86zM168.29 187.7h2.86v3.2h-2.86zM185.44 187.7h2.86v3.2h-2.86zM196.87 181.3h2.86v3.2h-2.86zM205.45 181.3h2.86v3.2h-2.86zM242.61 181.3h2.86v3.2h-2.86zM188.3 178.1h2.86v3.2h-2.86zM228.32 178.1h5.72v3.2h-5.72zM256.91 178.1h2.86v3.2h-2.86zM239.75 174.9h2.86v3.2h-2.86zM208.31 171.7h2.86v3.2h-2.86zM194.02 168.5h2.86v3.2h-2.86zM188.3 165.3h2.86v3.2h-2.86zM225.46 165.3h2.86v3.2h-2.86zM182.58 162.1h2.86v3.2h-2.86zM219.74 162.1h2.86v3.2h-2.86zM259.76 158.9h2.86v3.2h-2.86zM242.61 155.7h2.86v3.2h-2.86zM265.48 155.7h2.86v3.2h-2.86zM182.58 152.5h2.86v3.2h-2.86zM188.3 152.5h2.86v3.2h-2.86zM265.48 152.5h2.86v3.2h-2.86zM191.16 149.3h2.86v3.2h-2.86zM191.16 146.1h2.86v3.2h-2.86zM236.9 142.9h2.86v3.2h-2.86zM256.91 142.9h2.86v3.2h-2.86zM205.45 137.7h2.86v5.2h-2.86zM211.17 137.7h2.86v5.2h-2.86zM222.6 137.7h2.86v5.2h-2.86z"/>
<path fill="#48c16e" d="M185.44 235.7h2.86v3.2h-2.86zM211.17 235.7h2.86v3.2h-2.86zM225.46 235.7h2.86v3.2h-2.86zM202.59 229.3h2.86v3.2h-2.86zM171.15 219.7h2.86v3.2h-2.86zM236.9 216.5h2.86v3.2h-2.86zM242.61 216.5h2.86v3.2h-2.86zM168.29 210.1h2.86v3.2h-2.86zM211.17 210.1h2.86v3.2h-2.86zM234.04 210.1h2.86v3.2h-2.86zM205.45 206.9h2.86v3.2h-2.86zM234.04 206.9h2.86v3.2h-2.86zM171.15 203.7h2.86v3.2h-2.86zM205.45 203.7h2.86v3.2h-2.86zM239.75 200.5h2.86v3.2h-2.86zM251.19 200.5h2.86v3.2h-2.86zM194.02 194.1h2.86v3.2h-2.86zM179.72 190.9h2.86v3.2h-2.86zM179.72 181.3h2.86v3.2h-2.86zM191.16 181.3h2.86v3.2h-2.86zM265.48 181.3h6.29v3.2h-6.29zM208.31 178.1h2.86v3.2h-2.86zM239.75 178.1h5.72v3.2h-5.72zM216.88 174.9h2.86v3.2h-2.86zM182.58 171.7h2.86v3.2h-2.86zM194.02 171.7h2.86v3.2h-2.86zM176.86 165.3h2.86v3.2h-2.86zM262.62 165.3h2.86v3.2h-2.86zM268.34 162.1h3.43v3.2h-3.43zM168.29 158.9h2.86v3.2h-2.86zM222.6 158.9h2.86v3.2h-2.86zM208.31 155.7h2.86v3.2h-2.86zM225.46 155.7h2.86v3.2h-2.86zM219.74 152.5h2.86v3.2h-2.86zM216.88 149.3h2.86v3.2h-2.86zM228.32 149.3h2.86v3.2h-2.86zM239.75 149.3h2.86v3.2h-2.86zM216.88 146.1h2.86v3.2h-2.86zM199.73 137.7h2.86v5.2h-2.86z"/>
<path fill="#4ec36b" d="M234.04 235.7h2.86v3.2h-2.86zM245.47 235.7h2.86v3.2h-2.86zM211.17 232.5h2.86v3.2h-2.86zM182.58 229.3h2.86v3.2h-2.86zM205.45 229.3h2.86v3.2h-2.86zM185.44 219.7h2.86v3.2h-2.86zM185.44 216.5h2.86v3.2h-2.86zM208.31 216.5h2.86v3.2h-2.86zM251.19 216.5h2.86v3.2h-2.86zM182.58 206.9h2.86v3.2h-2.86zM194.02 200.5h2.86v3.2h-2.86zM205.45 200.5h2.86v3.2h-2.86zM245.47 200.5h2.86v3.2h-2.86zM211.17 194.1h2.86v3.2h-2.86zM205.45 187.7h2.86v3.2h-2.86zM205.45 184.5h2.86v3.2h-2.86zM219.74 181.3h2.86v3.2h-2.86zM168.29 178.1h2.86v3.2h-2.86zM199.73 178.1h2.86v3.2h-2.86zM231.18 171.7h2.86v3.2h-2.86zM259.76 168.5h2.86v3.2h-2.86zM194.02 165.3h2.86v3.2h-2.86zM185.44 152.5h2.86v3.2h-2.86zM205.45 142.9h2.86v3.2h-2.86zM231.18 142.9h2.86v3.2h-2.86zM242.61 142.9h2.86v3.2h-2.86z"/>
<path fill="#52c569" d="M228.32 235.7h2.86v3.2h-2.86zM236.9 235.7h2.86v3.2h-2.86zM231.18 222.9h2.86v3.2h-2.86zM214.03 219.7h2.86v3.2h-2.86zM245.47 216.5h2.86v3.2h-2.86zM254.05 216.5h2.86v3.2h-2.86zM211.17 213.3h2.86v3.2h-2.86zM194.02 203.7h2.86v3.2h-2.86zM214.03 203.7h2.86v3.2h-2.86zM219.74 197.3h2.86v3.2h-2.86zM216.88 194.1h2.86v3.2h-2.86zM219.74 178.1h2.86v3.2h-2.86zM265.48 178.1h2.86v3.2h-2.86zM194.02 174.9h2.86v3.2h-2.86zM196.87 171.7h2.86v3.2h-2.86zM228.32 168.5h2.86v3.2h-2.86zM199.73 162.1h2.86v3.2h-2.86zM259.76 162.1h2.86v3.2h-2.86zM219.74 155.7h2.86v3.2h-2.86zM211.17 152.5h2.86v3.2h-2.86zM211.17 149.3h2.86v3.2h-2.86zM194.02 146.1h2.86v3.2h-2.86zM231.18 137.7h2.86v5.2h-2.86z"/>
<path fill="#58c765" d="M265.48 235.7h2.86v3.2h-2.86zM216.88 229.3h2.86v3.2h-2.86zM211.17 219.7h2.86v3.2h-2.86zM211.17 216.5h2.86v3.2h-2.86zM234.04 213.3h2.86v3.2h-2.86zM216.88 187.7h2.86v3.2h-2.86zM196.87 178.1h2.86v3.2h-2.86zM196.87 174.9h2.86v3.2h-2.86zM211.17 155.7h2.86v3.2h-2.86zM176.86 152.5h2.86v3.2h-2.86zM219.74 142.9h2.86v3.2h-2.86z"/>
<path fill="#5ec962" d="M214.03 235.7h2.86v3.2h-2.86zM254.05 219.7h2.86v3.2h-2.86zM222.6 216.5h2.86v3.2h-2.86zM219.74 184.5h2.86v3.2h-2.86z"/>
<path fill="#63cb5f" d="M205.45 235.7h2.86v3.2h-2.86zM242.61 219.7h2.86v3.2h-2.86zM248.33 219.7h2.86v3.2h-2.86zM228.32 216.5h2.86v3.2h-2.86zM262.62 216.5h2.86v3.2h-2.86zM216.88 190.9h2.86v3.2h-2.86zM208.31 174.9h2.86v3.2h-2.86zM259.76 165.3h2.86v3.2h-2.86zM194.02 162.1h2.86v3.2h-2.86zM211.17 146.1h2.86v3.2h-2.86zM211.17 142.9h2.86v3.2h-2.86z"/>
<path fill="#69cd5b" d="M205.45 232.5h2.86v3.2h-2.86zM225.46 232.5h2.86v3.2h-2.86zM231.18 229.3h2.86v3.2h-2.86zM216.88 226.1h2.86v3.2h-2.86zM245.47 219.7h2.86v3.2h-2.86zM268.34 219.7h3.43v3.2h-3.43z"/>
<path fill="#6ece58" d="M262.62 235.7h2.86v3.2h-2.86zM219.74 232.5h2.86v3.2h-2.86zM211.17 222.9h2.86v3.2h-2.86zM268.34 222.9h3.43v3.2h-3.43zM225.46 219.7h2.86v3.2h-2.86zM231.18 216.5h5.72v3.2h-5.72zM194.02 178.1h2.86v3.2h-2.86z"/>
<path fill="#75d054" d="M268.34 235.7h3.43v3.2h-3.43zM228.32 232.5h2.86v3.2h-2.86zM268.34 232.5h3.43v3.2h-3.43zM248.33 229.3h2.86v3.2h-2.86zM228.32 222.9h2.86v3.2h-2.86zM216.88 219.7h2.86v3.2h-2.86zM219.74 216.5h2.86v3.2h-2.86z"/>
<path fill="#7ad151" d="M216.88 235.7h2.86v3.2h-2.86zM248.33 235.7h2.86v3.2h-2.86zM222.6 232.5h2.86v3.2h-2.86zM265.48 232.5h2.86v3.2h-2.86zM214.03 229.3h2.86v3.2h-2.86zM219.74 219.7h5.72v3.2h-5.72zM231.18 219.7h2.86v3.2h-2.86zM259.76 216.5h2.86v3.2h-2.86z"/>
<path fill="#81d34d" d="M216.88 232.5h2.86v3.2h-2.86zM228.32 226.1h2.86v3.2h-2.86zM228.32 219.7h2.86v3.2h-2.86zM256.91 216.5h2.86v3.2h-2.86z"/>
<path fill="#86d549" d="M256.91 235.7h5.72v3.2h-5.72zM211.17 229.3h2.86v3.2h-2.86zM234.04 219.7h5.72v3.2h-5.72zM239.75 216.5h2.86v3.2h-2.86z"/>
<path fill="#8ed645" d="M239.75 235.7h2.86v3.2h-2.86zM248.33 232.5h2.86v3.2h-2.86zM234.04 222.9h2.86v3.2h-2.86z"/>
<path fill="#95d840" d="M251.19 235.7h2.86v3.2h-2.86zM245.47 232.5h2.86v3.2h-2.86zM259.76 232.5h2.86v3.2h-2.86zM219.74 229.3h5.72v3.2h-5.72zM228.32 229.3h2.86v3.2h-2.86zM268.34 229.3h3.43v3.2h-3.43zM211.17 226.1h2.86v3.2h-2.86zM219.74 222.9h2.86v3.2h-2.86zM236.9 222.9h5.72v3.2h-5.72zM262.62 219.7h2.86v3.2h-2.86z"/>
<path fill="#9bd93c" d="M231.18 235.7h2.86v3.2h-2.86zM254.05 235.7h2.86v3.2h-2.86zM214.03 232.5h2.86v3.2h-2.86zM234.04 232.5h2.86v3.2h-2.86zM225.46 229.3h2.86v3.2h-2.86zM259.76 229.3h2.86v3.2h-2.86zM234.04 226.1h2.86v3.2h-2.86zM216.88 222.9h2.86v3.2h-2.86zM222.6 222.9h5.72v3.2h-5.72zM242.61 222.9h2.86v3.2h-2.86zM239.75 219.7h2.86v3.2h-2.86zM265.48 219.7h2.86v3.2h-2.86z"/>
<path fill="#a2da37" d="M236.9 232.5h2.86v3.2h-2.86zM254.05 222.9h2.86v3.2h-2.86zM256.91 219.7h2.86v3.2h-2.86z"/>
<path fill="#a8db34" d="M242.61 235.7h2.86v3.2h-2.86zM256.91 229.3h2.86v3.2h-2.86zM219.74 226.1h5.72v3.2h-5.72zM268.34 226.1h3.43v3.2h-3.43z"/>
<path fill="#b0dd2f" d="M225.46 226.1h2.86v3.2h-2.86zM248.33 226.1h2.86v3.2h-2.86zM248.33 222.9h2.86v3.2h-2.86zM251.19 219.7h2.86v3.2h-2.86z"/>
<path fill="#b5de2b" d="M239.75 232.5h2.86v3.2h-2.86zM251.19 232.5h2.86v3.2h-2.86zM254.05 229.3h2.86v3.2h-2.86zM236.9 226.1h2.86v3.2h-2.86zM254.05 226.1h2.86v3.2h-2.86z"/>
<path fill="#bddf26" d="M262.62 232.5h2.86v3.2h-2.86zM245.47 229.3h2.86v3.2h-2.86zM245.47 222.9h2.86v3.2h-2.86z"/>
<path fill="#c2df23" d="M251.19 229.3h2.86v3.2h-2.86zM239.75 226.1h2.86v3.2h-2.86zM262.62 222.9h5.72v3.2h-5.72zM259.76 219.7h2.86v3.2h-2.86z"/>
<path fill="#cae11f" d="M262.62 229.3h5.72v3.2h-5.72z"/>
<path fill="#d2e21b" d="M231.18 232.5h2.86v3.2h-2.86zM254.05 232.5h5.72v3.2h-5.72zM234.04 229.3h8.58v3.2h-8.58zM242.61 226.1h5.72v3.2h-5.72z"/>
<path fill="#d8e219" d="M242.61 229.3h2.86v3.2h-2.86zM256.91 222.9h2.86v3.2h-2.86z"/>
<path fill="#dfe318" d="M256.91 226.1h2.86v3.2h-2.86z"/>
<path fill="#e5e419" d="M251.19 226.1h2.86v3.2h-2.86zM259.76 226.1h2.86v3.2h-2.86z"/>
<path fill="#ece51b" d="M262.62 226.1h2.86v3.2h-2.86z"/>
<path fill="#f1e51d" d="M242.61 232.5h2.86v3.2h-2.86z"/>
<path fill="#f8e621" d="M265.48 226.1h2.86v3.2h-2.86zM259.76 222.9h2.86v3.2h-2.86z"/>
<path fill="#fde725" d="M251.19 222.9h2.86v3.2h-2.86z"/>
</g>
<line x1="198.3" y1="242.1" x2="198.3" y2="139.7" stroke="#0000ff" stroke-width="1.5" stroke-dasharray="4.5 1.95"/>
</g>
<rect x="162.57" y="139.7" width="107.2" height="102.4" fill="none" stroke="#222" stroke-width="0.4"/>
<path d="M162.57 242.1v2.3M180.44 242.1v2.3M198.3 242.1v2.3M216.17 242.1v2.3M234.04 242.1v2.3M251.9 242.1v2.3M269.77 242.1v2.3M162.57 242.1h-2.3M162.57 221.62h-2.3M162.57 201.14h-2.3M162.57 180.66h-2.3M162.57 160.18h-2.3M162.57 139.7h-2.3" stroke="#444" stroke-width="0.4" fill="none"/>
<g font-family="'DejaVu Sans', 'Liberation Sans', sans-serif" font-weight="bold" stroke="#000" stroke-width="0.18" font-size="4.8" fill="#000">
<text x="162.57" y="248.5" text-anchor="middle">48</text>
<text x="180.44" y="248.5" text-anchor="middle">49</text>
<text x="198.3" y="248.5" text-anchor="middle">50</text>
<text x="216.17" y="248.5" text-anchor="middle">51</text>
<text x="234.04" y="248.5" text-anchor="middle">52</text>
<text x="251.9" y="248.5" text-anchor="middle">53</text>
<text x="269.77" y="248.5" text-anchor="middle">54</text>
<text x="159.97" y="243.9" text-anchor="end">0</text>
<text x="159.97" y="223.42" text-anchor="end">20</text>
<text x="159.97" y="202.94" text-anchor="end">40</text>
<text x="159.97" y="182.46" text-anchor="end">60</text>
<text x="159.97" y="161.98" text-anchor="end">80</text>
<text x="159.97" y="141.5" text-anchor="end">100</text>
</g>
<text x="216.17" y="137.8" text-anchor="middle" font-size="5.95" font-family="'DejaVu Sans', 'Liberation Sans', sans-serif" font-weight="bold" stroke="#000" stroke-width="0.18">SNRdB=-1, windowsize=64</text>
<text x="216.17" y="256.6" text-anchor="middle" font-size="6.8" font-family="'DejaVu Sans', 'Liberation Sans', sans-serif" font-weight="bold" stroke="#000" stroke-width="0.18">Time</text>
<text transform="translate(146.67 191.75) rotate(-90)" text-anchor="middle" font-size="6.6" font-family="'DejaVu Sans', 'Liberation Sans', sans-serif" font-weight="bold" stroke="#000" stroke-width="0.18">Frequency</text>
<clipPath id="c6"><rect x="299.74" y="139.7" width="107.2" height="102.4"/></clipPath>
<g clip-path="url(#c6)">
<g filter="url(#bl)">
<rect x="297.74" y="137.7" width="111.2" height="106.4" fill="#54c568"/>
<path fill="#3a548c" d="M339.76 240.5h5.72v3.6h-5.72z"/>
<path fill="#365d8d" d="M356.91 240.5h5.72v3.6h-5.72zM391.22 240.5h5.72v3.6h-5.72z"/>
<path fill="#33628d" d="M305.46 240.5h5.72v3.6h-5.72zM334.04 240.5h5.72v3.6h-5.72z"/>
<path fill="#306a8e" d="M351.2 240.5h5.72v3.6h-5.72zM368.35 240.5h11.43v3.6h-11.43zM396.93 240.5h5.72v3.6h-5.72z"/>
<path fill="#2f6c8e" d="M402.65 240.5h6.29v3.6h-6.29z"/>
<path fill="#2d718e" d="M311.17 240.5h17.15v3.6h-17.15z"/>
<path fill="#2c738e" d="M379.78 240.5h5.72v3.6h-5.72z"/>
<path fill="#2b758e" d="M345.48 240.5h5.72v3.6h-5.72z"/>
<path fill="#297a8e" d="M328.33 240.5h5.72v3.6h-5.72zM362.63 240.5h5.72v3.6h-5.72z"/>
<path fill="#27808e" d="M297.74 240.5h7.72v3.6h-7.72z"/>
<path fill="#26828e" d="M385.5 240.5h5.72v3.6h-5.72z"/>
<path fill="#20928c" d="M339.76 238.9h5.72v1.6h-5.72z"/>
<path fill="#1f978b" d="M334.04 218.1h5.72v1.6h-5.72zM334.04 195.7h5.72v1.6h-5.72z"/>
<path fill="#1e9c89" d="M334.04 213.3h5.72v1.6h-5.72z"/>
<path fill="#1fa188" d="M374.07 181.3h5.72v1.6h-5.72z"/>
<path fill="#20a386" d="M379.78 211.7h5.72v1.6h-5.72zM297.74 208.5h7.72v1.6h-7.72zM297.74 168.5h7.72v1.6h-7.72z"/>
<path fill="#21a685" d="M374.07 179.7h5.72v1.6h-5.72zM305.46 173.3h5.72v1.6h-5.72zM297.74 166.9h7.72v1.6h-7.72z"/>
<path fill="#22a884" d="M316.89 224.5h5.72v1.6h-5.72zM334.04 219.7h5.72v1.6h-5.72zM297.74 206.9h7.72v1.6h-7.72zM368.35 174.9h5.72v1.6h-5.72zM345.48 144.5h5.72v1.6h-5.72z"/>
<path fill="#25ab82" d="M391.22 195.7h5.72v1.6h-5.72zM334.04 194.1h5.72v1.6h-5.72zM368.35 173.3h5.72v1.6h-5.72zM322.61 171.7h5.72v1.6h-5.72zM322.61 170.1h5.72v1.6h-5.72zM328.33 137.7h5.72v3.6h-5.72z"/>
<path fill="#26ad81" d="M334.04 211.7h5.72v1.6h-5.72zM345.48 211.7h5.72v1.6h-5.72zM379.78 210.1h5.72v1.6h-5.72zM356.91 192.5h5.72v1.6h-5.72zM311.17 187.7h5.72v1.6h-5.72zM351.2 181.3h5.72v1.6h-5.72zM385.5 170.1h5.72v1.6h-5.72zM328.33 165.3h5.72v1.6h-5.72zM345.48 162.1h5.72v1.6h-5.72zM297.74 157.3h7.72v1.6h-7.72zM311.17 157.3h5.72v1.6h-5.72zM328.33 154.1h5.72v1.6h-5.72zM356.91 147.7h5.72v1.6h-5.72zM379.78 146.1h5.72v1.6h-5.72zM297.74 144.5h7.72v1.6h-7.72z"/>
<path fill="#29af7f" d="M334.04 216.5h5.72v1.6h-5.72zM385.5 200.5h5.72v1.6h-5.72zM334.04 187.7h5.72v1.6h-5.72zM351.2 184.5h5.72v1.6h-5.72zM316.89 182.9h5.72v1.6h-5.72zM328.33 179.7h5.72v1.6h-5.72zM356.91 160.5h5.72v1.6h-5.72zM356.91 158.9h5.72v1.6h-5.72zM345.48 152.5h5.72v1.6h-5.72zM345.48 150.9h5.72v1.6h-5.72zM297.74 149.3h7.72v1.6h-7.72zM345.48 142.9h5.72v1.6h-5.72z"/>
<path fill="#2cb17e" d="M297.74 234.1h7.72v1.6h-7.72zM322.61 222.9h5.72v1.6h-5.72zM362.63 213.3h5.72v1.6h-5.72zM316.89 210.1h5.72v1.6h-5.72zM311.17 208.5h5.72v1.6h-5.72zM322.61 197.3h5.72v1.6h-5.72zM391.22 197.3h5.72v1.6h-5.72zM351.2 182.9h5.72v1.6h-5.72zM297.74 174.9h7.72v1.6h-7.72zM385.5 168.5h5.72v1.6h-5.72zM385.5 166.9h5.72v1.6h-5.72zM328.33 163.7h5.72v1.6h-5.72zM345.48 163.7h5.72v1.6h-5.72zM311.17 158.9h5.72v1.6h-5.72zM356.91 154.1h5.72v1.6h-5.72zM368.35 154.1h5.72v1.6h-5.72zM356.91 149.3h5.72v1.6h-5.72zM328.33 141.3h5.72v1.6h-5.72z"/>
<path fill="#2fb47c" d="M385.5 234.1h5.72v1.6h-5.72zM305.46 227.7h5.72v1.6h-5.72zM322.61 221.3h5.72v1.6h-5.72zM305.46 214.9h5.72v1.6h-5.72zM305.46 211.7h5.72v1.6h-5.72zM391.22 210.1h5.72v1.6h-5.72zM402.65 208.5h6.29v1.6h-6.29zM356.91 194.1h5.72v1.6h-5.72zM345.48 190.9h5.72v1.6h-5.72zM374.07 190.9h5.72v1.6h-5.72zM402.65 189.3h6.29v1.6h-6.29zM402.65 187.7h6.29v1.6h-6.29zM385.5 184.5h5.72v1.6h-5.72zM351.2 179.7h5.72v1.6h-5.72zM334.04 174.9h5.72v1.6h-5.72zM305.46 171.7h5.72v1.6h-5.72zM385.5 171.7h5.72v1.6h-5.72zM396.93 171.7h5.72v1.6h-5.72zM362.63 165.3h5.72v1.6h-5.72zM334.04 155.7h5.72v1.6h-5.72zM316.89 144.5h11.43v1.6h-11.43zM368.35 142.9h5.72v1.6h-5.72zM368.35 141.3h5.72v1.6h-5.72z"/>
<path fill="#32b67a" d="M339.76 237.3h5.72v1.6h-5.72zM316.89 226.1h5.72v1.6h-5.72zM351.2 219.7h5.72v1.6h-5.72zM356.91 214.9h5.72v1.6h-5.72zM402.65 213.3h6.29v1.6h-6.29zM305.46 210.1h11.43v1.6h-11.43zM297.74 203.7h7.72v1.6h-7.72zM316.89 203.7h5.72v1.6h-5.72zM362.63 198.9h5.72v1.6h-5.72zM374.07 197.3h5.72v1.6h-5.72zM322.61 195.7h5.72v1.6h-5.72zM328.33 194.1h5.72v1.6h-5.72zM362.63 192.5h5.72v1.6h-5.72zM385.5 189.3h5.72v1.6h-5.72zM322.61 186.1h5.72v1.6h-5.72zM385.5 179.7h11.43v1.6h-11.43zM339.76 174.9h5.72v1.6h-5.72zM334.04 173.3h5.72v1.6h-5.72zM362.63 173.3h5.72v1.6h-5.72zM334.04 171.7h5.72v1.6h-5.72zM334.04 170.1h5.72v1.6h-5.72zM334.04 168.5h5.72v1.6h-5.72zM316.89 162.1h5.72v1.6h-5.72zM316.89 160.5h5.72v1.6h-5.72zM374.07 160.5h5.72v1.6h-5.72zM297.74 142.9h7.72v1.6h-7.72zM351.2 142.9h5.72v1.6h-5.72z"/>
<path fill="#37b878" d="M322.61 237.3h5.72v1.6h-5.72zM305.46 234.1h5.72v1.6h-5.72zM305.46 229.3h5.72v1.6h-5.72zM316.89 222.9h5.72v1.6h-5.72zM339.76 218.1h5.72v1.6h-5.72zM297.74 216.5h7.72v1.6h-7.72zM362.63 214.9h5.72v1.6h-5.72zM402.65 214.9h6.29v1.6h-6.29zM305.46 213.3h5.72v1.6h-5.72zM328.33 213.3h5.72v1.6h-5.72zM391.22 213.3h5.72v1.6h-5.72zM316.89 211.7h5.72v1.6h-5.72zM362.63 211.7h5.72v1.6h-5.72zM402.65 210.1h6.29v1.6h-6.29zM334.04 200.5h5.72v1.6h-5.72zM297.74 197.3h7.72v1.6h-7.72zM374.07 192.5h5.72v1.6h-5.72zM362.63 190.9h5.72v1.6h-5.72zM334.04 189.3h5.72v1.6h-5.72zM297.74 187.7h7.72v1.6h-7.72zM385.5 187.7h5.72v1.6h-5.72zM334.04 186.1h5.72v1.6h-5.72zM305.46 184.5h5.72v1.6h-5.72zM322.61 184.5h5.72v1.6h-5.72zM305.46 182.9h11.43v1.6h-11.43zM322.61 181.3h5.72v1.6h-5.72zM356.91 170.1h5.72v1.6h-5.72zM311.17 166.9h5.72v1.6h-5.72zM316.89 163.7h5.72v1.6h-5.72zM297.74 155.7h7.72v1.6h-7.72zM328.33 155.7h5.72v1.6h-5.72zM368.35 155.7h5.72v1.6h-5.72zM396.93 155.7h5.72v1.6h-5.72zM356.91 152.5h5.72v1.6h-5.72zM368.35 152.5h5.72v1.6h-5.72zM305.46 149.3h5.72v1.6h-5.72zM297.74 147.7h7.72v1.6h-7.72zM379.78 144.5h5.72v1.6h-5.72zM334.04 141.3h5.72v1.6h-5.72zM305.46 137.7h5.72v3.6h-5.72zM322.61 137.7h5.72v3.6h-5.72z"/>
<path fill="#3bbb75" d="M297.74 237.3h7.72v1.6h-7.72zM316.89 237.3h5.72v1.6h-5.72zM356.91 237.3h5.72v1.6h-5.72zM297.74 235.7h7.72v1.6h-7.72zM311.17 235.7h5.72v1.6h-5.72zM339.76 216.5h5.72v1.6h-5.72zM297.74 214.9h7.72v1.6h-7.72zM334.04 214.9h5.72v1.6h-5.72zM322.61 213.3h5.72v1.6h-5.72zM391.22 211.7h5.72v1.6h-5.72zM391.22 208.5h5.72v1.6h-5.72zM322.61 202.1h5.72v1.6h-5.72zM322.61 200.5h5.72v1.6h-5.72zM339.76 198.9h5.72v1.6h-5.72zM402.65 198.9h6.29v1.6h-6.29zM305.46 197.3h5.72v1.6h-5.72zM334.04 197.3h5.72v1.6h-5.72zM305.46 195.7h5.72v1.6h-5.72zM385.5 194.1h5.72v1.6h-5.72zM339.76 192.5h5.72v1.6h-5.72zM345.48 189.3h5.72v1.6h-5.72zM328.33 184.5h5.72v1.6h-5.72zM391.22 184.5h5.72v1.6h-5.72zM402.65 182.9h6.29v1.6h-6.29zM328.33 178.1h5.72v1.6h-5.72zM368.35 178.1h5.72v1.6h-5.72zM334.04 176.5h5.72v1.6h-5.72zM362.63 174.9h5.72v1.6h-5.72zM297.74 173.3h7.72v1.6h-7.72zM311.17 173.3h5.72v1.6h-5.72zM351.2 170.1h5.72v1.6h-5.72zM305.46 163.7h5.72v1.6h-5.72zM379.78 163.7h5.72v1.6h-5.72zM362.63 160.5h5.72v1.6h-5.72zM385.5 160.5h5.72v1.6h-5.72zM316.89 158.9h5.72v1.6h-5.72zM374.07 158.9h5.72v1.6h-5.72zM391.22 155.7h5.72v1.6h-5.72zM396.93 154.1h5.72v1.6h-5.72zM328.33 152.5h5.72v1.6h-5.72zM305.46 150.9h5.72v1.6h-5.72zM305.46 147.7h5.72v1.6h-5.72zM356.91 146.1h5.72v1.6h-5.72zM368.35 146.1h5.72v1.6h-5.72zM385.5 144.5h5.72v1.6h-5.72zM322.61 141.3h5.72v1.6h-5.72zM345.48 141.3h5.72v1.6h-5.72zM374.07 137.7h5.72v3.6h-5.72z"/>
<path fill="#3fbc73" d="M297.74 238.9h7.72v1.6h-7.72zM311.17 238.9h11.43v1.6h-11.43zM305.46 235.7h5.72v1.6h-5.72zM339.76 234.1h5.72v1.6h-5.72zM322.61 232.5h5.72v1.6h-5.72zM305.46 226.1h5.72v1.6h-5.72zM356.91 226.1h5.72v1.6h-5.72zM356.91 224.5h5.72v1.6h-5.72zM311.17 222.9h5.72v1.6h-5.72zM316.89 221.3h5.72v1.6h-5.72zM334.04 221.3h5.72v1.6h-5.72zM345.48 216.5h5.72v1.6h-5.72zM316.89 214.9h11.43v1.6h-11.43zM345.48 213.3h5.72v1.6h-5.72zM328.33 211.7h5.72v1.6h-5.72zM374.07 210.1h5.72v1.6h-5.72zM396.93 210.1h5.72v1.6h-5.72zM385.5 206.9h5.72v1.6h-5.72zM316.89 205.3h5.72v1.6h-5.72zM311.17 203.7h5.72v1.6h-5.72zM391.22 202.1h5.72v1.6h-5.72zM305.46 198.9h5.72v1.6h-5.72zM374.07 198.9h5.72v1.6h-5.72zM402.65 197.3h6.29v1.6h-6.29zM339.76 194.1h5.72v1.6h-5.72zM297.74 192.5h7.72v1.6h-7.72zM311.17 189.3h5.72v1.6h-5.72zM374.07 189.3h5.72v1.6h-5.72zM379.78 187.7h5.72v1.6h-5.72zM311.17 186.1h5.72v1.6h-5.72zM297.74 182.9h7.72v1.6h-7.72zM334.04 182.9h5.72v1.6h-5.72zM316.89 181.3h5.72v1.6h-5.72zM362.63 179.7h5.72v1.6h-5.72zM297.74 176.5h7.72v1.6h-7.72zM351.2 176.5h5.72v1.6h-5.72zM396.93 173.3h5.72v1.6h-5.72zM311.17 171.7h5.72v1.6h-5.72zM362.63 171.7h5.72v1.6h-5.72zM379.78 168.5h5.72v1.6h-5.72zM402.65 165.3h6.29v1.6h-6.29zM356.91 162.1h11.43v1.6h-11.43zM339.76 160.5h5.72v1.6h-5.72zM316.89 157.3h5.72v1.6h-5.72zM402.65 157.3h6.29v1.6h-6.29zM391.22 150.9h5.72v1.6h-5.72zM391.22 149.3h5.72v1.6h-5.72zM328.33 147.7h11.43v1.6h-11.43zM362.63 147.7h5.72v1.6h-5.72zM322.61 146.1h11.43v1.6h-11.43zM345.48 146.1h5.72v1.6h-5.72zM396.93 146.1h12.01v1.6h-12.01zM322.61 142.9h5.72v1.6h-5.72zM334.04 142.9h5.72v1.6h-5.72zM385.5 141.3h5.72v1.6h-5.72zM391.22 137.7h5.72v3.6h-5.72z"/>
<path fill="#44bf70" d="M334.04 238.9h5.72v1.6h-5.72zM356.91 238.9h5.72v1.6h-5.72zM339.76 235.7h5.72v1.6h-5.72zM297.74 232.5h7.72v1.6h-7.72zM305.46 222.9h5.72v1.6h-5.72zM328.33 222.9h5.72v1.6h-5.72zM351.2 221.3h5.72v1.6h-5.72zM316.89 219.7h5.72v1.6h-5.72zM374.07 211.7h5.72v1.6h-5.72zM379.78 206.9h5.72v1.6h-5.72zM328.33 205.3h5.72v1.6h-5.72zM356.91 205.3h5.72v1.6h-5.72zM374.07 205.3h5.72v1.6h-5.72zM356.91 203.7h5.72v1.6h-5.72zM316.89 202.1h5.72v1.6h-5.72zM305.46 200.5h5.72v1.6h-5.72zM328.33 200.5h5.72v1.6h-5.72zM368.35 200.5h5.72v1.6h-5.72zM322.61 198.9h5.72v1.6h-5.72zM385.5 198.9h5.72v1.6h-5.72zM374.07 195.7h5.72v1.6h-5.72zM322.61 194.1h5.72v1.6h-5.72zM345.48 192.5h5.72v1.6h-5.72zM396.93 192.5h5.72v1.6h-5.72zM316.89 184.5h5.72v1.6h-5.72zM334.04 184.5h5.72v1.6h-5.72zM402.65 184.5h6.29v1.6h-6.29zM362.63 181.3h5.72v1.6h-5.72zM391.22 181.3h5.72v1.6h-5.72zM311.17 178.1h5.72v1.6h-5.72zM385.5 178.1h5.72v1.6h-5.72zM391.22 176.5h5.72v1.6h-5.72zM351.2 174.9h5.72v1.6h-5.72zM391.22 174.9h5.72v1.6h-5.72zM339.76 173.3h5.72v1.6h-5.72zM402.65 171.7h6.29v1.6h-6.29zM379.78 170.1h5.72v1.6h-5.72zM356.91 165.3h5.72v1.6h-5.72zM334.04 163.7h5.72v1.6h-5.72zM339.76 162.1h5.72v1.6h-5.72zM351.2 160.5h5.72v1.6h-5.72zM297.74 158.9h7.72v1.6h-7.72zM322.61 157.3h5.72v1.6h-5.72zM368.35 157.3h5.72v1.6h-5.72zM305.46 155.7h5.72v1.6h-5.72zM334.04 154.1h5.72v1.6h-5.72zM391.22 154.1h5.72v1.6h-5.72zM297.74 152.5h7.72v1.6h-7.72zM297.74 150.9h7.72v1.6h-7.72zM322.61 150.9h5.72v1.6h-5.72zM351.2 147.7h5.72v1.6h-5.72zM316.89 146.1h5.72v1.6h-5.72zM368.35 144.5h5.72v1.6h-5.72zM396.93 144.5h12.01v1.6h-12.01zM316.89 142.9h5.72v1.6h-5.72zM385.5 142.9h5.72v1.6h-5.72zM316.89 141.3h5.72v1.6h-5.72zM374.07 141.3h5.72v1.6h-5.72zM316.89 137.7h5.72v3.6h-5.72zM334.04 137.7h5.72v3.6h-5.72zM356.91 137.7h5.72v3.6h-5.72z"/>
<path fill="#48c16e" d="M311.17 237.3h5.72v1.6h-5.72zM316.89 235.7h5.72v1.6h-5.72zM328.33 235.7h5.72v1.6h-5.72zM356.91 235.7h5.72v1.6h-5.72zM316.89 234.1h5.72v1.6h-5.72zM311.17 226.1h5.72v1.6h-5.72zM322.61 226.1h5.72v1.6h-5.72zM305.46 224.5h5.72v1.6h-5.72zM297.74 222.9h7.72v1.6h-7.72zM305.46 221.3h11.43v1.6h-11.43zM322.61 218.1h5.72v1.6h-5.72zM305.46 216.5h5.72v1.6h-5.72zM322.61 216.5h5.72v1.6h-5.72zM351.2 214.9h5.72v1.6h-5.72zM356.91 213.3h5.72v1.6h-5.72zM334.04 208.5h5.72v1.6h-5.72zM374.07 208.5h5.72v1.6h-5.72zM396.93 208.5h5.72v1.6h-5.72zM328.33 206.9h5.72v1.6h-5.72zM297.74 205.3h7.72v1.6h-7.72zM385.5 205.3h5.72v1.6h-5.72zM297.74 202.1h7.72v1.6h-7.72zM368.35 202.1h5.72v1.6h-5.72zM339.76 200.5h5.72v1.6h-5.72zM362.63 200.5h5.72v1.6h-5.72zM391.22 200.5h5.72v1.6h-5.72zM334.04 198.9h5.72v1.6h-5.72zM316.89 197.3h5.72v1.6h-5.72zM328.33 195.7h5.72v1.6h-5.72zM305.46 194.1h5.72v1.6h-5.72zM374.07 194.1h5.72v1.6h-5.72zM334.04 192.5h5.72v1.6h-5.72zM368.35 192.5h5.72v1.6h-5.72zM334.04 190.9h5.72v1.6h-5.72zM368.35 190.9h5.72v1.6h-5.72zM316.89 189.3h5.72v1.6h-5.72zM379.78 186.1h11.43v1.6h-11.43zM345.48 182.9h5.72v1.6h-5.72zM368.35 182.9h5.72v1.6h-5.72zM297.74 181.3h19.15v1.6h-19.15zM345.48 181.3h5.72v1.6h-5.72zM362.63 176.5h11.43v1.6h-11.43zM311.17 174.9h5.72v1.6h-5.72zM322.61 173.3h5.72v1.6h-5.72zM379.78 173.3h5.72v1.6h-5.72zM297.74 171.7h7.72v1.6h-7.72zM297.74 170.1h7.72v1.6h-7.72zM311.17 170.1h5.72v1.6h-5.72zM311.17 168.5h5.72v1.6h-5.72zM322.61 166.9h5.72v1.6h-5.72zM362.63 166.9h5.72v1.6h-5.72zM379.78 166.9h5.72v1.6h-5.72zM362.63 163.7h5.72v1.6h-5.72zM305.46 162.1h5.72v1.6h-5.72zM379.78 162.1h5.72v1.6h-5.72zM305.46 158.9h5.72v1.6h-5.72zM322.61 158.9h5.72v1.6h-5.72zM362.63 158.9h5.72v1.6h-5.72zM356.91 157.3h5.72v1.6h-5.72zM316.89 155.7h5.72v1.6h-5.72zM297.74 154.1h7.72v1.6h-7.72zM305.46 152.5h5.72v1.6h-5.72zM316.89 152.5h5.72v1.6h-5.72zM322.61 149.3h5.72v1.6h-5.72zM385.5 149.3h5.72v1.6h-5.72zM368.35 147.7h5.72v1.6h-5.72zM379.78 147.7h5.72v1.6h-5.72zM402.65 147.7h6.29v1.6h-6.29zM334.04 146.1h5.72v1.6h-5.72zM362.63 144.5h5.72v1.6h-5.72zM339.76 142.9h5.72v1.6h-5.72zM402.65 142.9h6.29v1.6h-6.29zM297.74 141.3h7.72v1.6h-7.72zM339.76 141.3h5.72v1.6h-5.72zM311.17 137.7h5.72v3.6h-5.72zM339.76 137.7h5.72v3.6h-5.72zM368.35 137.7h5.72v3.6h-5.72z"/>
<path fill="#4ec36b" d="M322.61 238.9h5.72v1.6h-5.72zM322.61 235.7h5.72v1.6h-5.72zM311.17 229.3h11.43v1.6h-11.43zM328.33 229.3h5.72v1.6h-5.72zM297.74 227.7h7.72v1.6h-7.72zM311.17 227.7h11.43v1.6h-11.43zM297.74 226.1h7.72v1.6h-7.72zM322.61 224.5h5.72v1.6h-5.72zM328.33 221.3h5.72v1.6h-5.72zM339.76 219.7h5.72v1.6h-5.72zM316.89 216.5h5.72v1.6h-5.72zM328.33 214.9h5.72v1.6h-5.72zM368.35 214.9h5.72v1.6h-5.72zM297.74 210.1h7.72v1.6h-7.72zM334.04 210.1h11.43v1.6h-11.43zM305.46 208.5h5.72v1.6h-5.72zM328.33 208.5h5.72v1.6h-5.72zM379.78 208.5h5.72v1.6h-5.72zM305.46 206.9h11.43v1.6h-11.43zM351.2 205.3h5.72v1.6h-5.72zM396.93 205.3h5.72v1.6h-5.72zM345.48 203.7h5.72v1.6h-5.72zM368.35 203.7h5.72v1.6h-5.72zM396.93 203.7h5.72v1.6h-5.72zM305.46 202.1h11.43v1.6h-11.43zM328.33 202.1h5.72v1.6h-5.72zM356.91 198.9h5.72v1.6h-5.72zM396.93 198.9h5.72v1.6h-5.72zM316.89 195.7h5.72v1.6h-5.72zM368.35 195.7h5.72v1.6h-5.72zM297.74 194.1h7.72v1.6h-7.72zM316.89 194.1h5.72v1.6h-5.72zM316.89 192.5h11.43v1.6h-11.43zM385.5 192.5h5.72v1.6h-5.72zM316.89 190.9h5.72v1.6h-5.72zM356.91 190.9h5.72v1.6h-5.72zM362.63 189.3h5.72v1.6h-5.72zM391.22 189.3h5.72v1.6h-5.72zM316.89 187.7h5.72v1.6h-5.72zM305.46 186.1h5.72v1.6h-5.72zM391.22 186.1h5.72v1.6h-5.72zM322.61 182.9h5.72v1.6h-5.72zM322.61 179.7h5.72v1.6h-5.72zM334.04 178.1h5.72v1.6h-5.72zM351.2 178.1h5.72v1.6h-5.72zM316.89 173.3h5.72v1.6h-5.72zM316.89 171.7h5.72v1.6h-5.72zM356.91 171.7h5.72v1.6h-5.72zM374.07 171.7h5.72v1.6h-5.72zM391.22 171.7h5.72v1.6h-5.72zM316.89 170.1h5.72v1.6h-5.72zM374.07 170.1h5.72v1.6h-5.72zM391.22 170.1h11.43v1.6h-11.43zM316.89 168.5h5.72v1.6h-5.72zM328.33 166.9h5.72v1.6h-5.72zM374.07 166.9h5.72v1.6h-5.72zM402.65 166.9h6.29v1.6h-6.29zM297.74 165.3h7.72v1.6h-7.72zM316.89 165.3h11.43v1.6h-11.43zM379.78 165.3h5.72v1.6h-5.72zM356.91 163.7h5.72v1.6h-5.72zM334.04 162.1h5.72v1.6h-5.72zM385.5 162.1h5.72v1.6h-5.72zM305.46 160.5h5.72v1.6h-5.72zM339.76 158.9h5.72v1.6h-5.72zM351.2 158.9h5.72v1.6h-5.72zM368.35 158.9h5.72v1.6h-5.72zM402.65 158.9h6.29v1.6h-6.29zM334.04 157.3h5.72v1.6h-5.72zM345.48 157.3h5.72v1.6h-5.72zM305.46 154.1h5.72v1.6h-5.72zM316.89 154.1h5.72v1.6h-5.72zM362.63 152.5h5.72v1.6h-5.72zM368.35 150.9h11.43v1.6h-11.43zM339.76 149.3h11.43v1.6h-11.43zM297.74 146.1h7.72v1.6h-7.72zM351.2 146.1h5.72v1.6h-5.72zM339.76 144.5h5.72v1.6h-5.72zM356.91 144.5h5.72v1.6h-5.72zM356.91 142.9h11.43v1.6h-11.43zM356.91 141.3h5.72v1.6h-5.72zM402.65 141.3h6.29v1.6h-6.29zM362.63 137.7h5.72v3.6h-5.72zM385.5 137.7h5.72v3.6h-5.72zM402.65 137.7h6.29v3.6h-6.29z"/>
<path fill="#52c569" d="M351.2 238.9h5.72v1.6h-5.72zM328.33 237.3h5.72v1.6h-5.72zM368.35 235.7h5.72v1.6h-5.72zM328.33 234.1h11.43v1.6h-11.43zM305.46 232.5h5.72v1.6h-5.72zM311.17 230.9h5.72v1.6h-5.72zM322.61 230.9h5.72v1.6h-5.72zM334.04 227.7h5.72v1.6h-5.72zM297.74 221.3h7.72v1.6h-7.72zM297.74 218.1h7.72v1.6h-7.72zM362.63 216.5h5.72v1.6h-5.72zM311.17 214.9h5.72v1.6h-5.72zM311.17 213.3h11.43v1.6h-11.43zM368.35 213.3h5.72v1.6h-5.72zM379.78 213.3h5.72v1.6h-5.72zM311.17 211.7h5.72v1.6h-5.72zM396.93 211.7h5.72v1.6h-5.72zM328.33 210.1h5.72v1.6h-5.72zM351.2 210.1h5.72v1.6h-5.72zM362.63 210.1h11.43v1.6h-11.43zM322.61 208.5h5.72v1.6h-5.72zM339.76 208.5h5.72v1.6h-5.72zM351.2 206.9h5.72v1.6h-5.72zM402.65 206.9h6.29v1.6h-6.29zM311.17 205.3h5.72v1.6h-5.72zM322.61 205.3h5.72v1.6h-5.72zM374.07 203.7h5.72v1.6h-5.72zM402.65 203.7h6.29v1.6h-6.29zM385.5 202.1h5.72v1.6h-5.72zM316.89 200.5h5.72v1.6h-5.72zM402.65 200.5h6.29v1.6h-6.29zM297.74 198.9h7.72v1.6h-7.72zM316.89 198.9h5.72v1.6h-5.72zM368.35 198.9h5.72v1.6h-5.72zM339.76 197.3h5.72v1.6h-5.72zM345.48 195.7h5.72v1.6h-5.72zM402.65 195.7h6.29v1.6h-6.29zM311.17 190.9h5.72v1.6h-5.72zM297.74 189.3h13.43v1.6h-13.43zM305.46 187.7h5.72v1.6h-5.72zM339.76 187.7h5.72v1.6h-5.72zM374.07 187.7h5.72v1.6h-5.72zM391.22 187.7h5.72v1.6h-5.72zM328.33 186.1h5.72v1.6h-5.72zM351.2 186.1h5.72v1.6h-5.72zM339.76 184.5h11.43v1.6h-11.43zM368.35 184.5h5.72v1.6h-5.72zM374.07 182.9h5.72v1.6h-5.72zM328.33 181.3h5.72v1.6h-5.72zM396.93 181.3h5.72v1.6h-5.72zM297.74 179.7h13.43v1.6h-13.43zM339.76 178.1h5.72v1.6h-5.72zM311.17 176.5h5.72v1.6h-5.72zM322.61 176.5h5.72v1.6h-5.72zM305.46 174.9h5.72v1.6h-5.72zM316.89 174.9h5.72v1.6h-5.72zM328.33 174.9h5.72v1.6h-5.72zM374.07 174.9h5.72v1.6h-5.72zM385.5 174.9h5.72v1.6h-5.72zM385.5 173.3h11.43v1.6h-11.43zM402.65 173.3h6.29v1.6h-6.29zM328.33 170.1h5.72v1.6h-5.72zM305.46 168.5h5.72v1.6h-5.72zM322.61 168.5h5.72v1.6h-5.72zM351.2 168.5h5.72v1.6h-5.72zM334.04 166.9h5.72v1.6h-5.72zM356.91 166.9h5.72v1.6h-5.72zM345.48 165.3h5.72v1.6h-5.72zM374.07 165.3h5.72v1.6h-5.72zM385.5 165.3h5.72v1.6h-5.72zM339.76 163.7h5.72v1.6h-5.72zM368.35 163.7h5.72v1.6h-5.72zM391.22 163.7h5.72v1.6h-5.72zM402.65 163.7h6.29v1.6h-6.29zM328.33 162.1h5.72v1.6h-5.72zM328.33 158.9h5.72v1.6h-5.72zM374.07 157.3h11.43v1.6h-11.43zM351.2 155.7h5.72v1.6h-5.72zM402.65 155.7h6.29v1.6h-6.29zM356.91 150.9h5.72v1.6h-5.72zM396.93 150.9h5.72v1.6h-5.72zM374.07 149.3h5.72v1.6h-5.72zM402.65 149.3h6.29v1.6h-6.29zM385.5 147.7h5.72v1.6h-5.72zM305.46 146.1h11.43v1.6h-11.43zM385.5 146.1h5.72v1.6h-5.72zM305.46 144.5h5.72v1.6h-5.72zM351.2 144.5h5.72v1.6h-5.72zM374.07 142.9h11.43v1.6h-11.43zM311.17 141.3h5.72v1.6h-5.72zM391.22 141.3h5.72v1.6h-5.72zM345.48 137.7h5.72v3.6h-5.72zM396.93 137.7h5.72v3.6h-5.72z"/>
<path fill="#58c765" d="M322.61 234.1h5.72v1.6h-5.72zM316.89 232.5h5.72v1.6h-5.72zM328.33 232.5h5.72v1.6h-5.72zM391.22 229.3h5.72v1.6h-5.72zM322.61 227.7h11.43v1.6h-11.43zM334.04 226.1h5.72v1.6h-5.72zM345.48 226.1h5.72v1.6h-5.72zM311.17 224.5h5.72v1.6h-5.72zM368.35 216.5h5.72v1.6h-5.72zM396.93 213.3h5.72v1.6h-5.72zM339.76 211.7h5.72v1.6h-5.72zM368.35 211.7h5.72v1.6h-5.72zM322.61 210.1h5.72v1.6h-5.72zM385.5 210.1h5.72v1.6h-5.72zM322.61 206.9h5.72v1.6h-5.72zM334.04 206.9h5.72v1.6h-5.72zM356.91 206.9h5.72v1.6h-5.72zM305.46 205.3h5.72v1.6h-5.72zM328.33 203.7h5.72v1.6h-5.72zM402.65 202.1h6.29v1.6h-6.29zM362.63 197.3h5.72v1.6h-5.72zM396.93 197.3h5.72v1.6h-5.72zM297.74 195.7h7.72v1.6h-7.72zM345.48 194.1h5.72v1.6h-5.72zM362.63 194.1h5.72v1.6h-5.72zM328.33 192.5h5.72v1.6h-5.72zM391.22 190.9h5.72v1.6h-5.72zM402.65 190.9h6.29v1.6h-6.29zM356.91 187.7h17.15v1.6h-17.15zM297.74 186.1h7.72v1.6h-7.72zM368.35 186.1h5.72v1.6h-5.72zM396.93 186.1h12.01v1.6h-12.01zM297.74 184.5h7.72v1.6h-7.72zM328.33 182.9h5.72v1.6h-5.72zM385.5 181.3h5.72v1.6h-5.72zM356.91 179.7h5.72v1.6h-5.72zM402.65 179.7h6.29v1.6h-6.29zM297.74 178.1h7.72v1.6h-7.72zM322.61 178.1h5.72v1.6h-5.72zM345.48 178.1h5.72v1.6h-5.72zM356.91 178.1h5.72v1.6h-5.72zM374.07 178.1h5.72v1.6h-5.72zM391.22 178.1h5.72v1.6h-5.72zM402.65 178.1h6.29v1.6h-6.29zM316.89 176.5h5.72v1.6h-5.72zM339.76 176.5h11.43v1.6h-11.43zM374.07 176.5h5.72v1.6h-5.72zM396.93 176.5h5.72v1.6h-5.72zM322.61 174.9h5.72v1.6h-5.72zM374.07 173.3h5.72v1.6h-5.72zM379.78 171.7h5.72v1.6h-5.72zM402.65 170.1h6.29v1.6h-6.29zM328.33 168.5h5.72v1.6h-5.72zM356.91 168.5h5.72v1.6h-5.72zM305.46 166.9h5.72v1.6h-5.72zM316.89 166.9h5.72v1.6h-5.72zM305.46 165.3h11.43v1.6h-11.43zM334.04 165.3h5.72v1.6h-5.72zM391.22 165.3h5.72v1.6h-5.72zM374.07 163.7h5.72v1.6h-5.72zM322.61 162.1h5.72v1.6h-5.72zM351.2 162.1h5.72v1.6h-5.72zM374.07 162.1h5.72v1.6h-5.72zM328.33 160.5h5.72v1.6h-5.72zM334.04 158.9h5.72v1.6h-5.72zM345.48 158.9h5.72v1.6h-5.72zM396.93 158.9h5.72v1.6h-5.72zM305.46 157.3h5.72v1.6h-5.72zM328.33 157.3h5.72v1.6h-5.72zM351.2 157.3h5.72v1.6h-5.72zM362.63 157.3h5.72v1.6h-5.72zM391.22 157.3h5.72v1.6h-5.72zM311.17 155.7h5.72v1.6h-5.72zM345.48 155.7h5.72v1.6h-5.72zM356.91 155.7h5.72v1.6h-5.72zM379.78 155.7h5.72v1.6h-5.72zM345.48 154.1h5.72v1.6h-5.72zM385.5 152.5h17.15v1.6h-17.15zM339.76 150.9h5.72v1.6h-5.72zM385.5 150.9h5.72v1.6h-5.72zM362.63 149.3h11.43v1.6h-11.43zM362.63 146.1h5.72v1.6h-5.72zM305.46 142.9h5.72v1.6h-5.72zM351.2 141.3h5.72v1.6h-5.72zM379.78 141.3h5.72v1.6h-5.72zM297.74 137.7h7.72v3.6h-7.72zM379.78 137.7h5.72v3.6h-5.72z"/>
<path fill="#5ec962" d="M305.46 237.3h5.72v1.6h-5.72zM334.04 235.7h5.72v1.6h-5.72zM311.17 234.1h5.72v1.6h-5.72zM334.04 232.5h5.72v1.6h-5.72zM297.74 230.9h7.72v1.6h-7.72zM328.33 230.9h5.72v1.6h-5.72zM297.74 229.3h7.72v1.6h-7.72zM339.76 224.5h5.72v1.6h-5.72zM339.76 221.3h5.72v1.6h-5.72zM297.74 211.7h7.72v1.6h-7.72zM351.2 211.7h5.72v1.6h-5.72zM385.5 211.7h5.72v1.6h-5.72zM402.65 211.7h6.29v1.6h-6.29zM345.48 210.1h5.72v1.6h-5.72zM374.07 206.9h5.72v1.6h-5.72zM379.78 205.3h5.72v1.6h-5.72zM391.22 205.3h5.72v1.6h-5.72zM322.61 203.7h5.72v1.6h-5.72zM351.2 203.7h5.72v1.6h-5.72zM379.78 203.7h5.72v1.6h-5.72zM391.22 203.7h5.72v1.6h-5.72zM356.91 202.1h5.72v1.6h-5.72zM345.48 200.5h5.72v1.6h-5.72zM356.91 200.5h5.72v1.6h-5.72zM374.07 200.5h5.72v1.6h-5.72zM396.93 200.5h5.72v1.6h-5.72zM311.17 198.9h5.72v1.6h-5.72zM345.48 198.9h5.72v1.6h-5.72zM351.2 197.3h11.43v1.6h-11.43zM311.17 195.7h5.72v1.6h-5.72zM339.76 195.7h5.72v1.6h-5.72zM356.91 195.7h5.72v1.6h-5.72zM385.5 195.7h5.72v1.6h-5.72zM396.93 195.7h5.72v1.6h-5.72zM368.35 194.1h5.72v1.6h-5.72zM391.22 194.1h5.72v1.6h-5.72zM311.17 192.5h5.72v1.6h-5.72zM396.93 190.9h5.72v1.6h-5.72zM322.61 187.7h5.72v1.6h-5.72zM345.48 187.7h5.72v1.6h-5.72zM316.89 186.1h5.72v1.6h-5.72zM345.48 186.1h5.72v1.6h-5.72zM362.63 186.1h5.72v1.6h-5.72zM311.17 184.5h5.72v1.6h-5.72zM385.5 182.9h11.43v1.6h-11.43zM334.04 181.3h5.72v1.6h-5.72zM356.91 181.3h5.72v1.6h-5.72zM311.17 179.7h5.72v1.6h-5.72zM316.89 178.1h5.72v1.6h-5.72zM328.33 176.5h5.72v1.6h-5.72zM402.65 176.5h6.29v1.6h-6.29zM379.78 174.9h5.72v1.6h-5.72zM328.33 173.3h5.72v1.6h-5.72zM328.33 171.7h5.72v1.6h-5.72zM362.63 170.1h5.72v1.6h-5.72zM396.93 168.5h12.01v1.6h-12.01zM396.93 165.3h5.72v1.6h-5.72zM297.74 163.7h7.72v1.6h-7.72zM322.61 163.7h5.72v1.6h-5.72zM368.35 162.1h5.72v1.6h-5.72zM402.65 162.1h6.29v1.6h-6.29zM311.17 160.5h5.72v1.6h-5.72zM334.04 160.5h5.72v1.6h-5.72zM345.48 160.5h5.72v1.6h-5.72zM368.35 160.5h5.72v1.6h-5.72zM391.22 160.5h17.72v1.6h-17.72zM379.78 158.9h5.72v1.6h-5.72zM391.22 158.9h5.72v1.6h-5.72zM374.07 155.7h5.72v1.6h-5.72zM311.17 154.1h5.72v1.6h-5.72zM402.65 154.1h6.29v1.6h-6.29zM322.61 152.5h5.72v1.6h-5.72zM339.76 152.5h5.72v1.6h-5.72zM374.07 152.5h5.72v1.6h-5.72zM362.63 150.9h5.72v1.6h-5.72zM402.65 150.9h6.29v1.6h-6.29zM311.17 147.7h11.43v1.6h-11.43zM311.17 144.5h5.72v1.6h-5.72zM328.33 144.5h5.72v1.6h-5.72zM391.22 144.5h5.72v1.6h-5.72zM351.2 137.7h5.72v3.6h-5.72z"/>
<path fill="#63cb5f" d="M305.46 238.9h5.72v1.6h-5.72zM328.33 238.9h5.72v1.6h-5.72zM368.35 237.3h5.72v1.6h-5.72zM305.46 230.9h5.72v1.6h-5.72zM316.89 230.9h5.72v1.6h-5.72zM334.04 230.9h5.72v1.6h-5.72zM322.61 229.3h5.72v1.6h-5.72zM334.04 229.3h5.72v1.6h-5.72zM297.74 224.5h7.72v1.6h-7.72zM339.76 222.9h5.72v1.6h-5.72zM297.74 219.7h7.72v1.6h-7.72zM322.61 219.7h5.72v1.6h-5.72zM316.89 218.1h5.72v1.6h-5.72zM345.48 218.1h11.43v1.6h-11.43zM328.33 216.5h5.72v1.6h-5.72zM351.2 216.5h11.43v1.6h-11.43zM345.48 214.9h5.72v1.6h-5.72zM379.78 214.9h5.72v1.6h-5.72zM391.22 214.9h5.72v1.6h-5.72zM374.07 213.3h5.72v1.6h-5.72zM356.91 211.7h5.72v1.6h-5.72zM356.91 210.1h5.72v1.6h-5.72zM356.91 208.5h5.72v1.6h-5.72zM368.35 208.5h5.72v1.6h-5.72zM385.5 208.5h5.72v1.6h-5.72zM339.76 206.9h5.72v1.6h-5.72zM334.04 205.3h5.72v1.6h-5.72zM345.48 205.3h5.72v1.6h-5.72zM402.65 205.3h6.29v1.6h-6.29zM334.04 202.1h5.72v1.6h-5.72zM345.48 202.1h5.72v1.6h-5.72zM379.78 202.1h5.72v1.6h-5.72zM297.74 200.5h7.72v1.6h-7.72zM311.17 200.5h5.72v1.6h-5.72zM328.33 198.9h5.72v1.6h-5.72zM345.48 197.3h5.72v1.6h-5.72zM368.35 197.3h5.72v1.6h-5.72zM311.17 194.1h5.72v1.6h-5.72zM402.65 194.1h6.29v1.6h-6.29zM305.46 192.5h5.72v1.6h-5.72zM305.46 190.9h5.72v1.6h-5.72zM328.33 190.9h5.72v1.6h-5.72zM339.76 190.9h5.72v1.6h-5.72zM328.33 189.3h5.72v1.6h-5.72zM339.76 189.3h5.72v1.6h-5.72zM368.35 189.3h5.72v1.6h-5.72zM379.78 189.3h5.72v1.6h-5.72zM339.76 186.1h5.72v1.6h-5.72zM374.07 186.1h5.72v1.6h-5.72zM374.07 184.5h5.72v1.6h-5.72zM339.76 182.9h5.72v1.6h-5.72zM356.91 182.9h5.72v1.6h-5.72zM379.78 182.9h5.72v1.6h-5.72zM316.89 179.7h5.72v1.6h-5.72zM334.04 179.7h5.72v1.6h-5.72zM345.48 179.7h5.72v1.6h-5.72zM368.35 179.7h5.72v1.6h-5.72zM362.63 178.1h5.72v1.6h-5.72zM379.78 178.1h5.72v1.6h-5.72zM396.93 178.1h5.72v1.6h-5.72zM356.91 176.5h5.72v1.6h-5.72zM385.5 176.5h5.72v1.6h-5.72zM345.48 174.9h5.72v1.6h-5.72zM402.65 174.9h6.29v1.6h-6.29zM351.2 173.3h5.72v1.6h-5.72zM351.2 171.7h5.72v1.6h-5.72zM305.46 170.1h5.72v1.6h-5.72zM345.48 170.1h5.72v1.6h-5.72zM339.76 168.5h5.72v1.6h-5.72zM362.63 168.5h5.72v1.6h-5.72zM374.07 168.5h5.72v1.6h-5.72zM391.22 168.5h5.72v1.6h-5.72zM345.48 166.9h5.72v1.6h-5.72zM391.22 166.9h5.72v1.6h-5.72zM396.93 163.7h5.72v1.6h-5.72zM297.74 162.1h7.72v1.6h-7.72zM391.22 162.1h5.72v1.6h-5.72zM297.74 160.5h7.72v1.6h-7.72zM322.61 160.5h5.72v1.6h-5.72zM385.5 158.9h5.72v1.6h-5.72zM322.61 155.7h5.72v1.6h-5.72zM322.61 154.1h5.72v1.6h-5.72zM339.76 154.1h5.72v1.6h-5.72zM362.63 154.1h5.72v1.6h-5.72zM402.65 152.5h6.29v1.6h-6.29zM351.2 150.9h5.72v1.6h-5.72zM311.17 149.3h5.72v1.6h-5.72zM334.04 149.3h5.72v1.6h-5.72zM322.61 147.7h5.72v1.6h-5.72zM345.48 147.7h5.72v1.6h-5.72zM339.76 146.1h5.72v1.6h-5.72zM391.22 146.1h5.72v1.6h-5.72zM334.04 144.5h5.72v1.6h-5.72zM396.93 142.9h5.72v1.6h-5.72zM305.46 141.3h5.72v1.6h-5.72zM362.63 141.3h5.72v1.6h-5.72zM396.93 141.3h5.72v1.6h-5.72z"/>
<path fill="#69cd5b" d="M368.35 238.9h5.72v1.6h-5.72zM345.48 227.7h5.72v1.6h-5.72zM334.04 222.9h5.72v1.6h-5.72zM351.2 222.9h5.72v1.6h-5.72zM311.17 219.7h5.72v1.6h-5.72zM328.33 218.1h5.72v1.6h-5.72zM356.91 218.1h5.72v1.6h-5.72zM311.17 216.5h5.72v1.6h-5.72zM297.74 213.3h7.72v1.6h-7.72zM322.61 211.7h5.72v1.6h-5.72zM345.48 208.5h11.43v1.6h-11.43zM362.63 208.5h5.72v1.6h-5.72zM362.63 205.3h5.72v1.6h-5.72zM305.46 203.7h5.72v1.6h-5.72zM339.76 202.1h5.72v1.6h-5.72zM351.2 202.1h5.72v1.6h-5.72zM379.78 200.5h5.72v1.6h-5.72zM311.17 197.3h5.72v1.6h-5.72zM351.2 195.7h5.72v1.6h-5.72zM379.78 195.7h5.72v1.6h-5.72zM379.78 194.1h5.72v1.6h-5.72zM391.22 192.5h5.72v1.6h-5.72zM385.5 190.9h5.72v1.6h-5.72zM396.93 187.7h5.72v1.6h-5.72zM356.91 186.1h5.72v1.6h-5.72zM362.63 184.5h5.72v1.6h-5.72zM396.93 182.9h5.72v1.6h-5.72zM379.78 181.3h5.72v1.6h-5.72zM402.65 181.3h6.29v1.6h-6.29zM339.76 179.7h5.72v1.6h-5.72zM379.78 179.7h5.72v1.6h-5.72zM368.35 171.7h5.72v1.6h-5.72zM396.93 166.9h5.72v1.6h-5.72zM351.2 165.3h5.72v1.6h-5.72zM368.35 165.3h5.72v1.6h-5.72zM351.2 163.7h5.72v1.6h-5.72zM396.93 157.3h5.72v1.6h-5.72zM351.2 154.1h5.72v1.6h-5.72zM374.07 154.1h5.72v1.6h-5.72zM334.04 150.9h5.72v1.6h-5.72zM316.89 149.3h5.72v1.6h-5.72zM351.2 149.3h5.72v1.6h-5.72zM379.78 149.3h5.72v1.6h-5.72zM391.22 147.7h11.43v1.6h-11.43zM328.33 142.9h5.72v1.6h-5.72z"/>
<path fill="#6ece58" d="M334.04 237.3h5.72v1.6h-5.72zM391.22 227.7h5.72v1.6h-5.72zM368.35 226.1h5.72v1.6h-5.72zM351.2 224.5h5.72v1.6h-5.72zM305.46 219.7h5.72v1.6h-5.72zM356.91 219.7h5.72v1.6h-5.72zM311.17 218.1h5.72v1.6h-5.72zM379.78 216.5h5.72v1.6h-5.72zM339.76 214.9h5.72v1.6h-5.72zM396.93 214.9h5.72v1.6h-5.72zM351.2 213.3h5.72v1.6h-5.72zM316.89 208.5h5.72v1.6h-5.72zM345.48 206.9h5.72v1.6h-5.72zM362.63 206.9h5.72v1.6h-5.72zM391.22 206.9h5.72v1.6h-5.72zM339.76 203.7h5.72v1.6h-5.72zM385.5 203.7h5.72v1.6h-5.72zM351.2 198.9h5.72v1.6h-5.72zM379.78 197.3h5.72v1.6h-5.72zM396.93 194.1h5.72v1.6h-5.72zM322.61 190.9h5.72v1.6h-5.72zM322.61 189.3h5.72v1.6h-5.72zM356.91 189.3h5.72v1.6h-5.72zM328.33 187.7h5.72v1.6h-5.72zM396.93 184.5h5.72v1.6h-5.72zM362.63 182.9h5.72v1.6h-5.72zM368.35 181.3h5.72v1.6h-5.72zM305.46 178.1h5.72v1.6h-5.72zM356.91 174.9h5.72v1.6h-5.72zM396.93 174.9h5.72v1.6h-5.72zM356.91 173.3h5.72v1.6h-5.72zM345.48 168.5h5.72v1.6h-5.72zM339.76 166.9h5.72v1.6h-5.72zM351.2 166.9h5.72v1.6h-5.72zM385.5 163.7h5.72v1.6h-5.72zM311.17 162.1h5.72v1.6h-5.72zM379.78 160.5h5.72v1.6h-5.72zM339.76 157.3h5.72v1.6h-5.72zM339.76 155.7h5.72v1.6h-5.72zM362.63 155.7h5.72v1.6h-5.72zM385.5 154.1h5.72v1.6h-5.72zM351.2 152.5h5.72v1.6h-5.72zM316.89 150.9h5.72v1.6h-5.72zM328.33 150.9h5.72v1.6h-5.72zM379.78 150.9h5.72v1.6h-5.72zM339.76 147.7h5.72v1.6h-5.72zM391.22 142.9h5.72v1.6h-5.72z"/>
<path fill="#75d054" d="M391.22 238.9h5.72v1.6h-5.72zM311.17 232.5h5.72v1.6h-5.72zM328.33 224.5h11.43v1.6h-11.43zM368.35 224.5h5.72v1.6h-5.72zM328.33 219.7h5.72v1.6h-5.72zM374.07 219.7h5.72v1.6h-5.72zM368.35 218.1h5.72v1.6h-5.72zM402.65 216.5h6.29v1.6h-6.29zM374.07 214.9h5.72v1.6h-5.72zM385.5 213.3h5.72v1.6h-5.72zM316.89 206.9h5.72v1.6h-5.72zM368.35 206.9h5.72v1.6h-5.72zM396.93 206.9h5.72v1.6h-5.72zM339.76 205.3h5.72v1.6h-5.72zM368.35 205.3h5.72v1.6h-5.72zM362.63 203.7h5.72v1.6h-5.72zM362.63 202.1h5.72v1.6h-5.72zM351.2 200.5h5.72v1.6h-5.72zM379.78 198.9h5.72v1.6h-5.72zM362.63 195.7h5.72v1.6h-5.72zM379.78 192.5h5.72v1.6h-5.72zM297.74 190.9h7.72v1.6h-7.72zM379.78 190.9h5.72v1.6h-5.72zM351.2 189.3h5.72v1.6h-5.72zM351.2 187.7h5.72v1.6h-5.72zM356.91 184.5h5.72v1.6h-5.72zM379.78 184.5h5.72v1.6h-5.72zM396.93 179.7h5.72v1.6h-5.72zM345.48 171.7h5.72v1.6h-5.72zM339.76 170.1h5.72v1.6h-5.72zM368.35 170.1h5.72v1.6h-5.72zM396.93 162.1h5.72v1.6h-5.72zM385.5 157.3h5.72v1.6h-5.72zM379.78 154.1h5.72v1.6h-5.72zM311.17 152.5h5.72v1.6h-5.72zM334.04 152.5h5.72v1.6h-5.72zM328.33 149.3h5.72v1.6h-5.72zM396.93 149.3h5.72v1.6h-5.72zM374.07 147.7h5.72v1.6h-5.72zM374.07 144.5h5.72v1.6h-5.72z"/>
<path fill="#7ad151" d="M362.63 238.9h5.72v1.6h-5.72zM362.63 237.3h5.72v1.6h-5.72zM351.2 235.7h5.72v1.6h-5.72zM351.2 234.1h5.72v1.6h-5.72zM385.5 232.5h5.72v1.6h-5.72zM362.63 224.5h5.72v1.6h-5.72zM345.48 221.3h5.72v1.6h-5.72zM379.78 218.1h5.72v1.6h-5.72zM374.07 216.5h5.72v1.6h-5.72zM385.5 214.9h5.72v1.6h-5.72zM339.76 213.3h5.72v1.6h-5.72zM334.04 203.7h5.72v1.6h-5.72zM374.07 202.1h5.72v1.6h-5.72zM396.93 202.1h5.72v1.6h-5.72zM391.22 198.9h5.72v1.6h-5.72zM351.2 194.1h5.72v1.6h-5.72zM402.65 192.5h6.29v1.6h-6.29zM379.78 176.5h5.72v1.6h-5.72zM339.76 165.3h5.72v1.6h-5.72zM379.78 152.5h5.72v1.6h-5.72zM311.17 150.9h5.72v1.6h-5.72zM374.07 146.1h5.72v1.6h-5.72zM311.17 142.9h5.72v1.6h-5.72z"/>
<path fill="#81d34d" d="M402.65 238.9h6.29v1.6h-6.29zM345.48 237.3h11.43v1.6h-11.43zM374.07 237.3h5.72v1.6h-5.72zM345.48 235.7h5.72v1.6h-5.72zM351.2 232.5h5.72v1.6h-5.72zM379.78 229.3h5.72v1.6h-5.72zM328.33 226.1h5.72v1.6h-5.72zM345.48 222.9h5.72v1.6h-5.72zM345.48 219.7h5.72v1.6h-5.72zM362.63 219.7h5.72v1.6h-5.72zM305.46 218.1h5.72v1.6h-5.72zM362.63 218.1h5.72v1.6h-5.72zM374.07 218.1h5.72v1.6h-5.72zM396.93 216.5h5.72v1.6h-5.72zM351.2 190.9h5.72v1.6h-5.72zM339.76 181.3h5.72v1.6h-5.72zM305.46 176.5h5.72v1.6h-5.72zM339.76 171.7h5.72v1.6h-5.72zM385.5 155.7h5.72v1.6h-5.72z"/>
<path fill="#86d549" d="M345.48 238.9h5.72v1.6h-5.72zM374.07 238.9h5.72v1.6h-5.72zM385.5 235.7h5.72v1.6h-5.72zM345.48 234.1h5.72v1.6h-5.72zM339.76 232.5h11.43v1.6h-11.43zM351.2 230.9h5.72v1.6h-5.72zM362.63 229.3h5.72v1.6h-5.72zM379.78 227.7h5.72v1.6h-5.72zM339.76 226.1h5.72v1.6h-5.72zM391.22 224.5h5.72v1.6h-5.72zM379.78 222.9h5.72v1.6h-5.72zM328.33 197.3h5.72v1.6h-5.72zM385.5 197.3h5.72v1.6h-5.72zM351.2 192.5h5.72v1.6h-5.72zM345.48 173.3h5.72v1.6h-5.72zM311.17 163.7h5.72v1.6h-5.72z"/>
<path fill="#8ed645" d="M368.35 234.1h5.72v1.6h-5.72zM396.93 218.1h5.72v1.6h-5.72zM385.5 216.5h11.43v1.6h-11.43zM396.93 189.3h5.72v1.6h-5.72zM368.35 168.5h5.72v1.6h-5.72zM368.35 166.9h5.72v1.6h-5.72z"/>
<path fill="#95d840" d="M374.07 235.7h5.72v1.6h-5.72zM339.76 230.9h5.72v1.6h-5.72zM368.35 229.3h5.72v1.6h-5.72zM339.76 227.7h5.72v1.6h-5.72zM368.35 227.7h5.72v1.6h-5.72zM345.48 224.5h5.72v1.6h-5.72zM356.91 222.9h5.72v1.6h-5.72zM356.91 221.3h11.43v1.6h-11.43zM396.93 219.7h5.72v1.6h-5.72z"/>
<path fill="#9bd93c" d="M385.5 238.9h5.72v1.6h-5.72zM339.76 229.3h5.72v1.6h-5.72zM362.63 226.1h5.72v1.6h-5.72zM391.22 226.1h5.72v1.6h-5.72zM402.65 224.5h6.29v1.6h-6.29zM368.35 222.9h5.72v1.6h-5.72zM368.35 219.7h5.72v1.6h-5.72zM391.22 218.1h5.72v1.6h-5.72z"/>
<path fill="#a2da37" d="M379.78 238.9h5.72v1.6h-5.72zM396.93 238.9h5.72v1.6h-5.72zM402.65 226.1h6.29v1.6h-6.29zM379.78 224.5h5.72v1.6h-5.72zM368.35 221.3h5.72v1.6h-5.72z"/>
<path fill="#a8db34" d="M356.91 230.9h17.15v1.6h-17.15zM402.65 227.7h6.29v1.6h-6.29zM379.78 219.7h5.72v1.6h-5.72zM385.5 218.1h5.72v1.6h-5.72zM402.65 218.1h6.29v1.6h-6.29z"/>
<path fill="#b0dd2f" d="M362.63 235.7h5.72v1.6h-5.72zM391.22 234.1h5.72v1.6h-5.72zM345.48 230.9h5.72v1.6h-5.72zM385.5 227.7h5.72v1.6h-5.72zM351.2 226.1h5.72v1.6h-5.72zM385.5 222.9h5.72v1.6h-5.72zM374.07 221.3h5.72v1.6h-5.72z"/>
<path fill="#b5de2b" d="M402.65 235.7h6.29v1.6h-6.29zM356.91 234.1h11.43v1.6h-11.43zM356.91 229.3h5.72v1.6h-5.72zM362.63 227.7h5.72v1.6h-5.72zM362.63 222.9h5.72v1.6h-5.72zM379.78 221.3h5.72v1.6h-5.72zM396.93 221.3h5.72v1.6h-5.72zM391.22 219.7h5.72v1.6h-5.72z"/>
<path fill="#bddf26" d="M379.78 237.3h5.72v1.6h-5.72zM391.22 235.7h5.72v1.6h-5.72zM351.2 229.3h5.72v1.6h-5.72zM356.91 227.7h5.72v1.6h-5.72zM385.5 226.1h5.72v1.6h-5.72zM385.5 224.5h5.72v1.6h-5.72zM391.22 222.9h5.72v1.6h-5.72z"/>
<path fill="#c2df23" d="M356.91 232.5h17.15v1.6h-17.15zM345.48 229.3h5.72v1.6h-5.72zM396.93 227.7h5.72v1.6h-5.72zM391.22 221.3h5.72v1.6h-5.72zM402.65 219.7h6.29v1.6h-6.29z"/>
<path fill="#cae11f" d="M402.65 234.1h6.29v1.6h-6.29zM374.07 232.5h5.72v1.6h-5.72zM351.2 227.7h5.72v1.6h-5.72zM379.78 226.1h5.72v1.6h-5.72zM374.07 224.5h5.72v1.6h-5.72zM402.65 222.9h6.29v1.6h-6.29zM402.65 221.3h6.29v1.6h-6.29z"/>
<path fill="#d2e21b" d="M385.5 237.3h5.72v1.6h-5.72zM379.78 235.7h5.72v1.6h-5.72zM396.93 226.1h5.72v1.6h-5.72zM385.5 219.7h5.72v1.6h-5.72z"/>
<path fill="#d8e219" d="M402.65 237.3h6.29v1.6h-6.29zM396.93 235.7h5.72v1.6h-5.72zM374.07 234.1h5.72v1.6h-5.72zM391.22 232.5h5.72v1.6h-5.72zM374.07 230.9h5.72v1.6h-5.72zM391.22 230.9h5.72v1.6h-5.72zM396.93 224.5h5.72v1.6h-5.72zM385.5 221.3h5.72v1.6h-5.72z"/>
<path fill="#dfe318" d="M391.22 237.3h5.72v1.6h-5.72zM385.5 229.3h5.72v1.6h-5.72zM396.93 229.3h5.72v1.6h-5.72zM374.07 222.9h5.72v1.6h-5.72z"/>
<path fill="#e5e419" d="M396.93 237.3h5.72v1.6h-5.72zM402.65 229.3h6.29v1.6h-6.29zM374.07 226.1h5.72v1.6h-5.72zM396.93 222.9h5.72v1.6h-5.72z"/>
<path fill="#ece51b" d="M379.78 234.1h5.72v1.6h-5.72zM385.5 230.9h5.72v1.6h-5.72z"/>
<path fill="#f8e621" d="M379.78 230.9h5.72v1.6h-5.72zM396.93 230.9h5.72v1.6h-5.72zM374.07 229.3h5.72v1.6h-5.72z"/>
<path fill="#fde725" d="M396.93 234.1h5.72v1.6h-5.72zM379.78 232.5h5.72v1.6h-5.72zM396.93 232.5h12.01v1.6h-12.01zM402.65 230.9h6.29v1.6h-6.29zM374.07 227.7h5.72v1.6h-5.72z"/>
</g>
<line x1="335.47" y1="242.1" x2="335.47" y2="139.7" stroke="#0000ff" stroke-width="1.5" stroke-dasharray="4.5 1.95"/>
</g>
<rect x="299.74" y="139.7" width="107.2" height="102.4" fill="none" stroke="#222" stroke-width="0.4"/>
<path d="M299.74 242.1v2.3M317.61 242.1v2.3M335.47 242.1v2.3M353.34 242.1v2.3M371.21 242.1v2.3M389.07 242.1v2.3M406.94 242.1v2.3M299.74 242.1h-2.3M299.74 221.62h-2.3M299.74 201.14h-2.3M299.74 180.66h-2.3M299.74 160.18h-2.3M299.74 139.7h-2.3" stroke="#444" stroke-width="0.4" fill="none"/>
<g font-family="'DejaVu Sans', 'Liberation Sans', sans-serif" font-weight="bold" stroke="#000" stroke-width="0.18" font-size="4.8" fill="#000">
<text x="299.74" y="248.5" text-anchor="middle">48</text>
<text x="317.61" y="248.5" text-anchor="middle">49</text>
<text x="335.47" y="248.5" text-anchor="middle">50</text>
<text x="353.34" y="248.5" text-anchor="middle">51</text>
<text x="371.21" y="248.5" text-anchor="middle">52</text>
<text x="389.07" y="248.5" text-anchor="middle">53</text>
<text x="406.94" y="248.5" text-anchor="middle">54</text>
<text x="297.14" y="243.9" text-anchor="end">0</text>
<text x="297.14" y="223.42" text-anchor="end">20</text>
<text x="297.14" y="202.94" text-anchor="end">40</text>
<text x="297.14" y="182.46" text-anchor="end">60</text>
<text x="297.14" y="161.98" text-anchor="end">80</text>
<text x="297.14" y="141.5" text-anchor="end">100</text>
</g>
<text x="353.34" y="137.8" text-anchor="middle" font-size="5.95" font-family="'DejaVu Sans', 'Liberation Sans', sans-serif" font-weight="bold" stroke="#000" stroke-width="0.18">SNRdB=-1, windowsize=128</text>
<text x="353.34" y="256.6" text-anchor="middle" font-size="6.8" font-family="'DejaVu Sans', 'Liberation Sans', sans-serif" font-weight="bold" stroke="#000" stroke-width="0.18">Time</text>
<text transform="translate(283.84 191.75) rotate(-90)" text-anchor="middle" font-size="6.6" font-family="'DejaVu Sans', 'Liberation Sans', sans-serif" font-weight="bold" stroke="#000" stroke-width="0.18">Frequency</text>
<clipPath id="c7"><rect x="436.9" y="139.7" width="107.2" height="102.4"/></clipPath>
<g clip-path="url(#c7)">
<g filter="url(#bl)">
<rect x="434.9" y="137.7" width="111.2" height="106.4" fill="#23a983"/>
<path fill="#440154" d="M482.64 241.3h22.87v2.8h-22.87z"/>
<path fill="#471365" d="M448.33 241.3h11.43v2.8h-11.43z"/>
<path fill="#46307e" d="M528.38 241.3h11.43v2.8h-11.43z"/>
<path fill="#463480" d="M434.9 241.3h13.43v2.8h-13.43z"/>
<path fill="#453781" d="M539.81 241.3h11.43v2.8h-11.43z"/>
<path fill="#443a83" d="M459.77 241.3h11.43v2.8h-11.43z"/>
<path fill="#404688" d="M448.33 164.5h11.43v.8h-11.43z"/>
<path fill="#3e4989" d="M516.94 241.3h11.43v2.8h-11.43z"/>
<path fill="#3e4c8a" d="M471.2 241.3h11.43v2.8h-11.43zM471.2 189.3h11.43v.8h-11.43zM448.33 158.9h11.43v.8h-11.43z"/>
<path fill="#3c4f8a" d="M516.94 168.5h11.43v.8h-11.43z"/>
<path fill="#3b528b" d="M505.51 241.3h11.43v2.8h-11.43zM528.38 174.9h11.43v.8h-11.43zM448.33 168.5h11.43v.8h-11.43zM471.2 145.3h11.43v.8h-11.43z"/>
<path fill="#3a548c" d="M448.33 214.1h11.43v.8h-11.43zM539.81 209.3h11.43v.8h-11.43zM459.77 197.3h11.43v.8h-11.43zM494.07 174.1h11.43v.8h-11.43z"/>
<path fill="#375a8c" d="M471.2 190.1h11.43v.8h-11.43z"/>
<path fill="#365d8d" d="M505.51 202.9h11.43v.8h-11.43zM528.38 197.3h11.43v.8h-11.43zM459.77 196.5h11.43v.8h-11.43z"/>
<path fill="#355f8d" d="M459.77 158.9h11.43v.8h-11.43z"/>
<path fill="#33628d" d="M528.38 198.1h11.43v.8h-11.43zM448.33 197.3h11.43v.8h-11.43zM471.2 182.9h11.43v.8h-11.43zM528.38 174.1h11.43v.8h-11.43zM434.9 164.5h13.43v.8h-13.43z"/>
<path fill="#32648e" d="M516.94 174.9h11.43v.8h-11.43z"/>
<path fill="#31678e" d="M448.33 169.3h11.43v.8h-11.43z"/>
<path fill="#306a8e" d="M516.94 143.7h11.43v.8h-11.43zM434.9 140.5h13.43v.8h-13.43z"/>
<path fill="#2f6c8e" d="M448.33 159.7h11.43v.8h-11.43zM434.9 141.3h13.43v.8h-13.43z"/>
<path fill="#2e6f8e" d="M448.33 213.3h11.43v.8h-11.43zM539.81 208.5h11.43v.8h-11.43zM494.07 152.5h11.43v.8h-11.43z"/>
<path fill="#2d718e" d="M434.9 239.7h13.43v.8h-13.43zM459.77 234.1h11.43v.8h-11.43zM459.77 165.3h11.43v.8h-11.43zM459.77 145.3h11.43v.8h-11.43zM482.64 137.7h11.43v2.8h-11.43z"/>
<path fill="#2c738e" d="M482.64 228.5h11.43v.8h-11.43zM482.64 212.5h11.43v.8h-11.43zM434.9 210.9h13.43v.8h-13.43zM448.33 196.5h11.43v.8h-11.43zM471.2 170.9h11.43v.8h-11.43zM459.77 169.3h11.43v.8h-11.43zM528.38 143.7h11.43v.8h-11.43zM494.07 137.7h11.43v2.8h-11.43z"/>
<path fill="#2b758e" d="M434.9 238.9h13.43v.8h-13.43zM434.9 214.1h13.43v.8h-13.43zM516.94 202.9h11.43v.8h-11.43zM494.07 194.9h11.43v.8h-11.43zM482.64 189.3h11.43v.8h-11.43zM528.38 178.1h11.43v.8h-11.43zM539.81 162.9h11.43v.8h-11.43zM528.38 160.5h11.43v.8h-11.43z"/>
<path fill="#2a788e" d="M528.38 209.3h11.43v.8h-11.43zM494.07 202.9h11.43v.8h-11.43zM539.81 194.9h11.43v.8h-11.43zM482.64 190.1h11.43v.8h-11.43zM459.77 189.3h11.43v.8h-11.43zM494.07 182.1h22.87v.8h-22.87zM471.2 155.7h11.43v.8h-11.43zM539.81 150.1h11.43v.8h-11.43zM539.81 140.5h11.43v.8h-11.43z"/>
<path fill="#297a8e" d="M448.33 238.9h11.43v.8h-11.43zM494.07 222.9h11.43v.8h-11.43zM434.9 213.3h13.43v.8h-13.43zM494.07 212.5h11.43v.8h-11.43zM516.94 198.1h11.43v.8h-11.43zM494.07 197.3h11.43v.8h-11.43zM494.07 194.1h11.43v.8h-11.43zM482.64 187.7h11.43v.8h-11.43zM471.2 169.3h11.43v.8h-11.43zM448.33 140.5h11.43v.8h-11.43z"/>
<path fill="#287d8e" d="M505.51 222.1h11.43v.8h-11.43zM448.33 202.9h11.43v.8h-11.43zM482.64 194.9h11.43v.8h-11.43zM482.64 188.5h11.43v.8h-11.43zM494.07 173.3h11.43v.8h-11.43zM434.9 168.5h13.43v.8h-13.43zM505.51 168.5h11.43v.8h-11.43zM434.9 163.7h13.43v.8h-13.43zM482.64 158.1h11.43v.8h-11.43zM494.07 153.3h11.43v.8h-11.43zM539.81 149.3h11.43v.8h-11.43zM482.64 145.3h11.43v.8h-11.43zM539.81 141.3h11.43v.8h-11.43zM448.33 137.7h11.43v2.8h-11.43z"/>
<path fill="#27808e" d="M434.9 240.5h13.43v.8h-13.43zM448.33 223.7h11.43v.8h-11.43zM505.51 222.9h11.43v.8h-11.43zM471.2 204.5h11.43v.8h-11.43zM539.81 199.7h11.43v.8h-11.43zM471.2 170.1h11.43v.8h-11.43zM448.33 163.7h11.43v.8h-11.43zM434.9 159.7h13.43v.8h-13.43zM528.38 149.3h11.43v.8h-11.43zM482.64 144.5h11.43v.8h-11.43zM459.77 142.9h11.43v.8h-11.43z"/>
<path fill="#26828e" d="M471.2 224.5h11.43v.8h-11.43zM494.07 198.1h11.43v.8h-11.43zM539.81 192.5h11.43v.8h-11.43zM434.9 191.7h13.43v.8h-13.43zM494.07 181.3h11.43v.8h-11.43zM539.81 174.9h11.43v.8h-11.43zM539.81 174.1h11.43v.8h-11.43zM528.38 171.7h11.43v.8h-11.43zM459.77 170.1h11.43v.8h-11.43zM539.81 160.5h11.43v.8h-11.43zM505.51 153.3h11.43v.8h-11.43zM505.51 152.5h11.43v.8h-11.43zM528.38 145.3h11.43v.8h-11.43zM471.2 144.5h11.43v.8h-11.43z"/>
<path fill="#25848e" d="M434.9 238.1h13.43v.8h-13.43zM471.2 235.7h11.43v.8h-11.43zM459.77 223.7h11.43v.8h-11.43zM482.64 218.9h11.43v.8h-11.43zM434.9 211.7h13.43v.8h-13.43zM505.51 203.7h11.43v.8h-11.43zM482.64 202.9h11.43v.8h-11.43zM434.9 202.1h13.43v.8h-13.43zM494.07 202.1h11.43v.8h-11.43zM494.07 187.7h11.43v.8h-11.43zM448.33 180.5h11.43v.8h-11.43zM528.38 177.3h11.43v.8h-11.43zM516.94 171.7h11.43v.8h-11.43zM482.64 170.9h11.43v.8h-11.43zM528.38 168.5h11.43v.8h-11.43zM459.77 166.1h11.43v.8h-11.43zM434.9 165.3h13.43v.8h-13.43zM482.64 155.7h11.43v.8h-11.43zM434.9 152.5h13.43v.8h-13.43zM459.77 146.1h11.43v.8h-11.43zM516.94 144.5h11.43v.8h-11.43zM434.9 143.7h13.43v.8h-13.43zM459.77 140.5h11.43v.8h-11.43zM528.38 140.5h11.43v.8h-11.43z"/>
<path fill="#24868e" d="M482.64 236.5h11.43v.8h-11.43zM448.33 234.1h11.43v.8h-11.43zM459.77 233.3h11.43v.8h-11.43zM471.2 223.7h11.43v.8h-11.43zM471.2 218.9h11.43v.8h-11.43zM539.81 213.3h11.43v.8h-11.43zM448.33 210.9h11.43v.8h-11.43zM505.51 197.3h11.43v.8h-11.43zM459.77 191.7h11.43v.8h-11.43zM539.81 186.1h11.43v.8h-11.43zM528.38 184.5h11.43v.8h-11.43zM471.2 183.7h22.87v.8h-22.87zM482.64 182.9h11.43v.8h-11.43zM516.94 182.1h11.43v.8h-11.43zM516.94 175.7h22.87v.8h-22.87zM539.81 163.7h11.43v.8h-11.43zM471.2 154.9h11.43v.8h-11.43zM516.94 151.7h11.43v.8h-11.43zM434.9 150.1h13.43v.8h-13.43zM448.33 142.9h11.43v.8h-11.43zM459.77 142.1h11.43v.8h-11.43z"/>
<path fill="#23898e" d="M448.33 222.9h22.87v.8h-22.87zM471.2 211.7h22.87v.8h-22.87zM539.81 210.9h11.43v.8h-11.43zM528.38 210.1h11.43v.8h-11.43zM434.9 208.5h13.43v.8h-13.43zM459.77 206.9h11.43v.8h-11.43zM482.64 202.1h11.43v.8h-11.43zM471.2 190.9h11.43v.8h-11.43zM459.77 190.1h11.43v.8h-11.43zM471.2 188.5h11.43v.8h-11.43zM494.07 188.5h11.43v.8h-11.43zM528.38 185.3h11.43v.8h-11.43zM448.33 181.3h11.43v.8h-11.43zM494.07 176.5h11.43v.8h-11.43zM528.38 176.5h11.43v.8h-11.43zM482.64 174.1h11.43v.8h-11.43zM482.64 173.3h11.43v.8h-11.43zM516.94 169.3h11.43v.8h-11.43zM459.77 168.5h11.43v.8h-11.43zM471.2 166.9h11.43v.8h-11.43zM528.38 163.7h11.43v.8h-11.43zM448.33 147.7h11.43v.8h-11.43z"/>
<path fill="#228b8d" d="M448.33 238.1h11.43v.8h-11.43zM505.51 237.3h11.43v.8h-11.43zM516.94 203.7h11.43v.8h-11.43zM528.38 194.9h11.43v.8h-11.43zM482.64 194.1h11.43v.8h-11.43zM539.81 186.9h11.43v.8h-11.43zM539.81 185.3h11.43v.8h-11.43zM528.38 183.7h11.43v.8h-11.43zM459.77 182.9h11.43v.8h-11.43zM459.77 182.1h11.43v.8h-11.43zM516.94 174.1h11.43v.8h-11.43zM448.33 171.7h11.43v.8h-11.43zM434.9 169.3h13.43v.8h-13.43zM505.51 167.7h11.43v.8h-11.43zM539.81 165.3h11.43v.8h-11.43zM459.77 164.5h11.43v.8h-11.43zM528.38 161.3h11.43v.8h-11.43zM516.94 160.5h11.43v.8h-11.43zM539.81 159.7h11.43v.8h-11.43zM459.77 158.1h11.43v.8h-11.43zM434.9 153.3h13.43v.8h-13.43zM434.9 148.5h13.43v.8h-13.43zM434.9 144.5h13.43v.8h-13.43zM528.38 144.5h11.43v.8h-11.43zM459.77 137.7h11.43v2.8h-11.43z"/>
<path fill="#218e8d" d="M494.07 236.5h11.43v.8h-11.43zM482.64 219.7h11.43v.8h-11.43zM505.51 198.1h11.43v.8h-11.43zM516.94 197.3h11.43v.8h-11.43zM471.2 187.7h11.43v.8h-11.43zM528.38 186.9h11.43v.8h-11.43zM516.94 184.5h11.43v.8h-11.43zM528.38 182.9h11.43v.8h-11.43zM505.51 175.7h11.43v.8h-11.43zM448.33 172.5h11.43v.8h-11.43zM482.64 172.5h11.43v.8h-11.43zM448.33 165.3h11.43v.8h-11.43zM539.81 153.3h11.43v.8h-11.43zM539.81 143.7h11.43v.8h-11.43zM482.64 142.1h11.43v.8h-11.43zM528.38 137.7h11.43v2.8h-11.43z"/>
<path fill="#21918c" d="M448.33 240.5h11.43v.8h-11.43zM482.64 240.5h11.43v.8h-11.43zM434.9 237.3h13.43v.8h-13.43zM494.07 237.3h11.43v.8h-11.43zM434.9 236.5h13.43v.8h-13.43zM434.9 229.3h13.43v.8h-13.43zM494.07 228.5h11.43v.8h-11.43zM505.51 224.5h11.43v.8h-11.43zM471.2 220.5h11.43v.8h-11.43zM528.38 214.1h11.43v.8h-11.43zM539.81 212.5h11.43v.8h-11.43zM516.94 210.9h11.43v.8h-11.43zM448.33 208.5h11.43v.8h-11.43zM448.33 202.1h11.43v.8h-11.43zM505.51 202.1h11.43v.8h-11.43zM434.9 190.9h13.43v.8h-13.43zM494.07 174.9h11.43v.8h-11.43zM516.94 167.7h11.43v.8h-11.43zM505.51 162.1h11.43v.8h-11.43zM471.2 156.5h11.43v.8h-11.43zM516.94 150.9h11.43v.8h-11.43zM434.9 147.7h13.43v.8h-13.43z"/>
<path fill="#20928c" d="M471.2 226.1h11.43v.8h-11.43zM494.07 222.1h11.43v.8h-11.43zM471.2 215.7h11.43v.8h-11.43zM494.07 213.3h11.43v.8h-11.43zM539.81 211.7h11.43v.8h-11.43zM516.94 210.1h11.43v.8h-11.43zM448.33 207.7h11.43v.8h-11.43zM528.38 203.7h11.43v.8h-11.43zM539.81 200.5h11.43v.8h-11.43zM539.81 198.9h11.43v.8h-11.43zM434.9 192.5h13.43v.8h-13.43zM471.2 191.7h11.43v.8h-11.43zM448.33 190.1h11.43v.8h-11.43zM539.81 177.3h11.43v.8h-11.43zM505.51 171.7h11.43v.8h-11.43zM471.2 168.5h11.43v.8h-11.43zM459.77 166.9h11.43v.8h-11.43zM505.51 162.9h11.43v.8h-11.43zM448.33 162.1h11.43v.8h-11.43zM434.9 158.9h13.43v.8h-13.43zM448.33 146.9h11.43v.8h-11.43zM528.38 146.1h11.43v.8h-11.43zM459.77 141.3h11.43v.8h-11.43z"/>
<path fill="#1f958b" d="M539.81 240.5h11.43v.8h-11.43zM448.33 239.7h11.43v.8h-11.43zM459.77 232.5h22.87v.8h-22.87zM482.64 229.3h22.87v.8h-22.87zM434.9 225.3h13.43v.8h-13.43zM494.07 225.3h11.43v.8h-11.43zM459.77 224.5h11.43v.8h-11.43zM494.07 218.9h11.43v.8h-11.43zM494.07 214.9h11.43v.8h-11.43zM528.38 210.9h11.43v.8h-11.43zM434.9 209.3h13.43v.8h-13.43zM539.81 204.5h11.43v.8h-11.43zM516.94 202.1h11.43v.8h-11.43zM434.9 201.3h13.43v.8h-13.43zM434.9 199.7h13.43v.8h-13.43zM459.77 198.1h11.43v.8h-11.43zM471.2 197.3h11.43v.8h-11.43zM539.81 197.3h11.43v.8h-11.43zM459.77 195.7h11.43v.8h-11.43zM539.81 183.7h11.43v.8h-11.43zM505.51 182.9h11.43v.8h-11.43zM539.81 182.9h11.43v.8h-11.43zM459.77 181.3h11.43v.8h-11.43zM539.81 178.1h11.43v.8h-11.43zM494.07 167.7h11.43v.8h-11.43zM494.07 164.5h11.43v.8h-11.43zM528.38 162.9h11.43v.8h-11.43zM528.38 159.7h11.43v.8h-11.43zM448.33 158.1h11.43v.8h-11.43zM482.64 156.5h11.43v.8h-11.43zM539.81 152.5h11.43v.8h-11.43zM434.9 149.3h24.87v.8h-24.87zM471.2 142.1h11.43v.8h-11.43zM448.33 141.3h11.43v.8h-11.43zM434.9 137.7h13.43v2.8h-13.43z"/>
<path fill="#1f978b" d="M459.77 234.9h11.43v.8h-11.43zM471.2 233.3h11.43v.8h-11.43zM434.9 228.5h13.43v.8h-13.43zM471.2 225.3h11.43v.8h-11.43zM459.77 214.9h11.43v.8h-11.43zM482.64 213.3h11.43v.8h-11.43zM528.38 213.3h11.43v.8h-11.43zM459.77 207.7h11.43v.8h-11.43zM471.2 205.3h11.43v.8h-11.43zM434.9 200.5h13.43v.8h-13.43zM448.33 190.9h11.43v.8h-11.43zM539.81 187.7h11.43v.8h-11.43zM516.94 185.3h11.43v.8h-11.43zM482.64 184.5h11.43v.8h-11.43zM482.64 181.3h11.43v.8h-11.43zM494.07 178.9h11.43v.8h-11.43zM528.38 178.9h11.43v.8h-11.43zM505.51 174.1h11.43v.8h-11.43zM448.33 173.3h11.43v.8h-11.43zM505.51 173.3h11.43v.8h-11.43zM459.77 172.5h22.87v.8h-22.87zM505.51 172.5h11.43v.8h-11.43zM528.38 170.9h11.43v.8h-11.43zM494.07 165.3h11.43v.8h-11.43zM516.94 161.3h11.43v.8h-11.43zM482.64 158.9h11.43v.8h-11.43zM482.64 157.3h11.43v.8h-11.43z"/>
<path fill="#1f9a8a" d="M528.38 240.5h11.43v.8h-11.43zM505.51 239.7h11.43v.8h-11.43zM448.33 234.9h11.43v.8h-11.43zM471.2 234.1h11.43v.8h-11.43zM448.33 229.3h11.43v.8h-11.43zM448.33 224.5h11.43v.8h-11.43zM482.64 224.5h11.43v.8h-11.43zM471.2 219.7h11.43v.8h-11.43zM459.77 218.9h11.43v.8h-11.43zM505.51 217.3h11.43v.8h-11.43zM505.51 216.5h11.43v.8h-11.43zM448.33 214.9h11.43v.8h-11.43zM471.2 212.5h11.43v.8h-11.43zM528.38 212.5h11.43v.8h-11.43zM539.81 210.1h11.43v.8h-11.43zM516.94 206.1h11.43v.8h-11.43zM482.64 203.7h11.43v.8h-11.43zM471.2 202.1h11.43v.8h-11.43zM494.07 196.5h11.43v.8h-11.43zM539.81 195.7h11.43v.8h-11.43zM494.07 184.5h11.43v.8h-11.43zM516.94 178.1h11.43v.8h-11.43zM434.9 177.3h13.43v.8h-13.43zM482.64 177.3h11.43v.8h-11.43zM448.33 176.5h11.43v.8h-11.43zM539.81 176.5h11.43v.8h-11.43zM459.77 174.9h11.43v.8h-11.43zM434.9 174.1h13.43v.8h-13.43zM471.2 171.7h22.87v.8h-22.87zM528.38 169.3h11.43v.8h-11.43zM482.64 167.7h11.43v.8h-11.43zM539.81 162.1h11.43v.8h-11.43zM494.07 158.1h11.43v.8h-11.43zM528.38 151.7h11.43v.8h-11.43zM528.38 150.1h11.43v.8h-11.43zM494.07 149.3h11.43v.8h-11.43zM539.81 145.3h11.43v.8h-11.43zM494.07 142.9h11.43v.8h-11.43zM528.38 142.9h11.43v.8h-11.43zM539.81 137.7h11.43v2.8h-11.43z"/>
<path fill="#1e9c89" d="M494.07 239.7h11.43v.8h-11.43zM482.64 235.7h11.43v.8h-11.43zM505.51 223.7h11.43v.8h-11.43zM516.94 222.1h11.43v.8h-11.43zM459.77 215.7h11.43v.8h-11.43zM528.38 214.9h11.43v.8h-11.43zM459.77 213.3h11.43v.8h-11.43zM471.2 206.9h11.43v.8h-11.43zM505.51 206.1h11.43v.8h-11.43zM482.64 204.5h11.43v.8h-11.43zM528.38 204.5h11.43v.8h-11.43zM448.33 203.7h11.43v.8h-11.43zM528.38 202.9h11.43v.8h-11.43zM482.64 201.3h11.43v.8h-11.43zM528.38 198.9h11.43v.8h-11.43zM494.07 192.5h22.87v.8h-22.87zM494.07 191.7h11.43v.8h-11.43zM434.9 185.3h13.43v.8h-13.43zM539.81 178.9h11.43v.8h-11.43zM448.33 177.3h11.43v.8h-11.43zM494.07 177.3h11.43v.8h-11.43zM505.51 174.9h11.43v.8h-11.43zM494.07 172.5h11.43v.8h-11.43zM471.2 166.1h11.43v.8h-11.43zM471.2 165.3h11.43v.8h-11.43zM539.81 164.5h11.43v.8h-11.43zM528.38 162.1h11.43v.8h-11.43zM471.2 154.1h11.43v.8h-11.43zM448.33 150.1h11.43v.8h-11.43zM482.64 149.3h11.43v.8h-11.43zM448.33 148.5h11.43v.8h-11.43zM516.94 146.1h11.43v.8h-11.43zM448.33 143.7h11.43v.8h-11.43zM448.33 142.1h11.43v.8h-11.43zM494.07 142.1h11.43v.8h-11.43z"/>
<path fill="#1f9f88" d="M471.2 236.5h11.43v.8h-11.43zM482.64 225.3h11.43v.8h-11.43zM434.9 224.5h13.43v.8h-13.43zM434.9 223.7h13.43v.8h-13.43zM448.33 222.1h11.43v.8h-11.43zM505.51 221.3h11.43v.8h-11.43zM482.64 220.5h11.43v.8h-11.43zM482.64 218.1h11.43v.8h-11.43zM539.81 217.3h11.43v.8h-11.43zM459.77 214.1h11.43v.8h-11.43zM448.33 211.7h11.43v.8h-11.43zM459.77 210.9h11.43v.8h-11.43zM482.64 206.9h11.43v.8h-11.43zM516.94 204.5h11.43v.8h-11.43zM434.9 202.9h13.43v.8h-13.43zM471.2 202.9h11.43v.8h-11.43zM494.07 201.3h11.43v.8h-11.43zM528.38 199.7h11.43v.8h-11.43zM539.81 198.1h11.43v.8h-11.43zM471.2 196.5h11.43v.8h-11.43zM471.2 194.9h11.43v.8h-11.43zM434.9 194.1h13.43v.8h-13.43zM434.9 186.1h13.43v.8h-13.43zM459.77 186.1h11.43v.8h-11.43zM471.2 185.3h22.87v.8h-22.87zM516.94 182.9h11.43v.8h-11.43zM494.07 175.7h11.43v.8h-11.43zM448.33 174.1h11.43v.8h-11.43zM516.94 172.5h11.43v.8h-11.43zM482.64 170.1h11.43v.8h-11.43zM505.51 169.3h11.43v.8h-11.43zM448.33 167.7h11.43v.8h-11.43zM471.2 164.5h11.43v.8h-11.43zM505.51 164.5h11.43v.8h-11.43zM459.77 162.9h11.43v.8h-11.43zM494.07 162.1h11.43v.8h-11.43zM539.81 161.3h11.43v.8h-11.43zM505.51 160.5h11.43v.8h-11.43zM471.2 158.1h11.43v.8h-11.43zM434.9 146.9h13.43v.8h-13.43zM471.2 146.1h11.43v.8h-11.43z"/>
<path fill="#1fa188" d="M516.94 240.5h11.43v.8h-11.43zM482.64 237.3h11.43v.8h-11.43zM471.2 234.9h11.43v.8h-11.43zM434.9 222.9h13.43v.8h-13.43zM471.2 221.3h11.43v.8h-11.43zM471.2 218.1h11.43v.8h-11.43zM505.51 212.5h11.43v.8h-11.43zM459.77 211.7h11.43v.8h-11.43zM528.38 208.5h11.43v.8h-11.43zM505.51 206.9h11.43v.8h-11.43zM494.07 203.7h11.43v.8h-11.43zM528.38 202.1h11.43v.8h-11.43zM494.07 195.7h11.43v.8h-11.43zM528.38 195.7h11.43v.8h-11.43zM539.81 191.7h11.43v.8h-11.43zM459.77 186.9h11.43v.8h-11.43zM448.33 186.1h11.43v.8h-11.43zM528.38 186.1h11.43v.8h-11.43zM482.64 182.1h11.43v.8h-11.43zM434.9 180.5h13.43v.8h-13.43zM448.33 178.1h11.43v.8h-11.43zM494.07 178.1h11.43v.8h-11.43zM539.81 171.7h11.43v.8h-11.43zM516.94 170.9h11.43v.8h-11.43zM482.64 168.5h11.43v.8h-11.43zM471.2 167.7h11.43v.8h-11.43zM482.64 165.3h11.43v.8h-11.43zM482.64 164.5h11.43v.8h-11.43zM448.33 162.9h11.43v.8h-11.43zM482.64 159.7h11.43v.8h-11.43zM539.81 158.1h11.43v.8h-11.43zM528.38 150.9h11.43v.8h-11.43zM448.33 146.1h11.43v.8h-11.43zM539.81 144.5h11.43v.8h-11.43zM505.51 143.7h11.43v.8h-11.43zM539.81 142.9h11.43v.8h-11.43z"/>
<path fill="#20a386" d="M434.9 226.1h13.43v.8h-13.43zM494.07 224.5h11.43v.8h-11.43zM482.64 221.3h11.43v.8h-11.43zM528.38 219.7h11.43v.8h-11.43zM434.9 214.9h13.43v.8h-13.43zM494.07 211.7h34.3v.8h-34.3zM471.2 210.9h11.43v.8h-11.43zM434.9 210.1h13.43v.8h-13.43zM539.81 203.7h11.43v.8h-11.43zM539.81 201.3h11.43v.8h-11.43zM448.33 200.5h11.43v.8h-11.43zM448.33 199.7h11.43v.8h-11.43zM516.94 198.9h11.43v.8h-11.43zM448.33 198.1h11.43v.8h-11.43zM505.51 196.5h11.43v.8h-11.43zM471.2 195.7h11.43v.8h-11.43zM434.9 194.9h13.43v.8h-13.43zM459.77 190.9h11.43v.8h-11.43zM516.94 186.1h11.43v.8h-11.43zM471.2 184.5h11.43v.8h-11.43zM505.51 181.3h11.43v.8h-11.43zM459.77 174.1h11.43v.8h-11.43zM528.38 173.3h11.43v.8h-11.43zM494.07 163.7h22.87v.8h-22.87zM516.94 162.1h11.43v.8h-11.43zM434.9 160.5h13.43v.8h-13.43zM494.07 159.7h11.43v.8h-11.43zM516.94 159.7h11.43v.8h-11.43zM516.94 154.1h11.43v.8h-11.43zM516.94 153.3h22.87v.8h-22.87zM482.64 152.5h11.43v.8h-11.43zM494.07 151.7h11.43v.8h-11.43zM434.9 150.9h13.43v.8h-13.43zM539.81 150.9h11.43v.8h-11.43zM482.64 150.1h11.43v.8h-11.43z"/>
<path fill="#21a685" d="M494.07 240.5h11.43v.8h-11.43zM482.64 239.7h11.43v.8h-11.43zM459.77 238.9h11.43v.8h-11.43zM505.51 236.5h11.43v.8h-11.43zM434.9 234.1h13.43v.8h-13.43zM459.77 226.1h11.43v.8h-11.43zM459.77 225.3h11.43v.8h-11.43zM505.51 225.3h11.43v.8h-11.43zM448.33 221.3h11.43v.8h-11.43zM434.9 220.5h13.43v.8h-13.43zM528.38 218.9h22.87v.8h-22.87zM434.9 216.5h13.43v.8h-13.43zM516.94 216.5h11.43v.8h-11.43zM539.81 216.5h11.43v.8h-11.43zM505.51 214.1h22.87v.8h-22.87zM434.9 207.7h13.43v.8h-13.43zM494.07 206.9h11.43v.8h-11.43zM434.9 205.3h13.43v.8h-13.43zM459.77 194.9h11.43v.8h-11.43zM471.2 186.9h11.43v.8h-11.43zM516.94 180.5h11.43v.8h-11.43zM434.9 171.7h13.43v.8h-13.43zM434.9 167.7h13.43v.8h-13.43zM505.51 151.7h11.43v.8h-11.43zM505.51 149.3h22.87v.8h-22.87zM505.51 147.7h11.43v.8h-11.43zM505.51 146.9h11.43v.8h-11.43zM516.94 145.3h11.43v.8h-11.43zM471.2 141.3h11.43v.8h-11.43z"/>
<path fill="#22a884" d="M494.07 238.9h11.43v.8h-11.43zM459.77 235.7h11.43v.8h-11.43zM448.33 233.3h11.43v.8h-11.43zM434.9 230.1h24.87v.8h-24.87zM482.64 226.1h11.43v.8h-11.43zM459.77 222.1h11.43v.8h-11.43zM516.94 221.3h11.43v.8h-11.43zM539.81 219.7h11.43v.8h-11.43zM434.9 217.3h13.43v.8h-13.43zM482.64 215.7h11.43v.8h-11.43zM459.77 210.1h11.43v.8h-11.43zM459.77 208.5h11.43v.8h-11.43zM471.2 207.7h11.43v.8h-11.43zM516.94 205.3h11.43v.8h-11.43zM434.9 204.5h13.43v.8h-13.43zM448.33 201.3h11.43v.8h-11.43zM459.77 199.7h11.43v.8h-11.43zM494.07 198.9h11.43v.8h-11.43zM471.2 198.1h11.43v.8h-11.43zM505.51 195.7h11.43v.8h-11.43zM448.33 194.1h11.43v.8h-11.43zM528.38 187.7h11.43v.8h-11.43zM494.07 183.7h11.43v.8h-11.43zM448.33 182.9h11.43v.8h-11.43zM471.2 182.1h11.43v.8h-11.43zM528.38 182.1h11.43v.8h-11.43zM516.94 179.7h11.43v.8h-11.43zM448.33 178.9h11.43v.8h-11.43zM482.64 178.1h11.43v.8h-11.43zM505.51 176.5h11.43v.8h-11.43zM448.33 170.9h11.43v.8h-11.43zM539.81 170.9h11.43v.8h-11.43zM482.64 169.3h11.43v.8h-11.43zM528.38 167.7h11.43v.8h-11.43zM434.9 166.1h13.43v.8h-13.43zM494.07 166.1h11.43v.8h-11.43zM459.77 162.1h11.43v.8h-11.43zM505.51 161.3h11.43v.8h-11.43zM494.07 158.9h11.43v.8h-11.43zM482.64 154.9h11.43v.8h-11.43zM516.94 152.5h11.43v.8h-11.43zM459.77 149.3h11.43v.8h-11.43zM528.38 148.5h11.43v.8h-11.43zM448.33 145.3h11.43v.8h-11.43zM448.33 144.5h11.43v.8h-11.43zM505.51 144.5h11.43v.8h-11.43zM494.07 140.5h11.43v.8h-11.43z"/>
<path fill="#25ab82" d="M434.9 231.7h13.43v.8h-13.43zM459.77 231.7h11.43v.8h-11.43zM482.64 223.7h11.43v.8h-11.43zM516.94 222.9h11.43v.8h-11.43zM516.94 220.5h22.87v.8h-22.87zM448.33 218.9h11.43v.8h-11.43zM539.81 218.1h11.43v.8h-11.43zM482.64 217.3h11.43v.8h-11.43zM516.94 217.3h11.43v.8h-11.43zM471.2 216.5h11.43v.8h-11.43zM505.51 214.9h11.43v.8h-11.43zM459.77 212.5h11.43v.8h-11.43zM516.94 209.3h11.43v.8h-11.43zM494.07 207.7h22.87v.8h-22.87zM471.2 203.7h11.43v.8h-11.43zM539.81 202.1h11.43v.8h-11.43zM434.9 198.9h13.43v.8h-13.43zM459.77 198.9h11.43v.8h-11.43zM482.64 197.3h11.43v.8h-11.43zM448.33 191.7h11.43v.8h-11.43zM505.51 191.7h11.43v.8h-11.43zM434.9 190.1h13.43v.8h-13.43zM448.33 189.3h11.43v.8h-11.43zM434.9 188.5h13.43v.8h-13.43zM505.51 184.5h11.43v.8h-11.43zM448.33 183.7h11.43v.8h-11.43zM494.07 182.9h11.43v.8h-11.43zM459.77 180.5h11.43v.8h-11.43zM459.77 178.9h11.43v.8h-11.43zM505.51 178.9h11.43v.8h-11.43zM505.51 178.1h11.43v.8h-11.43zM434.9 176.5h13.43v.8h-13.43zM539.81 175.7h11.43v.8h-11.43zM434.9 174.9h13.43v.8h-13.43zM459.77 173.3h11.43v.8h-11.43zM528.38 172.5h11.43v.8h-11.43zM434.9 170.9h13.43v.8h-13.43zM459.77 170.9h11.43v.8h-11.43zM448.33 170.1h11.43v.8h-11.43zM539.81 166.1h11.43v.8h-11.43zM505.51 165.3h11.43v.8h-11.43zM528.38 164.5h11.43v.8h-11.43zM516.94 162.9h11.43v.8h-11.43zM434.9 162.1h13.43v.8h-13.43zM459.77 159.7h11.43v.8h-11.43zM471.2 157.3h11.43v.8h-11.43zM539.81 157.3h11.43v.8h-11.43zM516.94 156.5h22.87v.8h-22.87zM471.2 149.3h11.43v.8h-11.43zM471.2 148.5h11.43v.8h-11.43zM494.07 148.5h22.87v.8h-22.87zM494.07 144.5h11.43v.8h-11.43zM459.77 143.7h11.43v.8h-11.43zM482.64 141.3h22.87v.8h-22.87zM528.38 141.3h11.43v.8h-11.43zM516.94 137.7h11.43v2.8h-11.43z"/>
<path fill="#26ad81" d="M448.33 237.3h11.43v.8h-11.43zM471.2 231.7h11.43v.8h-11.43zM494.07 223.7h11.43v.8h-11.43zM482.64 222.1h11.43v.8h-11.43zM434.9 221.3h13.43v.8h-13.43zM434.9 218.9h13.43v.8h-13.43zM505.51 218.1h11.43v.8h-11.43zM494.07 217.3h11.43v.8h-11.43zM494.07 215.7h11.43v.8h-11.43zM539.81 214.9h11.43v.8h-11.43zM528.38 211.7h11.43v.8h-11.43zM448.33 210.1h11.43v.8h-11.43zM459.77 206.1h11.43v.8h-11.43zM482.64 195.7h11.43v.8h-11.43zM505.51 194.9h11.43v.8h-11.43zM505.51 193.3h11.43v.8h-11.43zM528.38 193.3h11.43v.8h-11.43zM482.64 190.9h11.43v.8h-11.43zM539.81 190.1h11.43v.8h-11.43zM434.9 181.3h13.43v.8h-13.43zM505.51 180.5h11.43v.8h-11.43zM482.64 178.9h11.43v.8h-11.43zM434.9 178.1h13.43v.8h-13.43zM516.94 177.3h11.43v.8h-11.43zM459.77 175.7h11.43v.8h-11.43zM471.2 173.3h11.43v.8h-11.43zM516.94 173.3h11.43v.8h-11.43zM494.07 170.1h11.43v.8h-11.43zM459.77 167.7h11.43v.8h-11.43zM434.9 166.9h24.87v.8h-24.87zM494.07 166.9h11.43v.8h-11.43zM434.9 162.9h13.43v.8h-13.43zM505.51 159.7h11.43v.8h-11.43zM539.81 158.9h11.43v.8h-11.43zM459.77 154.1h11.43v.8h-11.43zM505.51 154.1h11.43v.8h-11.43zM482.64 153.3h11.43v.8h-11.43zM539.81 148.5h11.43v.8h-11.43zM482.64 142.9h11.43v.8h-11.43zM516.94 142.9h11.43v.8h-11.43zM471.2 137.7h11.43v2.8h-11.43z"/>
<path fill="#29af7f" d="M516.94 239.7h11.43v.8h-11.43zM505.51 238.9h11.43v.8h-11.43zM459.77 238.1h11.43v.8h-11.43zM434.9 233.3h13.43v.8h-13.43zM471.2 228.5h11.43v.8h-11.43zM434.9 227.7h13.43v.8h-13.43zM494.07 226.1h11.43v.8h-11.43zM528.38 222.9h11.43v.8h-11.43zM459.77 221.3h11.43v.8h-11.43zM494.07 221.3h11.43v.8h-11.43zM494.07 218.1h11.43v.8h-11.43zM471.2 214.9h11.43v.8h-11.43zM494.07 214.1h11.43v.8h-11.43zM539.81 214.1h11.43v.8h-11.43zM482.64 210.9h11.43v.8h-11.43zM505.51 210.9h11.43v.8h-11.43zM494.07 210.1h22.87v.8h-22.87zM539.81 207.7h11.43v.8h-11.43zM459.77 203.7h11.43v.8h-11.43zM434.9 198.1h13.43v.8h-13.43zM434.9 197.3h13.43v.8h-13.43zM528.38 196.5h11.43v.8h-11.43zM494.07 193.3h11.43v.8h-11.43zM539.81 193.3h11.43v.8h-11.43zM528.38 192.5h11.43v.8h-11.43zM494.07 189.3h11.43v.8h-11.43zM434.9 187.7h13.43v.8h-13.43zM505.51 187.7h11.43v.8h-11.43zM482.64 186.9h11.43v.8h-11.43zM459.77 185.3h11.43v.8h-11.43zM448.33 182.1h11.43v.8h-11.43zM539.81 181.3h11.43v.8h-11.43zM539.81 180.5h11.43v.8h-11.43zM434.9 179.7h13.43v.8h-13.43zM505.51 179.7h11.43v.8h-11.43zM482.64 174.9h11.43v.8h-11.43zM459.77 171.7h11.43v.8h-11.43zM482.64 166.9h11.43v.8h-11.43zM505.51 166.1h11.43v.8h-11.43zM494.07 162.9h11.43v.8h-11.43zM434.9 161.3h24.87v.8h-24.87zM471.2 158.9h11.43v.8h-11.43zM459.77 154.9h11.43v.8h-11.43zM516.94 154.9h11.43v.8h-11.43zM539.81 154.1h11.43v.8h-11.43zM528.38 152.5h11.43v.8h-11.43zM434.9 151.7h13.43v.8h-13.43zM459.77 150.1h11.43v.8h-11.43zM516.94 150.1h11.43v.8h-11.43zM539.81 146.1h11.43v.8h-11.43z"/>
<path fill="#2cb17e" d="M434.9 235.7h13.43v.8h-13.43zM434.9 234.9h13.43v.8h-13.43zM448.33 226.9h11.43v.8h-11.43zM539.81 222.9h11.43v.8h-11.43zM494.07 219.7h11.43v.8h-11.43zM505.51 218.9h11.43v.8h-11.43zM516.94 218.1h22.87v.8h-22.87zM482.64 216.5h11.43v.8h-11.43zM471.2 213.3h11.43v.8h-11.43zM505.51 213.3h11.43v.8h-11.43zM516.94 212.5h11.43v.8h-11.43zM471.2 210.1h11.43v.8h-11.43zM505.51 208.5h11.43v.8h-11.43zM516.94 206.9h11.43v.8h-11.43zM459.77 202.9h11.43v.8h-11.43zM459.77 202.1h11.43v.8h-11.43zM528.38 200.5h11.43v.8h-11.43zM482.64 196.5h11.43v.8h-11.43zM539.81 196.5h11.43v.8h-11.43zM528.38 194.1h11.43v.8h-11.43zM516.94 192.5h11.43v.8h-11.43zM516.94 191.7h11.43v.8h-11.43zM528.38 190.1h11.43v.8h-11.43zM448.33 185.3h11.43v.8h-11.43zM459.77 183.7h11.43v.8h-11.43zM516.94 181.3h22.87v.8h-22.87zM528.38 180.5h11.43v.8h-11.43zM482.64 179.7h11.43v.8h-11.43zM539.81 179.7h11.43v.8h-11.43zM459.77 176.5h11.43v.8h-11.43zM448.33 174.9h11.43v.8h-11.43zM494.07 168.5h11.43v.8h-11.43zM448.33 160.5h11.43v.8h-11.43zM494.07 160.5h11.43v.8h-11.43zM528.38 158.1h11.43v.8h-11.43zM539.81 156.5h11.43v.8h-11.43zM528.38 154.1h11.43v.8h-11.43zM539.81 151.7h11.43v.8h-11.43zM494.07 150.9h11.43v.8h-11.43zM494.07 150.1h11.43v.8h-11.43zM494.07 146.9h11.43v.8h-11.43zM434.9 146.1h13.43v.8h-13.43zM434.9 145.3h13.43v.8h-13.43zM434.9 142.9h13.43v.8h-13.43zM505.51 142.9h11.43v.8h-11.43zM516.94 140.5h11.43v.8h-11.43z"/>
<path fill="#2fb47c" d="M471.2 240.5h11.43v.8h-11.43zM505.51 240.5h11.43v.8h-11.43zM471.2 238.9h11.43v.8h-11.43zM448.33 236.5h11.43v.8h-11.43zM434.9 232.5h13.43v.8h-13.43zM434.9 230.9h13.43v.8h-13.43zM459.77 230.1h11.43v.8h-11.43zM448.33 228.5h11.43v.8h-11.43zM471.2 226.9h11.43v.8h-11.43zM482.64 222.9h11.43v.8h-11.43zM434.9 222.1h13.43v.8h-13.43zM434.9 219.7h13.43v.8h-13.43zM505.51 215.7h11.43v.8h-11.43zM516.94 214.9h11.43v.8h-11.43zM494.07 200.5h11.43v.8h-11.43zM505.51 199.7h11.43v.8h-11.43zM505.51 198.9h11.43v.8h-11.43zM482.64 198.1h11.43v.8h-11.43zM448.33 195.7h11.43v.8h-11.43zM448.33 194.9h11.43v.8h-11.43zM471.2 194.1h11.43v.8h-11.43zM434.9 193.3h24.87v.8h-24.87zM494.07 186.9h11.43v.8h-11.43zM505.51 186.1h11.43v.8h-11.43zM505.51 183.7h11.43v.8h-11.43zM539.81 182.1h11.43v.8h-11.43zM459.77 178.1h11.43v.8h-11.43zM434.9 173.3h13.43v.8h-13.43zM539.81 173.3h11.43v.8h-11.43zM448.33 166.1h11.43v.8h-11.43zM434.9 158.1h13.43v.8h-13.43zM528.38 157.3h11.43v.8h-11.43zM459.77 155.7h11.43v.8h-11.43zM434.9 154.1h13.43v.8h-13.43zM471.2 147.7h11.43v.8h-11.43zM494.07 147.7h11.43v.8h-11.43zM539.81 142.1h11.43v.8h-11.43zM471.2 140.5h22.87v.8h-22.87z"/>
<path fill="#32b67a" d="M471.2 238.1h11.43v.8h-11.43zM448.33 235.7h11.43v.8h-11.43zM482.64 234.1h11.43v.8h-11.43zM482.64 232.5h11.43v.8h-11.43zM482.64 227.7h11.43v.8h-11.43zM459.77 220.5h11.43v.8h-11.43zM539.81 220.5h11.43v.8h-11.43zM459.77 219.7h11.43v.8h-11.43zM434.9 218.1h13.43v.8h-13.43zM434.9 212.5h13.43v.8h-13.43zM482.64 210.1h11.43v.8h-11.43zM448.33 206.9h11.43v.8h-11.43zM482.64 205.3h11.43v.8h-11.43zM539.81 205.3h11.43v.8h-11.43zM459.77 200.5h11.43v.8h-11.43zM494.07 199.7h11.43v.8h-11.43zM539.81 194.1h11.43v.8h-11.43zM459.77 192.5h11.43v.8h-11.43zM539.81 190.9h11.43v.8h-11.43zM459.77 187.7h11.43v.8h-11.43zM448.33 186.9h11.43v.8h-11.43zM434.9 183.7h13.43v.8h-13.43zM434.9 182.9h13.43v.8h-13.43zM494.07 179.7h11.43v.8h-11.43zM528.38 179.7h11.43v.8h-11.43zM516.94 178.9h11.43v.8h-11.43zM448.33 175.7h11.43v.8h-11.43zM494.07 171.7h11.43v.8h-11.43zM482.64 163.7h11.43v.8h-11.43zM494.07 157.3h11.43v.8h-11.43zM516.94 157.3h11.43v.8h-11.43zM516.94 155.7h22.87v.8h-22.87zM448.33 153.3h11.43v.8h-11.43zM448.33 152.5h11.43v.8h-11.43z"/>
<path fill="#37b878" d="M482.64 234.9h11.43v.8h-11.43zM528.38 234.1h11.43v.8h-11.43zM448.33 226.1h11.43v.8h-11.43zM505.51 226.1h11.43v.8h-11.43zM516.94 223.7h11.43v.8h-11.43zM539.81 222.1h11.43v.8h-11.43zM448.33 220.5h11.43v.8h-11.43zM448.33 219.7h11.43v.8h-11.43zM516.94 218.9h11.43v.8h-11.43zM448.33 212.5h11.43v.8h-11.43zM459.77 209.3h11.43v.8h-11.43zM494.07 209.3h11.43v.8h-11.43zM482.64 207.7h11.43v.8h-11.43zM471.2 206.1h11.43v.8h-11.43zM505.51 205.3h11.43v.8h-11.43zM528.38 205.3h11.43v.8h-11.43zM434.9 203.7h13.43v.8h-13.43zM516.94 199.7h11.43v.8h-11.43zM434.9 189.3h13.43v.8h-13.43zM505.51 188.5h11.43v.8h-11.43zM505.51 186.9h22.87v.8h-22.87zM459.77 184.5h11.43v.8h-11.43zM539.81 184.5h11.43v.8h-11.43zM482.64 180.5h11.43v.8h-11.43zM448.33 179.7h11.43v.8h-11.43zM471.2 178.1h11.43v.8h-11.43zM482.64 176.5h11.43v.8h-11.43zM539.81 169.3h11.43v.8h-11.43zM505.51 166.9h11.43v.8h-11.43zM539.81 166.9h11.43v.8h-11.43zM516.94 164.5h11.43v.8h-11.43zM516.94 163.7h11.43v.8h-11.43zM516.94 158.9h11.43v.8h-11.43zM505.51 156.5h11.43v.8h-11.43zM505.51 154.9h11.43v.8h-11.43zM516.94 148.5h11.43v.8h-11.43zM459.77 147.7h11.43v.8h-11.43zM539.81 146.9h11.43v.8h-11.43zM494.07 143.7h11.43v.8h-11.43zM471.2 142.9h11.43v.8h-11.43zM434.9 142.1h13.43v.8h-13.43z"/>
<path fill="#3bbb75" d="M459.77 240.5h11.43v.8h-11.43zM471.2 239.7h11.43v.8h-11.43zM539.81 238.1h11.43v.8h-11.43zM528.38 234.9h11.43v.8h-11.43zM448.33 232.5h11.43v.8h-11.43zM448.33 231.7h11.43v.8h-11.43zM471.2 227.7h11.43v.8h-11.43zM434.9 226.9h13.43v.8h-13.43zM539.81 225.3h11.43v.8h-11.43zM516.94 224.5h11.43v.8h-11.43zM516.94 219.7h11.43v.8h-11.43zM459.77 218.1h11.43v.8h-11.43zM528.38 217.3h11.43v.8h-11.43zM539.81 215.7h11.43v.8h-11.43zM505.51 209.3h11.43v.8h-11.43zM448.33 206.1h11.43v.8h-11.43zM482.64 206.1h11.43v.8h-11.43zM459.77 204.5h11.43v.8h-11.43zM505.51 200.5h11.43v.8h-11.43zM448.33 198.9h11.43v.8h-11.43zM482.64 198.9h11.43v.8h-11.43zM505.51 194.1h11.43v.8h-11.43zM471.2 192.5h22.87v.8h-22.87zM482.64 191.7h11.43v.8h-11.43zM528.38 190.9h11.43v.8h-11.43zM505.51 190.1h11.43v.8h-11.43zM471.2 186.1h11.43v.8h-11.43zM494.07 185.3h22.87v.8h-22.87zM448.33 184.5h11.43v.8h-11.43zM434.9 178.9h13.43v.8h-13.43zM516.94 176.5h11.43v.8h-11.43zM471.2 174.9h11.43v.8h-11.43zM494.07 169.3h11.43v.8h-11.43zM539.81 167.7h11.43v.8h-11.43zM459.77 163.7h22.87v.8h-22.87zM505.51 155.7h11.43v.8h-11.43zM539.81 155.7h11.43v.8h-11.43zM482.64 150.9h11.43v.8h-11.43zM482.64 148.5h11.43v.8h-11.43zM516.94 146.9h11.43v.8h-11.43zM459.77 144.5h11.43v.8h-11.43z"/>
<path fill="#3fbc73" d="M539.81 239.7h11.43v.8h-11.43zM482.64 238.1h11.43v.8h-11.43zM459.77 236.5h11.43v.8h-11.43zM494.07 234.1h11.43v.8h-11.43zM482.64 231.7h11.43v.8h-11.43zM448.33 227.7h11.43v.8h-11.43zM459.77 226.9h11.43v.8h-11.43zM448.33 217.3h11.43v.8h-11.43zM471.2 217.3h11.43v.8h-11.43zM434.9 215.7h13.43v.8h-13.43zM482.64 214.9h11.43v.8h-11.43zM516.94 213.3h11.43v.8h-11.43zM505.51 204.5h11.43v.8h-11.43zM482.64 200.5h11.43v.8h-11.43zM434.9 196.5h13.43v.8h-13.43zM516.94 195.7h11.43v.8h-11.43zM516.94 194.9h11.43v.8h-11.43zM528.38 191.7h11.43v.8h-11.43zM494.07 190.9h22.87v.8h-22.87zM494.07 190.1h11.43v.8h-11.43zM516.94 190.1h11.43v.8h-11.43zM539.81 189.3h11.43v.8h-11.43zM459.77 188.5h11.43v.8h-11.43zM434.9 186.9h13.43v.8h-13.43zM434.9 182.1h13.43v.8h-13.43zM471.2 174.1h11.43v.8h-11.43zM505.51 170.9h11.43v.8h-11.43zM434.9 170.1h13.43v.8h-13.43zM539.81 168.5h11.43v.8h-11.43zM528.38 158.9h11.43v.8h-11.43zM459.77 156.5h11.43v.8h-11.43zM459.77 148.5h11.43v.8h-11.43zM528.38 147.7h22.87v.8h-22.87zM482.64 146.9h11.43v.8h-11.43zM494.07 145.3h11.43v.8h-11.43zM528.38 142.1h11.43v.8h-11.43z"/>
<path fill="#44bf70" d="M482.64 233.3h11.43v.8h-11.43zM528.38 229.3h11.43v.8h-11.43zM448.33 225.3h11.43v.8h-11.43zM528.38 222.1h11.43v.8h-11.43zM505.51 220.5h11.43v.8h-11.43zM471.2 214.1h11.43v.8h-11.43zM494.07 206.1h11.43v.8h-11.43zM471.2 201.3h11.43v.8h-11.43zM528.38 201.3h11.43v.8h-11.43zM471.2 200.5h11.43v.8h-11.43zM471.2 199.7h11.43v.8h-11.43zM459.77 194.1h11.43v.8h-11.43zM482.64 193.3h11.43v.8h-11.43zM448.33 187.7h11.43v.8h-11.43zM434.9 184.5h13.43v.8h-13.43zM471.2 181.3h11.43v.8h-11.43zM494.07 180.5h11.43v.8h-11.43zM505.51 177.3h11.43v.8h-11.43zM434.9 175.7h13.43v.8h-13.43zM434.9 172.5h13.43v.8h-13.43zM528.38 170.1h11.43v.8h-11.43zM528.38 166.9h11.43v.8h-11.43zM482.64 166.1h11.43v.8h-11.43zM516.94 166.1h11.43v.8h-11.43zM459.77 161.3h11.43v.8h-11.43zM482.64 160.5h11.43v.8h-11.43zM505.51 157.3h11.43v.8h-11.43zM448.33 155.7h11.43v.8h-11.43zM482.64 154.1h11.43v.8h-11.43zM482.64 151.7h11.43v.8h-11.43zM459.77 150.9h11.43v.8h-11.43zM505.51 150.9h11.43v.8h-11.43zM471.2 150.1h11.43v.8h-11.43zM505.51 137.7h11.43v2.8h-11.43z"/>
<path fill="#48c16e" d="M482.64 238.9h11.43v.8h-11.43zM528.38 230.1h11.43v.8h-11.43zM471.2 222.9h11.43v.8h-11.43zM459.77 216.5h11.43v.8h-11.43zM494.07 216.5h11.43v.8h-11.43zM494.07 210.9h11.43v.8h-11.43zM471.2 209.3h11.43v.8h-11.43zM494.07 208.5h11.43v.8h-11.43zM539.81 202.9h11.43v.8h-11.43zM505.51 201.3h11.43v.8h-11.43zM482.64 199.7h11.43v.8h-11.43zM516.94 196.5h11.43v.8h-11.43zM516.94 193.3h11.43v.8h-11.43zM516.94 183.7h11.43v.8h-11.43zM471.2 178.9h11.43v.8h-11.43zM516.94 170.1h11.43v.8h-11.43zM505.51 158.9h11.43v.8h-11.43zM434.9 154.9h13.43v.8h-13.43zM482.64 147.7h11.43v.8h-11.43zM459.77 146.9h11.43v.8h-11.43zM482.64 146.1h11.43v.8h-11.43z"/>
<path fill="#4ec36b" d="M471.2 229.3h11.43v.8h-11.43zM482.64 226.9h11.43v.8h-11.43zM494.07 220.5h11.43v.8h-11.43zM448.33 218.1h11.43v.8h-11.43zM448.33 215.7h11.43v.8h-11.43zM482.64 209.3h11.43v.8h-11.43zM434.9 206.1h13.43v.8h-13.43zM448.33 204.5h11.43v.8h-11.43zM459.77 201.3h11.43v.8h-11.43zM471.2 198.9h11.43v.8h-11.43zM471.2 193.3h11.43v.8h-11.43zM448.33 192.5h11.43v.8h-11.43zM516.94 190.9h11.43v.8h-11.43zM448.33 188.5h11.43v.8h-11.43zM539.81 188.5h11.43v.8h-11.43zM471.2 180.5h11.43v.8h-11.43zM459.77 177.3h11.43v.8h-11.43zM539.81 172.5h11.43v.8h-11.43zM494.07 170.9h11.43v.8h-11.43zM516.94 165.3h11.43v.8h-11.43zM494.07 161.3h11.43v.8h-11.43zM505.51 150.1h11.43v.8h-11.43zM516.94 147.7h11.43v.8h-11.43zM528.38 146.9h11.43v.8h-11.43zM516.94 141.3h11.43v.8h-11.43z"/>
<path fill="#52c569" d="M471.2 237.3h11.43v.8h-11.43zM459.77 230.9h11.43v.8h-11.43zM471.2 230.1h11.43v.8h-11.43zM459.77 229.3h11.43v.8h-11.43zM539.81 229.3h11.43v.8h-11.43zM528.38 224.5h11.43v.8h-11.43zM528.38 223.7h11.43v.8h-11.43zM528.38 221.3h11.43v.8h-11.43zM448.33 216.5h11.43v.8h-11.43zM448.33 209.3h11.43v.8h-11.43zM539.81 206.9h11.43v.8h-11.43zM434.9 195.7h13.43v.8h-13.43zM459.77 193.3h11.43v.8h-11.43zM505.51 189.3h11.43v.8h-11.43zM471.2 177.3h11.43v.8h-11.43zM505.51 170.1h11.43v.8h-11.43zM482.64 162.9h11.43v.8h-11.43zM516.94 158.1h11.43v.8h-11.43zM434.9 155.7h13.43v.8h-13.43zM494.07 155.7h11.43v.8h-11.43zM494.07 154.1h11.43v.8h-11.43zM459.77 151.7h11.43v.8h-11.43zM471.2 143.7h11.43v.8h-11.43z"/>
<path fill="#58c765" d="M459.77 239.7h11.43v.8h-11.43zM539.81 237.3h11.43v.8h-11.43zM471.2 230.9h11.43v.8h-11.43zM539.81 230.9h11.43v.8h-11.43zM505.51 226.9h11.43v.8h-11.43zM505.51 219.7h11.43v.8h-11.43zM528.38 216.5h11.43v.8h-11.43zM516.94 215.7h11.43v.8h-11.43zM471.2 208.5h11.43v.8h-11.43zM434.9 206.9h13.43v.8h-13.43zM448.33 205.3h11.43v.8h-11.43zM516.94 200.5h11.43v.8h-11.43zM528.38 189.3h11.43v.8h-11.43zM482.64 186.1h11.43v.8h-11.43zM528.38 166.1h11.43v.8h-11.43zM471.2 162.9h11.43v.8h-11.43zM505.51 158.1h11.43v.8h-11.43zM494.07 156.5h11.43v.8h-11.43zM539.81 154.9h11.43v.8h-11.43zM448.33 151.7h11.43v.8h-11.43zM448.33 150.9h11.43v.8h-11.43z"/>
<path fill="#5ec962" d="M448.33 230.9h11.43v.8h-11.43zM505.51 229.3h11.43v.8h-11.43zM539.81 224.5h11.43v.8h-11.43zM459.77 217.3h11.43v.8h-11.43zM516.94 208.5h11.43v.8h-11.43zM528.38 207.7h11.43v.8h-11.43zM516.94 201.3h11.43v.8h-11.43zM516.94 194.1h11.43v.8h-11.43zM539.81 170.1h11.43v.8h-11.43zM471.2 159.7h11.43v.8h-11.43zM434.9 157.3h13.43v.8h-13.43zM459.77 157.3h11.43v.8h-11.43zM528.38 154.9h11.43v.8h-11.43zM448.33 154.1h11.43v.8h-11.43zM505.51 142.1h11.43v.8h-11.43z"/>
<path fill="#63cb5f" d="M528.38 239.7h11.43v.8h-11.43zM494.07 238.1h11.43v.8h-11.43zM516.94 234.9h11.43v.8h-11.43zM505.51 228.5h11.43v.8h-11.43zM539.81 206.1h11.43v.8h-11.43zM516.94 166.9h11.43v.8h-11.43zM528.38 165.3h11.43v.8h-11.43zM459.77 160.5h11.43v.8h-11.43zM448.33 154.9h11.43v.8h-11.43zM494.07 154.9h11.43v.8h-11.43zM471.2 153.3h11.43v.8h-11.43z"/>
<path fill="#69cd5b" d="M505.51 238.1h11.43v.8h-11.43zM528.38 235.7h11.43v.8h-11.43zM494.07 234.9h11.43v.8h-11.43zM539.81 226.1h11.43v.8h-11.43zM471.2 222.1h11.43v.8h-11.43zM482.64 214.1h11.43v.8h-11.43zM528.38 206.1h11.43v.8h-11.43zM516.94 187.7h11.43v.8h-11.43zM471.2 176.5h11.43v.8h-11.43zM471.2 175.7h11.43v.8h-11.43zM434.9 156.5h13.43v.8h-13.43zM471.2 150.9h11.43v.8h-11.43zM482.64 143.7h11.43v.8h-11.43zM505.51 141.3h11.43v.8h-11.43z"/>
<path fill="#6ece58" d="M505.51 234.9h11.43v.8h-11.43zM482.64 230.1h11.43v.8h-11.43zM539.81 230.1h11.43v.8h-11.43zM539.81 221.3h11.43v.8h-11.43zM482.64 208.5h11.43v.8h-11.43zM494.07 186.1h11.43v.8h-11.43zM459.77 179.7h22.87v.8h-22.87zM471.2 151.7h11.43v.8h-11.43zM471.2 146.9h11.43v.8h-11.43zM505.51 145.3h11.43v.8h-11.43zM516.94 142.1h11.43v.8h-11.43z"/>
<path fill="#75d054" d="M459.77 237.3h11.43v.8h-11.43zM494.07 233.3h11.43v.8h-11.43zM459.77 227.7h11.43v.8h-11.43zM528.38 215.7h11.43v.8h-11.43zM459.77 205.3h11.43v.8h-11.43zM516.94 189.3h11.43v.8h-11.43zM482.64 175.7h11.43v.8h-11.43zM471.2 160.5h11.43v.8h-11.43zM448.33 156.5h11.43v.8h-11.43zM459.77 153.3h11.43v.8h-11.43z"/>
<path fill="#7ad151" d="M494.07 226.9h11.43v.8h-11.43zM528.38 188.5h11.43v.8h-11.43zM482.64 162.1h11.43v.8h-11.43zM494.07 146.1h22.87v.8h-22.87zM505.51 140.5h11.43v.8h-11.43z"/>
<path fill="#81d34d" d="M539.81 238.9h11.43v.8h-11.43zM494.07 235.7h11.43v.8h-11.43zM539.81 234.1h11.43v.8h-11.43zM494.07 232.5h11.43v.8h-11.43zM539.81 228.5h11.43v.8h-11.43zM516.94 207.7h11.43v.8h-11.43z"/>
<path fill="#86d549" d="M516.94 237.3h11.43v.8h-11.43zM494.07 231.7h11.43v.8h-11.43zM539.81 231.7h11.43v.8h-11.43zM459.77 228.5h11.43v.8h-11.43zM494.07 204.5h11.43v.8h-11.43zM516.94 188.5h11.43v.8h-11.43z"/>
<path fill="#8ed645" d="M516.94 238.9h11.43v.8h-11.43zM528.38 238.1h11.43v.8h-11.43zM539.81 236.5h11.43v.8h-11.43zM539.81 235.7h11.43v.8h-11.43zM528.38 230.9h11.43v.8h-11.43zM528.38 226.9h11.43v.8h-11.43zM528.38 206.9h11.43v.8h-11.43zM448.33 157.3h11.43v.8h-11.43z"/>
<path fill="#95d840" d="M494.07 227.7h11.43v.8h-11.43zM539.81 223.7h11.43v.8h-11.43zM494.07 205.3h11.43v.8h-11.43zM471.2 152.5h11.43v.8h-11.43z"/>
<path fill="#9bd93c" d="M516.94 236.5h11.43v.8h-11.43zM505.51 234.1h22.87v.8h-22.87zM528.38 233.3h22.87v.8h-22.87zM494.07 230.1h11.43v.8h-11.43zM516.94 225.3h11.43v.8h-11.43zM471.2 161.3h11.43v.8h-11.43z"/>
<path fill="#a2da37" d="M482.64 230.9h11.43v.8h-11.43zM539.81 226.9h11.43v.8h-11.43zM528.38 225.3h11.43v.8h-11.43zM471.2 162.1h11.43v.8h-11.43z"/>
<path fill="#a8db34" d="M505.51 227.7h11.43v.8h-11.43z"/>
<path fill="#b0dd2f" d="M528.38 238.9h11.43v.8h-11.43zM539.81 234.9h11.43v.8h-11.43zM516.94 229.3h11.43v.8h-11.43zM482.64 161.3h11.43v.8h-11.43zM459.77 152.5h11.43v.8h-11.43z"/>
<path fill="#b5de2b" d="M505.51 235.7h11.43v.8h-11.43zM516.94 226.9h11.43v.8h-11.43z"/>
<path fill="#bddf26" d="M528.38 237.3h11.43v.8h-11.43zM505.51 230.1h11.43v.8h-11.43zM528.38 228.5h11.43v.8h-11.43z"/>
<path fill="#c2df23" d="M516.94 235.7h11.43v.8h-11.43zM505.51 233.3h11.43v.8h-11.43zM516.94 230.1h11.43v.8h-11.43z"/>
<path fill="#cae11f" d="M505.51 232.5h11.43v.8h-11.43zM505.51 230.9h11.43v.8h-11.43z"/>
<path fill="#d2e21b" d="M505.51 231.7h11.43v.8h-11.43zM528.38 226.1h11.43v.8h-11.43z"/>
<path fill="#d8e219" d="M516.94 238.1h11.43v.8h-11.43zM528.38 236.5h11.43v.8h-11.43zM539.81 232.5h11.43v.8h-11.43zM516.94 227.7h34.3v.8h-34.3z"/>
<path fill="#dfe318" d="M528.38 231.7h11.43v.8h-11.43z"/>
<path fill="#e5e419" d="M516.94 226.1h11.43v.8h-11.43z"/>
<path fill="#ece51b" d="M494.07 230.9h11.43v.8h-11.43z"/>
<path fill="#fde725" d="M516.94 233.3h11.43v.8h-11.43zM516.94 232.5h22.87v.8h-22.87zM516.94 231.7h11.43v.8h-11.43zM516.94 230.9h11.43v.8h-11.43zM516.94 228.5h11.43v.8h-11.43z"/>
</g>
<line x1="472.63" y1="242.1" x2="472.63" y2="139.7" stroke="#0000ff" stroke-width="1.5" stroke-dasharray="4.5 1.95"/>
</g>
<rect x="436.9" y="139.7" width="107.2" height="102.4" fill="none" stroke="#222" stroke-width="0.4"/>
<path d="M436.9 242.1v2.3M454.77 242.1v2.3M472.63 242.1v2.3M490.5 242.1v2.3M508.37 242.1v2.3M526.23 242.1v2.3M544.1 242.1v2.3M436.9 242.1h-2.3M436.9 221.62h-2.3M436.9 201.14h-2.3M436.9 180.66h-2.3M436.9 160.18h-2.3M436.9 139.7h-2.3" stroke="#444" stroke-width="0.4" fill="none"/>
<g font-family="'DejaVu Sans', 'Liberation Sans', sans-serif" font-weight="bold" stroke="#000" stroke-width="0.18" font-size="4.8" fill="#000">
<text x="436.9" y="248.5" text-anchor="middle">48</text>
<text x="454.77" y="248.5" text-anchor="middle">49</text>
<text x="472.63" y="248.5" text-anchor="middle">50</text>
<text x="490.5" y="248.5" text-anchor="middle">51</text>
<text x="508.37" y="248.5" text-anchor="middle">52</text>
<text x="526.23" y="248.5" text-anchor="middle">53</text>
<text x="544.1" y="248.5" text-anchor="middle">54</text>
<text x="434.3" y="243.9" text-anchor="end">0</text>
<text x="434.3" y="223.42" text-anchor="end">20</text>
<text x="434.3" y="202.94" text-anchor="end">40</text>
<text x="434.3" y="182.46" text-anchor="end">60</text>
<text x="434.3" y="161.98" text-anchor="end">80</text>
<text x="434.3" y="141.5" text-anchor="end">100</text>
</g>
<text x="490.5" y="137.8" text-anchor="middle" font-size="5.95" font-family="'DejaVu Sans', 'Liberation Sans', sans-serif" font-weight="bold" stroke="#000" stroke-width="0.18">SNRdB=-1, windowsize=256</text>
<text x="490.5" y="256.6" text-anchor="middle" font-size="6.8" font-family="'DejaVu Sans', 'Liberation Sans', sans-serif" font-weight="bold" stroke="#000" stroke-width="0.18">Time</text>
<text transform="translate(421 191.75) rotate(-90)" text-anchor="middle" font-size="6.6" font-family="'DejaVu Sans', 'Liberation Sans', sans-serif" font-weight="bold" stroke="#000" stroke-width="0.18">Frequency</text>
</svg></body></html>
